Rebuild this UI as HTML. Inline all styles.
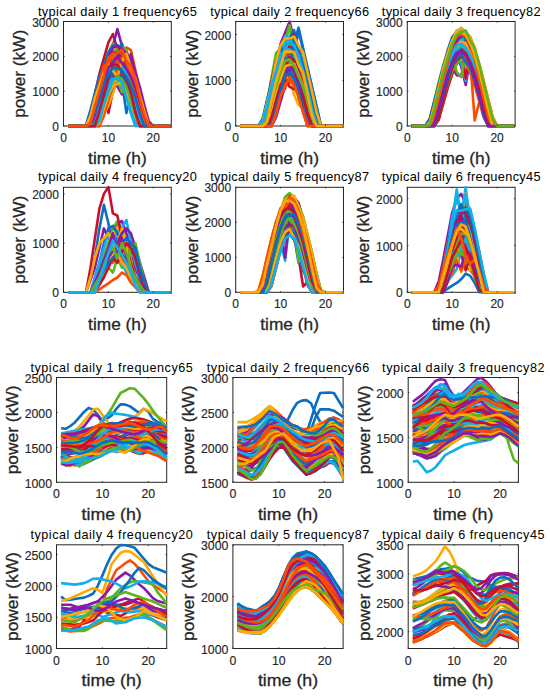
<!DOCTYPE html><html><head><meta charset="utf-8"><style>html,body{margin:0;padding:0;background:#fff;}svg{display:block;font-family:"Liberation Sans",sans-serif;}text{stroke:#262626;stroke-width:0.3px;}text.t{stroke:none;}text.k{stroke-width:0.15px;}</style></head><body>
<svg width="550" height="696" viewBox="0 0 550 696">
<rect width="550" height="696" fill="#fff"/>
<rect x="63.5" y="21.5" width="107.8" height="104.5" fill="none" stroke="#262626" stroke-width="1"/>
<clipPath id="c0"><rect x="61.5" y="19.5" width="111.8" height="108.5"/></clipPath>
<g clip-path="url(#c0)" fill="none" stroke-width="2.6" stroke-linejoin="round" stroke-linecap="butt">
<polyline stroke="#0a6ec4" points="68.0,126.0 72.5,126.0 77.0,126.0 81.5,126.0 86.0,126.0 90.5,126.0 94.9,118.6 99.4,101.3 103.9,85.0 108.4,71.6 112.9,64.6 117.4,57.8 121.9,56.8 126.4,68.4 130.9,77.3 135.4,93.9 139.9,108.8 144.4,123.9 148.8,126.0 153.3,126.0 157.8,126.0 162.3,126.0 166.8,126.0 171.3,126.0"/>
<polyline stroke="#ff4a00" points="68.0,126.0 72.5,126.0 77.0,126.0 81.5,126.0 86.0,126.0 90.5,126.0 94.9,114.4 99.4,98.9 103.9,82.9 108.4,69.7 112.9,61.3 117.4,61.6 121.9,60.3 126.4,64.8 130.9,82.8 135.4,94.0 139.9,111.5 144.4,126.0 148.8,126.0 153.3,126.0 157.8,126.0 162.3,126.0 166.8,126.0 171.3,126.0"/>
<polyline stroke="#ffaa00" points="68.0,126.0 72.5,126.0 77.0,126.0 81.5,126.0 86.0,126.0 90.5,126.0 94.9,126.0 99.4,110.5 103.9,92.3 108.4,81.4 112.9,70.3 117.4,62.5 121.9,71.0 126.4,75.7 130.9,88.4 135.4,104.0 139.9,121.8 144.4,126.0 148.8,126.0 153.3,126.0 157.8,126.0 162.3,126.0 166.8,126.0 171.3,126.0"/>
<polyline stroke="#8c1aa8" points="68.0,126.0 72.5,126.0 77.0,126.0 81.5,126.0 86.0,126.0 90.5,126.0 94.9,113.4 99.4,98.9 103.9,84.0 108.4,76.5 112.9,65.8 117.4,68.4 121.9,71.5 126.4,74.5 130.9,86.4 135.4,98.7 139.9,112.8 144.4,126.0 148.8,126.0 153.3,126.0 157.8,126.0 162.3,126.0 166.8,126.0 171.3,126.0"/>
<polyline stroke="#5db320" points="68.0,126.0 72.5,126.0 77.0,126.0 81.5,126.0 86.0,126.0 90.5,119.6 94.9,104.2 99.4,87.6 103.9,77.0 108.4,63.7 112.9,51.5 117.4,55.4 121.9,47.2 126.4,60.3 130.9,63.2 135.4,79.9 139.9,92.8 144.4,110.1 148.8,125.0 153.3,126.0 157.8,126.0 162.3,126.0 166.8,126.0 171.3,126.0"/>
<polyline stroke="#12b0ea" points="68.0,126.0 72.5,126.0 77.0,126.0 81.5,126.0 86.0,126.0 90.5,126.0 94.9,121.9 99.4,107.3 103.9,91.8 108.4,79.2 112.9,68.5 117.4,64.7 121.9,65.0 126.4,73.1 130.9,81.9 135.4,92.1 139.9,110.3 144.4,124.5 148.8,126.0 153.3,126.0 157.8,126.0 162.3,126.0 166.8,126.0 171.3,126.0"/>
<polyline stroke="#c8102e" points="68.0,126.0 72.5,126.0 77.0,126.0 81.5,126.0 86.0,126.0 90.5,115.5 94.9,94.7 99.4,73.8 103.9,58.1 108.4,42.4 112.9,34.0 117.4,49.4 121.9,63.3 126.4,80.7 130.9,98.1 135.4,112.1 139.9,126.0 144.4,126.0 148.8,126.0 153.3,126.0 157.8,126.0 162.3,126.0 166.8,126.0 171.3,126.0"/>
<polyline stroke="#0a6ec4" points="68.0,126.0 72.5,126.0 77.0,126.0 81.5,126.0 86.0,126.0 90.5,126.0 94.9,120.3 99.4,104.5 103.9,89.0 108.4,70.0 112.9,64.4 117.4,57.3 121.9,56.7 126.4,70.5 130.9,83.2 135.4,95.2 139.9,113.1 144.4,126.0 148.8,126.0 153.3,126.0 157.8,126.0 162.3,126.0 166.8,126.0 171.3,126.0"/>
<polyline stroke="#ff4a00" points="68.0,126.0 72.5,126.0 77.0,126.0 81.5,126.0 86.0,126.0 90.5,126.0 94.9,118.3 99.4,99.7 103.9,87.5 108.4,69.5 112.9,61.8 117.4,57.0 121.9,61.8 126.4,65.3 130.9,73.9 135.4,90.4 139.9,106.9 144.4,123.1 148.8,126.0 153.3,126.0 157.8,126.0 162.3,126.0 166.8,126.0 171.3,126.0"/>
<polyline stroke="#ffaa00" points="68.0,126.0 72.5,126.0 77.0,126.0 81.5,126.0 86.0,126.0 90.5,126.0 94.9,126.0 99.4,125.1 103.9,109.5 108.4,95.4 112.9,81.8 117.4,79.1 121.9,78.3 126.4,91.6 130.9,104.4 135.4,120.5 139.9,126.0 144.4,126.0 148.8,126.0 153.3,126.0 157.8,126.0 162.3,126.0 166.8,126.0 171.3,126.0"/>
<polyline stroke="#8c1aa8" points="68.0,126.0 72.5,126.0 77.0,126.0 81.5,126.0 86.0,126.0 90.5,126.0 94.9,113.2 99.4,100.5 103.9,87.7 108.4,66.8 112.9,45.9 117.4,29.0 121.9,45.9 126.4,66.8 130.9,87.7 135.4,100.5 139.9,113.2 144.4,126.0 148.8,126.0 153.3,126.0 157.8,126.0 162.3,126.0 166.8,126.0 171.3,126.0"/>
<polyline stroke="#5db320" points="68.0,126.0 72.5,126.0 77.0,126.0 81.5,126.0 86.0,126.0 90.5,126.0 94.9,118.1 99.4,104.0 103.9,87.7 108.4,79.0 112.9,68.7 117.4,63.8 121.9,70.7 126.4,78.6 130.9,88.6 135.4,103.0 139.9,118.2 144.4,126.0 148.8,126.0 153.3,126.0 157.8,126.0 162.3,126.0 166.8,126.0 171.3,126.0"/>
<polyline stroke="#12b0ea" points="68.0,126.0 72.5,126.0 77.0,126.0 81.5,126.0 86.0,126.0 90.5,121.2 94.9,107.3 99.4,91.0 103.9,74.9 108.4,65.4 112.9,64.2 117.4,62.8 121.9,65.4 126.4,71.7 130.9,84.6 135.4,98.4 139.9,113.8 144.4,126.0 148.8,126.0 153.3,126.0 157.8,126.0 162.3,126.0 166.8,126.0 171.3,126.0"/>
<polyline stroke="#c8102e" points="68.0,126.0 72.5,126.0 77.0,126.0 81.5,126.0 86.0,126.0 90.5,126.0 94.9,126.0 99.4,126.0 103.9,111.2 108.4,95.6 112.9,84.0 117.4,77.9 121.9,76.0 126.4,83.9 130.9,98.6 135.4,113.9 139.9,126.0 144.4,126.0 148.8,126.0 153.3,126.0 157.8,126.0 162.3,126.0 166.8,126.0 171.3,126.0"/>
<polyline stroke="#0a6ec4" points="68.0,126.0 72.5,126.0 77.0,126.0 81.5,126.0 86.0,126.0 90.5,126.0 94.9,111.2 99.4,96.4 103.9,81.6 108.4,66.8 112.9,59.8 117.4,52.8 121.9,43.4 126.4,56.3 130.9,73.8 135.4,91.2 139.9,108.6 144.4,126.0 148.8,126.0 153.3,126.0 157.8,126.0 162.3,126.0 166.8,126.0 171.3,126.0"/>
<polyline stroke="#ff4a00" points="68.0,126.0 72.5,126.0 77.0,126.0 81.5,126.0 86.0,126.0 90.5,126.0 94.9,114.7 99.4,103.4 103.9,92.0 108.4,80.7 112.9,70.3 117.4,63.3 121.9,56.3 126.4,47.5 130.9,50.1 135.4,70.3 139.9,91.2 144.4,112.1 148.8,122.8 153.3,126.0 157.8,126.0 162.3,126.0 166.8,126.0 171.3,126.0"/>
<polyline stroke="#ffaa00" points="68.0,126.0 72.5,126.0 77.0,126.0 81.5,126.0 86.0,126.0 90.5,126.0 94.9,123.6 99.4,107.1 103.9,92.7 108.4,74.9 112.9,69.4 117.4,68.0 121.9,66.8 126.4,73.5 130.9,91.9 135.4,107.3 139.9,123.1 144.4,126.0 148.8,126.0 153.3,126.0 157.8,126.0 162.3,126.0 166.8,126.0 171.3,126.0"/>
<polyline stroke="#8c1aa8" points="68.0,126.0 72.5,126.0 77.0,126.0 81.5,126.0 86.0,126.0 90.5,126.0 94.9,114.7 99.4,103.4 103.9,92.0 108.4,80.7 112.9,73.8 117.4,66.8 121.9,63.3 126.4,59.8 130.9,54.0 135.4,73.8 139.9,94.7 144.4,110.3 148.8,126.0 153.3,126.0 157.8,126.0 162.3,126.0 166.8,126.0 171.3,126.0"/>
<polyline stroke="#5db320" points="68.0,126.0 72.5,126.0 77.0,126.0 81.5,126.0 86.0,126.0 90.5,115.9 94.9,99.8 99.4,81.8 103.9,67.1 108.4,52.3 112.9,43.7 117.4,48.5 121.9,54.3 126.4,61.1 130.9,75.2 135.4,91.0 139.9,107.4 144.4,123.7 148.8,126.0 153.3,126.0 157.8,126.0 162.3,126.0 166.8,126.0 171.3,126.0"/>
<polyline stroke="#12b0ea" points="68.0,126.0 72.5,126.0 77.0,126.0 81.5,126.0 86.0,126.0 90.5,126.0 94.9,118.3 99.4,101.7 103.9,85.9 108.4,73.0 112.9,63.5 117.4,60.8 121.9,60.0 126.4,67.1 130.9,76.9 135.4,93.6 139.9,108.3 144.4,124.1 148.8,126.0 153.3,126.0 157.8,126.0 162.3,126.0 166.8,126.0 171.3,126.0"/>
<polyline stroke="#c8102e" points="68.0,126.0 72.5,126.0 77.0,126.0 81.5,126.0 86.0,126.0 90.5,126.0 94.9,110.3 99.4,94.7 103.9,80.7 108.4,113.0 112.9,91.2 117.4,73.8 121.9,80.7 126.4,89.4 130.9,98.1 135.4,112.1 139.9,126.0 144.4,126.0 148.8,126.0 153.3,126.0 157.8,126.0 162.3,126.0 166.8,126.0 171.3,126.0"/>
<polyline stroke="#0a6ec4" points="68.0,126.0 72.5,126.0 77.0,126.0 81.5,126.0 86.0,126.0 90.5,126.0 94.9,114.4 99.4,102.8 103.9,91.2 108.4,80.7 112.9,70.3 117.4,66.8 121.9,80.7 126.4,113.0 130.9,94.7 135.4,110.3 139.9,126.0 144.4,126.0 148.8,126.0 153.3,126.0 157.8,126.0 162.3,126.0 166.8,126.0 171.3,126.0"/>
<polyline stroke="#ff4a00" points="68.0,126.0 72.5,126.0 77.0,126.0 81.5,126.0 86.0,126.0 90.5,126.0 94.9,126.0 99.4,117.3 103.9,100.4 108.4,84.7 112.9,79.5 117.4,77.6 121.9,82.7 126.4,92.9 130.9,110.0 135.4,125.1 139.9,126.0 144.4,126.0 148.8,126.0 153.3,126.0 157.8,126.0 162.3,126.0 166.8,126.0 171.3,126.0"/>
<polyline stroke="#ffaa00" points="68.0,126.0 72.5,126.0 77.0,126.0 81.5,126.0 86.0,126.0 90.5,117.0 94.9,100.3 99.4,82.0 103.9,71.9 108.4,75.3 112.9,87.5 117.4,69.8 121.9,52.1 126.4,57.9 130.9,67.0 135.4,85.6 139.9,102.3 144.4,118.6 148.8,126.0 153.3,126.0 157.8,126.0 162.3,126.0 166.8,126.0 171.3,126.0"/>
<polyline stroke="#8c1aa8" points="68.0,126.0 72.5,126.0 77.0,126.0 81.5,126.0 86.0,126.0 90.5,126.0 94.9,121.6 99.4,107.6 103.9,94.8 108.4,80.2 112.9,74.9 117.4,74.0 121.9,76.0 126.4,83.4 130.9,93.8 135.4,109.7 139.9,122.7 144.4,126.0 148.8,126.0 153.3,126.0 157.8,126.0 162.3,126.0 166.8,126.0 171.3,126.0"/>
<polyline stroke="#5db320" points="68.0,126.0 72.5,126.0 77.0,126.0 81.5,126.0 86.0,126.0 90.5,126.0 94.9,126.0 99.4,113.0 103.9,95.4 108.4,79.7 112.9,71.0 117.4,69.5 121.9,66.1 126.4,76.4 130.9,88.5 135.4,104.9 139.9,121.2 144.4,126.0 148.8,126.0 153.3,126.0 157.8,126.0 162.3,126.0 166.8,126.0 171.3,126.0"/>
<polyline stroke="#12b0ea" points="68.0,126.0 72.5,126.0 77.0,126.0 81.5,126.0 86.0,126.0 90.5,126.0 94.9,123.5 99.4,108.8 103.9,94.2 108.4,84.3 112.9,74.1 117.4,68.8 121.9,73.8 126.4,85.8 130.9,101.2 135.4,117.7 139.9,126.0 144.4,126.0 148.8,126.0 153.3,126.0 157.8,126.0 162.3,126.0 166.8,126.0 171.3,126.0"/>
<polyline stroke="#c8102e" points="68.0,126.0 72.5,126.0 77.0,126.0 81.5,126.0 86.0,126.0 90.5,120.9 94.9,105.1 99.4,86.7 103.9,76.1 108.4,63.5 112.9,58.6 117.4,51.3 121.9,64.3 126.4,69.0 130.9,80.8 135.4,94.2 139.9,111.0 144.4,125.8 148.8,126.0 153.3,126.0 157.8,126.0 162.3,126.0 166.8,126.0 171.3,126.0"/>
<polyline stroke="#0a6ec4" points="68.0,126.0 72.5,126.0 77.0,126.0 81.5,126.0 86.0,126.0 90.5,126.0 94.9,126.0 99.4,121.2 103.9,107.0 108.4,95.7 112.9,89.4 117.4,81.9 121.9,86.1 126.4,93.8 130.9,106.5 135.4,120.1 139.9,126.0 144.4,126.0 148.8,126.0 153.3,126.0 157.8,126.0 162.3,126.0 166.8,126.0 171.3,126.0"/>
<polyline stroke="#ff4a00" points="68.0,126.0 72.5,126.0 77.0,126.0 81.5,126.0 86.0,126.0 90.5,126.0 94.9,126.0 99.4,110.4 103.9,93.1 108.4,75.9 112.9,61.9 117.4,52.4 121.9,64.0 126.4,71.4 130.9,86.2 135.4,102.2 139.9,121.4 144.4,126.0 148.8,126.0 153.3,126.0 157.8,126.0 162.3,126.0 166.8,126.0 171.3,126.0"/>
<polyline stroke="#ffaa00" points="68.0,126.0 72.5,126.0 77.0,126.0 81.5,126.0 86.0,126.0 90.5,126.0 94.9,126.0 99.4,126.0 103.9,114.2 108.4,105.5 112.9,93.6 117.4,79.5 121.9,83.6 126.4,90.8 130.9,106.9 135.4,122.1 139.9,126.0 144.4,126.0 148.8,126.0 153.3,126.0 157.8,126.0 162.3,126.0 166.8,126.0 171.3,126.0"/>
<polyline stroke="#8c1aa8" points="68.0,126.0 72.5,126.0 77.0,126.0 81.5,126.0 86.0,126.0 90.5,126.0 94.9,126.0 99.4,118.7 103.9,100.6 108.4,84.1 112.9,75.6 117.4,70.4 121.9,75.7 126.4,86.0 130.9,102.3 135.4,120.0 139.9,126.0 144.4,126.0 148.8,126.0 153.3,126.0 157.8,126.0 162.3,126.0 166.8,126.0 171.3,126.0"/>
<polyline stroke="#5db320" points="68.0,126.0 72.5,126.0 77.0,126.0 81.5,126.0 86.0,126.0 90.5,126.0 94.9,126.0 99.4,113.2 103.9,94.2 108.4,78.7 112.9,65.2 117.4,59.8 121.9,65.4 126.4,75.8 130.9,94.3 135.4,114.2 139.9,126.0 144.4,126.0 148.8,126.0 153.3,126.0 157.8,126.0 162.3,126.0 166.8,126.0 171.3,126.0"/>
<polyline stroke="#12b0ea" points="68.0,126.0 72.5,126.0 77.0,126.0 81.5,126.0 86.0,126.0 90.5,126.0 94.9,114.7 99.4,97.9 103.9,79.6 108.4,64.6 112.9,58.6 117.4,51.8 121.9,55.0 126.4,64.0 130.9,76.4 135.4,91.6 139.9,109.5 144.4,125.7 148.8,126.0 153.3,126.0 157.8,126.0 162.3,126.0 166.8,126.0 171.3,126.0"/>
<polyline stroke="#c8102e" points="68.0,126.0 72.5,126.0 77.0,126.0 81.5,126.0 86.0,126.0 90.5,126.0 94.9,126.0 99.4,111.2 103.9,93.2 108.4,77.8 112.9,69.6 117.4,64.0 121.9,75.4 126.4,79.7 130.9,97.4 135.4,113.1 139.9,126.0 144.4,126.0 148.8,126.0 153.3,126.0 157.8,126.0 162.3,126.0 166.8,126.0 171.3,126.0"/>
<polyline stroke="#0a6ec4" points="68.0,126.0 72.5,126.0 77.0,126.0 81.5,126.0 86.0,126.0 90.5,126.0 94.9,114.4 99.4,97.7 103.9,78.2 108.4,68.0 112.9,57.9 117.4,59.5 121.9,60.7 126.4,70.9 130.9,87.1 135.4,101.9 139.9,121.0 144.4,126.0 148.8,126.0 153.3,126.0 157.8,126.0 162.3,126.0 166.8,126.0 171.3,126.0"/>
<polyline stroke="#ff4a00" points="68.0,126.0 72.5,126.0 77.0,126.0 81.5,126.0 86.0,126.0 90.5,126.0 94.9,126.0 99.4,126.0 103.9,115.7 108.4,100.2 112.9,84.0 117.4,81.5 121.9,78.3 126.4,88.8 130.9,99.0 135.4,115.1 139.9,126.0 144.4,126.0 148.8,126.0 153.3,126.0 157.8,126.0 162.3,126.0 166.8,126.0 171.3,126.0"/>
<polyline stroke="#ffaa00" points="68.0,126.0 72.5,126.0 77.0,126.0 81.5,126.0 86.0,126.0 90.5,126.0 94.9,126.0 99.4,117.4 103.9,98.0 108.4,83.7 112.9,71.0 117.4,64.0 121.9,62.3 126.4,75.7 130.9,90.2 135.4,107.2 139.9,125.5 144.4,126.0 148.8,126.0 153.3,126.0 157.8,126.0 162.3,126.0 166.8,126.0 171.3,126.0"/>
<polyline stroke="#8c1aa8" points="68.0,126.0 72.5,126.0 77.0,126.0 81.5,126.0 86.0,126.0 90.5,126.0 94.9,126.0 99.4,112.6 103.9,94.7 108.4,78.8 112.9,74.5 117.4,86.7 121.9,94.3 126.4,86.6 130.9,87.4 135.4,106.5 139.9,122.1 144.4,126.0 148.8,126.0 153.3,126.0 157.8,126.0 162.3,126.0 166.8,126.0 171.3,126.0"/>
<polyline stroke="#5db320" points="68.0,126.0 72.5,126.0 77.0,126.0 81.5,126.0 86.0,126.0 90.5,126.0 94.9,111.2 99.4,93.9 103.9,77.0 108.4,64.7 112.9,51.5 117.4,49.2 121.9,47.5 126.4,50.0 130.9,63.3 135.4,78.5 139.9,96.7 144.4,115.2 148.8,126.0 153.3,126.0 157.8,126.0 162.3,126.0 166.8,126.0 171.3,126.0"/>
<polyline stroke="#12b0ea" points="68.0,126.0 72.5,126.0 77.0,126.0 81.5,126.0 86.0,126.0 90.5,126.0 94.9,126.0 99.4,124.3 103.9,109.4 108.4,97.4 112.9,87.2 117.4,79.3 121.9,85.3 126.4,95.6 130.9,108.9 135.4,124.0 139.9,126.0 144.4,126.0 148.8,126.0 153.3,126.0 157.8,126.0 162.3,126.0 166.8,126.0 171.3,126.0"/>
<polyline stroke="#c8102e" points="68.0,126.0 72.5,126.0 77.0,126.0 81.5,126.0 86.0,126.0 90.5,112.8 94.9,96.7 99.4,80.9 103.9,69.0 108.4,56.7 112.9,45.8 117.4,45.8 121.9,52.6 126.4,58.9 130.9,70.3 135.4,85.1 139.9,103.6 144.4,119.9 148.8,126.0 153.3,126.0 157.8,126.0 162.3,126.0 166.8,126.0 171.3,126.0"/>
<polyline stroke="#0a6ec4" points="68.0,126.0 72.5,126.0 77.0,126.0 81.5,126.0 86.0,124.9 90.5,109.9 94.9,92.8 99.4,76.4 103.9,66.1 108.4,52.5 112.9,46.0 117.4,45.1 121.9,48.3 126.4,60.9 130.9,72.9 135.4,85.9 139.9,104.7 144.4,119.3 148.8,126.0 153.3,126.0 157.8,126.0 162.3,126.0 166.8,126.0 171.3,126.0"/>
<polyline stroke="#ff4a00" points="68.0,126.0 72.5,126.0 77.0,126.0 81.5,126.0 86.0,126.0 90.5,126.0 94.9,126.0 99.4,126.0 103.9,114.3 108.4,96.9 112.9,86.3 117.4,84.2 121.9,82.9 126.4,91.9 130.9,108.3 135.4,123.6 139.9,126.0 144.4,126.0 148.8,126.0 153.3,126.0 157.8,126.0 162.3,126.0 166.8,126.0 171.3,126.0"/>
<polyline stroke="#ffaa00" points="68.0,126.0 72.5,126.0 77.0,126.0 81.5,126.0 86.0,126.0 90.5,126.0 94.9,126.0 99.4,123.2 103.9,106.7 108.4,94.9 112.9,82.6 117.4,79.5 121.9,85.5 126.4,95.8 130.9,111.7 135.4,126.0 139.9,126.0 144.4,126.0 148.8,126.0 153.3,126.0 157.8,126.0 162.3,126.0 166.8,126.0 171.3,126.0"/>
<polyline stroke="#8c1aa8" points="68.0,126.0 72.5,126.0 77.0,126.0 81.5,126.0 86.0,126.0 90.5,120.5 94.9,104.9 99.4,88.4 103.9,71.5 108.4,58.0 112.9,47.7 117.4,45.8 121.9,48.9 126.4,53.4 130.9,59.7 135.4,72.6 139.9,87.1 144.4,105.4 148.8,121.4 153.3,126.0 157.8,126.0 162.3,126.0 166.8,126.0 171.3,126.0"/>
<polyline stroke="#5db320" points="68.0,126.0 72.5,126.0 77.0,126.0 81.5,126.0 86.0,126.0 90.5,126.0 94.9,126.0 99.4,110.4 103.9,90.2 108.4,80.3 112.9,68.2 117.4,79.1 121.9,92.2 126.4,88.3 130.9,90.7 135.4,105.0 139.9,123.2 144.4,126.0 148.8,126.0 153.3,126.0 157.8,126.0 162.3,126.0 166.8,126.0 171.3,126.0"/>
<polyline stroke="#12b0ea" points="68.0,126.0 72.5,126.0 77.0,126.0 81.5,126.0 86.0,126.0 90.5,126.0 94.9,126.0 99.4,117.9 103.9,96.8 108.4,83.5 112.9,70.9 117.4,67.1 121.9,72.0 126.4,86.8 130.9,105.6 135.4,124.5 139.9,126.0 144.4,126.0 148.8,126.0 153.3,126.0 157.8,126.0 162.3,126.0 166.8,126.0 171.3,126.0"/>
<polyline stroke="#c8102e" points="68.0,126.0 72.5,126.0 77.0,126.0 81.5,126.0 86.0,126.0 90.5,126.0 94.9,112.3 99.4,96.6 103.9,82.0 108.4,66.2 112.9,58.1 117.4,60.0 121.9,61.6 126.4,65.8 130.9,78.5 135.4,96.1 139.9,111.9 144.4,126.0 148.8,126.0 153.3,126.0 157.8,126.0 162.3,126.0 166.8,126.0 171.3,126.0"/>
<polyline stroke="#0a6ec4" points="68.0,126.0 72.5,126.0 77.0,126.0 81.5,126.0 86.0,126.0 90.5,124.5 94.9,111.1 99.4,98.4 103.9,88.9 108.4,68.4 112.9,65.3 117.4,59.2 121.9,66.8 126.4,66.2 130.9,75.1 135.4,87.5 139.9,103.2 144.4,117.5 148.8,126.0 153.3,126.0 157.8,126.0 162.3,126.0 166.8,126.0 171.3,126.0"/>
<polyline stroke="#ff4a00" points="68.0,126.0 72.5,126.0 77.0,126.0 81.5,126.0 86.0,126.0 90.5,126.0 94.9,123.3 99.4,105.6 103.9,85.4 108.4,74.4 112.9,62.1 117.4,61.0 121.9,64.2 126.4,73.0 130.9,82.0 135.4,99.6 139.9,119.7 144.4,126.0 148.8,126.0 153.3,126.0 157.8,126.0 162.3,126.0 166.8,126.0 171.3,126.0"/>
<polyline stroke="#ffaa00" points="68.0,126.0 72.5,126.0 77.0,126.0 81.5,126.0 86.0,126.0 90.5,126.0 94.9,126.0 99.4,122.4 103.9,108.5 108.4,94.5 112.9,86.0 117.4,83.8 121.9,82.4 126.4,94.0 130.9,101.8 135.4,116.8 139.9,126.0 144.4,126.0 148.8,126.0 153.3,126.0 157.8,126.0 162.3,126.0 166.8,126.0 171.3,126.0"/>
<polyline stroke="#8c1aa8" points="68.0,126.0 72.5,126.0 77.0,126.0 81.5,126.0 86.0,126.0 90.5,126.0 94.9,118.7 99.4,103.5 103.9,86.0 108.4,74.4 112.9,69.2 117.4,65.9 121.9,70.8 126.4,80.6 130.9,93.1 135.4,110.2 139.9,125.8 144.4,126.0 148.8,126.0 153.3,126.0 157.8,126.0 162.3,126.0 166.8,126.0 171.3,126.0"/>
<polyline stroke="#5db320" points="68.0,126.0 72.5,126.0 77.0,126.0 81.5,126.0 86.0,126.0 90.5,119.4 94.9,102.5 99.4,88.0 103.9,71.7 108.4,62.8 112.9,54.0 117.4,56.5 121.9,56.2 126.4,58.3 130.9,77.9 135.4,87.2 139.9,102.7 144.4,119.1 148.8,126.0 153.3,126.0 157.8,126.0 162.3,126.0 166.8,126.0 171.3,126.0"/>
<polyline stroke="#12b0ea" points="68.0,126.0 72.5,126.0 77.0,126.0 81.5,126.0 86.0,126.0 90.5,126.0 94.9,123.8 99.4,107.8 103.9,94.2 108.4,76.5 112.9,61.7 117.4,69.3 121.9,64.5 126.4,74.2 130.9,88.0 135.4,102.4 139.9,120.3 144.4,126.0 148.8,126.0 153.3,126.0 157.8,126.0 162.3,126.0 166.8,126.0 171.3,126.0"/>
<polyline stroke="#c8102e" points="68.0,126.0 72.5,126.0 77.0,126.0 81.5,126.0 86.0,126.0 90.5,117.4 94.9,104.1 99.4,89.9 103.9,71.9 108.4,63.9 112.9,52.7 117.4,52.9 121.9,57.6 126.4,60.5 130.9,66.5 135.4,79.8 139.9,95.8 144.4,110.8 148.8,124.6 153.3,126.0 157.8,126.0 162.3,126.0 166.8,126.0 171.3,126.0"/>
<polyline stroke="#0a6ec4" points="68.0,126.0 72.5,126.0 77.0,126.0 81.5,126.0 86.0,126.0 90.5,126.0 94.9,126.0 99.4,112.8 103.9,97.1 108.4,79.8 112.9,73.1 117.4,72.3 121.9,73.4 126.4,83.6 130.9,99.2 135.4,114.2 139.9,126.0 144.4,126.0 148.8,126.0 153.3,126.0 157.8,126.0 162.3,126.0 166.8,126.0 171.3,126.0"/>
<polyline stroke="#ff4a00" points="68.0,126.0 72.5,126.0 77.0,126.0 81.5,126.0 86.0,126.0 90.5,116.8 94.9,100.0 99.4,82.5 103.9,65.6 108.4,63.1 112.9,55.7 117.4,74.2 121.9,57.5 126.4,62.0 130.9,74.0 135.4,87.1 139.9,105.5 144.4,121.2 148.8,126.0 153.3,126.0 157.8,126.0 162.3,126.0 166.8,126.0 171.3,126.0"/>
<polyline stroke="#ffaa00" points="68.0,126.0 72.5,126.0 77.0,126.0 81.5,126.0 86.0,126.0 90.5,115.8 94.9,97.8 99.4,85.6 103.9,72.7 108.4,64.4 112.9,70.8 117.4,76.6 121.9,61.2 126.4,53.8 130.9,67.9 135.4,78.6 139.9,95.7 144.4,111.3 148.8,125.5 153.3,126.0 157.8,126.0 162.3,126.0 166.8,126.0 171.3,126.0"/>
<polyline stroke="#8c1aa8" points="68.0,126.0 72.5,126.0 77.0,126.0 81.5,126.0 86.0,126.0 90.5,123.3 94.9,108.3 99.4,95.5 103.9,77.7 108.4,67.4 112.9,62.9 117.4,56.1 121.9,63.2 126.4,69.0 130.9,76.9 135.4,87.4 139.9,101.5 144.4,116.3 148.8,126.0 153.3,126.0 157.8,126.0 162.3,126.0 166.8,126.0 171.3,126.0"/>
<polyline stroke="#5db320" points="68.0,126.0 72.5,126.0 77.0,126.0 81.5,126.0 86.0,126.0 90.5,126.0 94.9,126.0 99.4,117.8 103.9,104.0 108.4,91.5 112.9,80.7 117.4,75.6 121.9,79.4 126.4,86.6 130.9,100.5 135.4,114.7 139.9,126.0 144.4,126.0 148.8,126.0 153.3,126.0 157.8,126.0 162.3,126.0 166.8,126.0 171.3,126.0"/>
<polyline stroke="#12b0ea" points="68.0,126.0 72.5,126.0 77.0,126.0 81.5,126.0 86.0,126.0 90.5,126.0 94.9,126.0 99.4,121.4 103.9,103.9 108.4,92.3 112.9,78.8 117.4,78.5 121.9,82.6 126.4,97.7 130.9,113.4 135.4,126.0 139.9,126.0 144.4,126.0 148.8,126.0 153.3,126.0 157.8,126.0 162.3,126.0 166.8,126.0 171.3,126.0"/>
<polyline stroke="#c8102e" points="68.0,126.0 72.5,126.0 77.0,126.0 81.5,126.0 86.0,126.0 90.5,126.0 94.9,126.0 99.4,110.9 103.9,94.4 108.4,77.3 112.9,64.9 117.4,64.5 121.9,72.1 126.4,78.8 130.9,92.7 135.4,112.2 139.9,126.0 144.4,126.0 148.8,126.0 153.3,126.0 157.8,126.0 162.3,126.0 166.8,126.0 171.3,126.0"/>
<polyline stroke="#0a6ec4" points="68.0,126.0 72.5,126.0 77.0,126.0 81.5,126.0 86.0,126.0 90.5,124.4 94.9,111.6 99.4,99.1 103.9,81.7 108.4,74.7 112.9,67.5 117.4,68.2 121.9,70.5 126.4,76.9 130.9,85.9 135.4,98.3 139.9,114.4 144.4,126.0 148.8,126.0 153.3,126.0 157.8,126.0 162.3,126.0 166.8,126.0 171.3,126.0"/>
<polyline stroke="#ff4a00" points="68.0,126.0 72.5,126.0 77.0,126.0 81.5,126.0 86.0,126.0 90.5,123.6 94.9,106.6 99.4,90.9 103.9,75.8 108.4,57.8 112.9,53.8 117.4,53.3 121.9,49.8 126.4,61.2 130.9,65.7 135.4,80.1 139.9,99.0 144.4,115.2 148.8,126.0 153.3,126.0 157.8,126.0 162.3,126.0 166.8,126.0 171.3,126.0"/>
</g>
<path d="M63.5 126.0v-1.1M63.5 21.5v1.1M108.4 126.0v-1.1M108.4 21.5v1.1M153.3 126.0v-1.1M153.3 21.5v1.1M63.5 126.0h1.1M171.3 126.0h-1.1M63.5 91.2h1.1M171.3 91.2h-1.1M63.5 56.3h1.1M171.3 56.3h-1.1M63.5 21.5h1.1M171.3 21.5h-1.1" stroke="#262626" stroke-width="1" fill="none"/>
<text class="k" x="63.5" y="142.0" font-size="12.0" text-anchor="middle" fill="#262626">0</text>
<text class="k" x="108.4" y="142.0" font-size="12.0" text-anchor="middle" fill="#262626">10</text>
<text class="k" x="153.3" y="142.0" font-size="12.0" text-anchor="middle" fill="#262626">20</text>
<text class="k" x="58.9" y="131.1" font-size="12.0" text-anchor="end" fill="#262626">0</text>
<text class="k" x="58.9" y="96.3" font-size="12.0" text-anchor="end" fill="#262626">1000</text>
<text class="k" x="58.9" y="61.4" font-size="12.0" text-anchor="end" fill="#262626">2000</text>
<text class="k" x="58.9" y="26.6" font-size="12.0" text-anchor="end" fill="#262626">3000</text>
<text class="t" x="38.0" y="15.6" font-size="12.8" textLength="158.8" lengthAdjust="spacing" fill="#000">typical daily 1 frequency65</text>
<text x="88.1" y="163.5" font-size="16.4" textLength="58.6" lengthAdjust="spacingAndGlyphs" fill="#262626">time (h)</text>
<text transform="translate(19.1 73.8) rotate(-90)" x="0" y="6.2" font-size="17.2" text-anchor="middle" fill="#262626">power (kW)</text>
<rect x="235.7" y="21.5" width="107.8" height="104.5" fill="none" stroke="#262626" stroke-width="1"/>
<clipPath id="c1"><rect x="233.7" y="19.5" width="111.8" height="108.5"/></clipPath>
<g clip-path="url(#c1)" fill="none" stroke-width="2.6" stroke-linejoin="round" stroke-linecap="butt">
<polyline stroke="#0a6ec4" points="240.2,126.0 244.7,126.0 249.2,126.0 253.7,126.0 258.2,126.0 262.6,126.0 267.1,126.0 271.6,112.3 276.1,98.6 280.6,84.8 285.1,71.1 289.6,57.4 294.1,42.5 298.6,27.7 303.1,48.3 307.6,67.7 312.1,87.1 316.6,106.6 321.0,126.0 325.5,126.0 330.0,126.0 334.5,126.0 339.0,126.0 343.5,126.0"/>
<polyline stroke="#ff4a00" points="240.2,126.0 244.7,126.0 249.2,126.0 253.7,126.0 258.2,126.0 262.6,126.0 267.1,126.0 271.6,126.0 276.1,107.1 280.6,84.8 285.1,62.8 289.6,60.9 294.1,64.5 298.6,84.1 303.1,104.0 307.6,125.3 312.1,126.0 316.6,126.0 321.0,126.0 325.5,126.0 330.0,126.0 334.5,126.0 339.0,126.0 343.5,126.0"/>
<polyline stroke="#ffaa00" points="240.2,126.0 244.7,126.0 249.2,126.0 253.7,126.0 258.2,126.0 262.6,126.0 267.1,126.0 271.6,126.0 276.1,113.3 280.6,95.5 285.1,80.2 289.6,76.7 294.1,81.6 298.6,94.4 303.1,111.5 307.6,126.0 312.1,126.0 316.6,126.0 321.0,126.0 325.5,126.0 330.0,126.0 334.5,126.0 339.0,126.0 343.5,126.0"/>
<polyline stroke="#8c1aa8" points="240.2,126.0 244.7,126.0 249.2,126.0 253.7,126.0 258.2,126.0 262.6,126.0 267.1,105.4 271.6,84.8 276.1,64.3 280.6,43.7 285.1,32.7 289.6,21.7 294.1,39.1 298.6,56.5 303.1,73.9 307.6,91.2 312.1,108.6 316.6,126.0 321.0,126.0 325.5,126.0 330.0,126.0 334.5,126.0 339.0,126.0 343.5,126.0"/>
<polyline stroke="#5db320" points="240.2,126.0 244.7,126.0 249.2,126.0 253.7,126.0 258.2,126.0 262.6,126.0 267.1,101.6 271.6,77.2 276.1,52.8 280.6,48.3 285.1,43.7 289.6,25.4 294.1,57.4 298.6,71.1 303.1,84.8 307.6,98.6 312.1,112.3 316.6,126.0 321.0,126.0 325.5,126.0 330.0,126.0 334.5,126.0 339.0,126.0 343.5,126.0"/>
<polyline stroke="#12b0ea" points="240.2,126.0 244.7,126.0 249.2,126.0 253.7,126.0 258.2,126.0 262.6,126.0 267.1,126.0 271.6,126.0 276.1,111.4 280.6,89.9 285.1,72.2 289.6,65.3 294.1,65.6 298.6,80.5 303.1,103.1 307.6,122.9 312.1,126.0 316.6,126.0 321.0,126.0 325.5,126.0 330.0,126.0 334.5,126.0 339.0,126.0 343.5,126.0"/>
<polyline stroke="#c8102e" points="240.2,126.0 244.7,126.0 249.2,126.0 253.7,126.0 258.2,126.0 262.6,126.0 267.1,126.0 271.6,123.8 276.1,107.7 280.6,88.8 285.1,74.0 289.6,70.4 294.1,71.6 298.6,84.8 303.1,97.9 307.6,117.2 312.1,126.0 316.6,126.0 321.0,126.0 325.5,126.0 330.0,126.0 334.5,126.0 339.0,126.0 343.5,126.0"/>
<polyline stroke="#0a6ec4" points="240.2,126.0 244.7,126.0 249.2,126.0 253.7,126.0 258.2,126.0 262.6,126.0 267.1,126.0 271.6,115.9 276.1,105.9 280.6,95.8 285.1,85.8 289.6,75.7 294.1,53.3 298.6,30.9 303.1,49.9 307.6,68.9 312.1,88.0 316.6,107.0 321.0,126.0 325.5,126.0 330.0,126.0 334.5,126.0 339.0,126.0 343.5,126.0"/>
<polyline stroke="#ff4a00" points="240.2,126.0 244.7,126.0 249.2,126.0 253.7,126.0 258.2,126.0 262.6,121.5 267.1,102.3 271.6,82.5 276.1,64.9 280.6,51.6 285.1,37.9 289.6,40.9 294.1,37.2 298.6,46.9 303.1,63.3 307.6,82.1 312.1,102.1 316.6,119.5 321.0,126.0 325.5,126.0 330.0,126.0 334.5,126.0 339.0,126.0 343.5,126.0"/>
<polyline stroke="#ffaa00" points="240.2,126.0 244.7,126.0 249.2,126.0 253.7,126.0 258.2,126.0 262.6,126.0 267.1,123.0 271.6,107.1 276.1,87.0 280.6,71.6 285.1,56.3 289.6,59.2 294.1,62.7 298.6,72.6 303.1,87.8 307.6,108.8 312.1,125.3 316.6,126.0 321.0,126.0 325.5,126.0 330.0,126.0 334.5,126.0 339.0,126.0 343.5,126.0"/>
<polyline stroke="#8c1aa8" points="240.2,126.0 244.7,126.0 249.2,126.0 253.7,126.0 258.2,126.0 262.6,126.0 267.1,110.5 271.6,93.6 276.1,71.4 280.6,57.2 285.1,48.2 289.6,38.0 294.1,41.0 298.6,59.2 303.1,63.4 307.6,83.0 312.1,98.3 316.6,117.2 321.0,126.0 325.5,126.0 330.0,126.0 334.5,126.0 339.0,126.0 343.5,126.0"/>
<polyline stroke="#5db320" points="240.2,126.0 244.7,126.0 249.2,126.0 253.7,126.0 258.2,126.0 262.6,126.0 267.1,107.7 271.6,89.4 276.1,71.1 280.6,55.9 285.1,40.6 289.6,25.4 294.1,43.7 298.6,98.6 303.1,105.4 307.6,112.3 312.1,119.1 316.6,126.0 321.0,126.0 325.5,126.0 330.0,126.0 334.5,126.0 339.0,126.0 343.5,126.0"/>
<polyline stroke="#12b0ea" points="240.2,126.0 244.7,126.0 249.2,126.0 253.7,126.0 258.2,126.0 262.6,123.4 267.1,107.7 271.6,90.6 276.1,77.0 280.6,61.4 285.1,54.3 289.6,47.1 294.1,43.4 298.6,54.3 303.1,68.3 307.6,85.5 312.1,101.3 316.6,117.4 321.0,126.0 325.5,126.0 330.0,126.0 334.5,126.0 339.0,126.0 343.5,126.0"/>
<polyline stroke="#c8102e" points="240.2,126.0 244.7,126.0 249.2,126.0 253.7,126.0 258.2,126.0 262.6,126.0 267.1,125.6 271.6,109.2 276.1,91.7 280.6,79.1 285.1,67.7 289.6,64.6 294.1,70.0 298.6,75.7 303.1,97.5 307.6,112.7 312.1,126.0 316.6,126.0 321.0,126.0 325.5,126.0 330.0,126.0 334.5,126.0 339.0,126.0 343.5,126.0"/>
<polyline stroke="#0a6ec4" points="240.2,126.0 244.7,126.0 249.2,126.0 253.7,126.0 258.2,126.0 262.6,124.1 267.1,105.7 271.6,88.1 276.1,65.9 280.6,49.4 285.1,41.4 289.6,37.2 294.1,30.2 298.6,49.7 303.1,63.0 307.6,80.3 312.1,98.1 316.6,118.5 321.0,126.0 325.5,126.0 330.0,126.0 334.5,126.0 339.0,126.0 343.5,126.0"/>
<polyline stroke="#ff4a00" points="240.2,126.0 244.7,126.0 249.2,126.0 253.7,126.0 258.2,126.0 262.6,126.0 267.1,126.0 271.6,110.3 276.1,91.7 280.6,73.7 285.1,56.1 289.6,50.6 294.1,59.1 298.6,70.7 303.1,92.1 307.6,111.8 312.1,126.0 316.6,126.0 321.0,126.0 325.5,126.0 330.0,126.0 334.5,126.0 339.0,126.0 343.5,126.0"/>
<polyline stroke="#ffaa00" points="240.2,126.0 244.7,126.0 249.2,126.0 253.7,126.0 258.2,126.0 262.6,126.0 267.1,115.3 271.6,96.3 276.1,78.8 280.6,70.2 285.1,82.0 289.6,60.5 294.1,54.1 298.6,66.4 303.1,84.4 307.6,99.5 312.1,118.8 316.6,126.0 321.0,126.0 325.5,126.0 330.0,126.0 334.5,126.0 339.0,126.0 343.5,126.0"/>
<polyline stroke="#8c1aa8" points="240.2,126.0 244.7,126.0 249.2,126.0 253.7,126.0 258.2,126.0 262.6,126.0 267.1,126.0 271.6,125.2 276.1,111.6 280.6,97.7 285.1,83.8 289.6,80.9 294.1,81.5 298.6,92.5 303.1,105.7 307.6,120.7 312.1,126.0 316.6,126.0 321.0,126.0 325.5,126.0 330.0,126.0 334.5,126.0 339.0,126.0 343.5,126.0"/>
<polyline stroke="#5db320" points="240.2,126.0 244.7,126.0 249.2,126.0 253.7,126.0 258.2,126.0 262.6,126.0 267.1,126.0 271.6,112.3 276.1,92.7 280.6,76.4 285.1,64.4 289.6,55.4 294.1,60.4 298.6,63.9 303.1,80.1 307.6,99.0 312.1,120.9 316.6,126.0 321.0,126.0 325.5,126.0 330.0,126.0 334.5,126.0 339.0,126.0 343.5,126.0"/>
<polyline stroke="#12b0ea" points="240.2,126.0 244.7,126.0 249.2,126.0 253.7,126.0 258.2,126.0 262.6,126.0 267.1,126.0 271.6,108.3 276.1,88.4 280.6,70.4 285.1,59.6 289.6,54.1 294.1,61.5 298.6,71.2 303.1,90.9 307.6,111.8 312.1,126.0 316.6,126.0 321.0,126.0 325.5,126.0 330.0,126.0 334.5,126.0 339.0,126.0 343.5,126.0"/>
<polyline stroke="#c8102e" points="240.2,126.0 244.7,126.0 249.2,126.0 253.7,126.0 258.2,126.0 262.6,126.0 267.1,114.0 271.6,95.0 276.1,74.6 280.6,61.4 285.1,49.1 289.6,43.3 294.1,48.3 298.6,59.7 303.1,76.2 307.6,92.7 312.1,112.6 316.6,126.0 321.0,126.0 325.5,126.0 330.0,126.0 334.5,126.0 339.0,126.0 343.5,126.0"/>
<polyline stroke="#0a6ec4" points="240.2,126.0 244.7,126.0 249.2,126.0 253.7,126.0 258.2,126.0 262.6,126.0 267.1,124.0 271.6,107.5 276.1,88.2 280.6,69.7 285.1,61.4 289.6,58.2 294.1,58.7 298.6,68.9 303.1,83.1 307.6,102.5 312.1,120.9 316.6,126.0 321.0,126.0 325.5,126.0 330.0,126.0 334.5,126.0 339.0,126.0 343.5,126.0"/>
<polyline stroke="#ff4a00" points="240.2,126.0 244.7,126.0 249.2,126.0 253.7,126.0 258.2,126.0 262.6,126.0 267.1,126.0 271.6,122.0 276.1,103.2 280.6,83.7 285.1,73.1 289.6,66.8 294.1,69.7 298.6,79.8 303.1,95.2 307.6,114.9 312.1,126.0 316.6,126.0 321.0,126.0 325.5,126.0 330.0,126.0 334.5,126.0 339.0,126.0 343.5,126.0"/>
<polyline stroke="#ffaa00" points="240.2,126.0 244.7,126.0 249.2,126.0 253.7,126.0 258.2,126.0 262.6,126.0 267.1,126.0 271.6,126.0 276.1,114.6 280.6,95.1 285.1,80.4 289.6,72.1 294.1,76.3 298.6,86.3 303.1,105.9 307.6,124.1 312.1,126.0 316.6,126.0 321.0,126.0 325.5,126.0 330.0,126.0 334.5,126.0 339.0,126.0 343.5,126.0"/>
<polyline stroke="#8c1aa8" points="240.2,126.0 244.7,126.0 249.2,126.0 253.7,126.0 258.2,126.0 262.6,126.0 267.1,126.0 271.6,112.6 276.1,88.0 280.6,80.8 285.1,79.5 289.6,61.1 294.1,51.4 298.6,57.8 303.1,77.9 307.6,101.7 312.1,122.3 316.6,126.0 321.0,126.0 325.5,126.0 330.0,126.0 334.5,126.0 339.0,126.0 343.5,126.0"/>
<polyline stroke="#5db320" points="240.2,126.0 244.7,126.0 249.2,126.0 253.7,126.0 258.2,126.0 262.6,126.0 267.1,124.7 271.6,109.0 276.1,89.6 280.6,75.9 285.1,62.5 289.6,61.6 294.1,67.7 298.6,75.3 303.1,92.5 307.6,112.1 312.1,126.0 316.6,126.0 321.0,126.0 325.5,126.0 330.0,126.0 334.5,126.0 339.0,126.0 343.5,126.0"/>
<polyline stroke="#12b0ea" points="240.2,126.0 244.7,126.0 249.2,126.0 253.7,126.0 258.2,126.0 262.6,126.0 267.1,125.3 271.6,106.4 276.1,84.7 280.6,72.1 285.1,47.9 289.6,42.0 294.1,44.3 298.6,54.5 303.1,70.7 307.6,95.4 312.1,116.5 316.6,126.0 321.0,126.0 325.5,126.0 330.0,126.0 334.5,126.0 339.0,126.0 343.5,126.0"/>
<polyline stroke="#c8102e" points="240.2,126.0 244.7,126.0 249.2,126.0 253.7,126.0 258.2,126.0 262.6,126.0 267.1,126.0 271.6,126.0 276.1,113.5 280.6,94.7 285.1,83.4 289.6,79.3 294.1,79.7 298.6,93.0 303.1,111.9 307.6,126.0 312.1,126.0 316.6,126.0 321.0,126.0 325.5,126.0 330.0,126.0 334.5,126.0 339.0,126.0 343.5,126.0"/>
<polyline stroke="#0a6ec4" points="240.2,126.0 244.7,126.0 249.2,126.0 253.7,126.0 258.2,126.0 262.6,126.0 267.1,126.0 271.6,122.9 276.1,102.0 280.6,83.8 285.1,72.9 289.6,63.5 294.1,71.2 298.6,84.4 303.1,97.5 307.6,119.7 312.1,126.0 316.6,126.0 321.0,126.0 325.5,126.0 330.0,126.0 334.5,126.0 339.0,126.0 343.5,126.0"/>
<polyline stroke="#ff4a00" points="240.2,126.0 244.7,126.0 249.2,126.0 253.7,126.0 258.2,126.0 262.6,126.0 267.1,126.0 271.6,120.0 276.1,102.1 280.6,81.9 285.1,65.5 289.6,67.6 294.1,71.9 298.6,83.6 303.1,102.8 307.6,122.4 312.1,126.0 316.6,126.0 321.0,126.0 325.5,126.0 330.0,126.0 334.5,126.0 339.0,126.0 343.5,126.0"/>
<polyline stroke="#ffaa00" points="240.2,126.0 244.7,126.0 249.2,126.0 253.7,126.0 258.2,126.0 262.6,126.0 267.1,126.0 271.6,112.1 276.1,93.1 280.6,78.3 285.1,65.6 289.6,61.7 294.1,68.6 298.6,76.8 303.1,95.2 307.6,109.6 312.1,126.0 316.6,126.0 321.0,126.0 325.5,126.0 330.0,126.0 334.5,126.0 339.0,126.0 343.5,126.0"/>
<polyline stroke="#8c1aa8" points="240.2,126.0 244.7,126.0 249.2,126.0 253.7,126.0 258.2,126.0 262.6,126.0 267.1,126.0 271.6,119.7 276.1,101.8 280.6,88.1 285.1,77.0 289.6,68.2 294.1,68.9 298.6,81.7 303.1,92.3 307.6,111.4 312.1,126.0 316.6,126.0 321.0,126.0 325.5,126.0 330.0,126.0 334.5,126.0 339.0,126.0 343.5,126.0"/>
<polyline stroke="#5db320" points="240.2,126.0 244.7,126.0 249.2,126.0 253.7,126.0 258.2,126.0 262.6,120.4 267.1,101.3 271.6,81.6 276.1,65.1 280.6,54.3 285.1,45.0 289.6,40.6 294.1,44.2 298.6,53.2 303.1,68.8 307.6,88.9 312.1,109.1 316.6,126.0 321.0,126.0 325.5,126.0 330.0,126.0 334.5,126.0 339.0,126.0 343.5,126.0"/>
<polyline stroke="#12b0ea" points="240.2,126.0 244.7,126.0 249.2,126.0 253.7,126.0 258.2,126.0 262.6,122.8 267.1,103.9 271.6,83.1 276.1,63.7 280.6,54.9 285.1,35.9 289.6,38.3 294.1,41.9 298.6,50.1 303.1,61.5 307.6,80.3 312.1,100.0 316.6,118.1 321.0,126.0 325.5,126.0 330.0,126.0 334.5,126.0 339.0,126.0 343.5,126.0"/>
<polyline stroke="#c8102e" points="240.2,126.0 244.7,126.0 249.2,126.0 253.7,126.0 258.2,126.0 262.6,122.0 267.1,103.6 271.6,80.7 276.1,60.8 280.6,54.6 285.1,88.8 289.6,46.1 294.1,34.2 298.6,49.4 303.1,64.2 307.6,79.7 312.1,100.3 316.6,121.3 321.0,126.0 325.5,126.0 330.0,126.0 334.5,126.0 339.0,126.0 343.5,126.0"/>
<polyline stroke="#0a6ec4" points="240.2,126.0 244.7,126.0 249.2,126.0 253.7,126.0 258.2,126.0 262.6,126.0 267.1,126.0 271.6,125.9 276.1,104.2 280.6,81.8 285.1,65.3 289.6,57.3 294.1,65.5 298.6,82.0 303.1,109.1 307.6,126.0 312.1,126.0 316.6,126.0 321.0,126.0 325.5,126.0 330.0,126.0 334.5,126.0 339.0,126.0 343.5,126.0"/>
<polyline stroke="#ff4a00" points="240.2,126.0 244.7,126.0 249.2,126.0 253.7,126.0 258.2,126.0 262.6,126.0 267.1,116.9 271.6,99.3 276.1,81.8 280.6,63.3 285.1,53.7 289.6,52.5 294.1,53.0 298.6,65.7 303.1,78.0 307.6,96.8 312.1,111.5 316.6,126.0 321.0,126.0 325.5,126.0 330.0,126.0 334.5,126.0 339.0,126.0 343.5,126.0"/>
<polyline stroke="#ffaa00" points="240.2,126.0 244.7,126.0 249.2,126.0 253.7,126.0 258.2,126.0 262.6,126.0 267.1,126.0 271.6,126.0 276.1,112.9 280.6,90.6 285.1,79.0 289.6,73.9 294.1,95.0 298.6,104.9 303.1,108.5 307.6,126.0 312.1,126.0 316.6,126.0 321.0,126.0 325.5,126.0 330.0,126.0 334.5,126.0 339.0,126.0 343.5,126.0"/>
<polyline stroke="#8c1aa8" points="240.2,126.0 244.7,126.0 249.2,126.0 253.7,126.0 258.2,126.0 262.6,126.0 267.1,126.0 271.6,126.0 276.1,117.1 280.6,101.4 285.1,85.8 289.6,82.2 294.1,81.5 298.6,93.5 303.1,108.4 307.6,124.6 312.1,126.0 316.6,126.0 321.0,126.0 325.5,126.0 330.0,126.0 334.5,126.0 339.0,126.0 343.5,126.0"/>
<polyline stroke="#5db320" points="240.2,126.0 244.7,126.0 249.2,126.0 253.7,126.0 258.2,126.0 262.6,126.0 267.1,120.8 271.6,100.5 276.1,79.7 280.6,65.5 285.1,44.5 289.6,45.2 294.1,44.7 298.6,54.4 303.1,66.3 307.6,88.2 312.1,109.7 316.6,126.0 321.0,126.0 325.5,126.0 330.0,126.0 334.5,126.0 339.0,126.0 343.5,126.0"/>
<polyline stroke="#12b0ea" points="240.2,126.0 244.7,126.0 249.2,126.0 253.7,126.0 258.2,126.0 262.6,126.0 267.1,126.0 271.6,110.6 276.1,92.0 280.6,69.5 285.1,61.0 289.6,61.1 294.1,59.8 298.6,72.4 303.1,91.0 307.6,109.3 312.1,125.1 316.6,126.0 321.0,126.0 325.5,126.0 330.0,126.0 334.5,126.0 339.0,126.0 343.5,126.0"/>
<polyline stroke="#c8102e" points="240.2,126.0 244.7,126.0 249.2,126.0 253.7,126.0 258.2,126.0 262.6,120.0 267.1,101.6 271.6,82.3 276.1,65.7 280.6,57.2 285.1,43.0 289.6,46.9 294.1,52.1 298.6,60.1 303.1,73.1 307.6,89.4 312.1,108.6 316.6,125.1 321.0,126.0 325.5,126.0 330.0,126.0 334.5,126.0 339.0,126.0 343.5,126.0"/>
<polyline stroke="#0a6ec4" points="240.2,126.0 244.7,126.0 249.2,126.0 253.7,126.0 258.2,126.0 262.6,126.0 267.1,126.0 271.6,109.5 276.1,88.4 280.6,76.7 285.1,62.6 289.6,58.8 294.1,60.1 298.6,71.7 303.1,87.1 307.6,107.3 312.1,124.4 316.6,126.0 321.0,126.0 325.5,126.0 330.0,126.0 334.5,126.0 339.0,126.0 343.5,126.0"/>
<polyline stroke="#ff4a00" points="240.2,126.0 244.7,126.0 249.2,126.0 253.7,126.0 258.2,126.0 262.6,126.0 267.1,124.2 271.6,107.4 276.1,89.0 280.6,76.7 285.1,68.0 289.6,55.8 294.1,66.2 298.6,71.6 303.1,90.5 307.6,109.1 312.1,125.1 316.6,126.0 321.0,126.0 325.5,126.0 330.0,126.0 334.5,126.0 339.0,126.0 343.5,126.0"/>
<polyline stroke="#ffaa00" points="240.2,126.0 244.7,126.0 249.2,126.0 253.7,126.0 258.2,126.0 262.6,126.0 267.1,126.0 271.6,126.0 276.1,108.7 280.6,89.9 285.1,76.0 289.6,72.8 294.1,82.5 298.6,91.4 303.1,110.4 307.6,126.0 312.1,126.0 316.6,126.0 321.0,126.0 325.5,126.0 330.0,126.0 334.5,126.0 339.0,126.0 343.5,126.0"/>
<polyline stroke="#8c1aa8" points="240.2,126.0 244.7,126.0 249.2,126.0 253.7,126.0 258.2,126.0 262.6,126.0 267.1,126.0 271.6,117.7 276.1,97.1 280.6,78.5 285.1,63.2 289.6,56.8 294.1,60.4 298.6,72.3 303.1,85.3 307.6,109.3 312.1,126.0 316.6,126.0 321.0,126.0 325.5,126.0 330.0,126.0 334.5,126.0 339.0,126.0 343.5,126.0"/>
<polyline stroke="#5db320" points="240.2,126.0 244.7,126.0 249.2,126.0 253.7,126.0 258.2,126.0 262.6,124.7 267.1,107.1 271.6,86.8 276.1,68.9 280.6,50.8 285.1,40.6 289.6,39.1 294.1,43.1 298.6,53.3 303.1,65.9 307.6,84.1 312.1,105.4 316.6,123.4 321.0,126.0 325.5,126.0 330.0,126.0 334.5,126.0 339.0,126.0 343.5,126.0"/>
<polyline stroke="#12b0ea" points="240.2,126.0 244.7,126.0 249.2,126.0 253.7,126.0 258.2,126.0 262.6,126.0 267.1,111.8 271.6,87.6 276.1,70.7 280.6,53.8 285.1,42.8 289.6,40.3 294.1,39.5 298.6,51.0 303.1,63.2 307.6,86.2 312.1,108.0 316.6,126.0 321.0,126.0 325.5,126.0 330.0,126.0 334.5,126.0 339.0,126.0 343.5,126.0"/>
<polyline stroke="#c8102e" points="240.2,126.0 244.7,126.0 249.2,126.0 253.7,126.0 258.2,126.0 262.6,126.0 267.1,126.0 271.6,126.0 276.1,112.5 280.6,90.8 285.1,77.5 289.6,70.8 294.1,71.5 298.6,84.4 303.1,107.6 307.6,125.0 312.1,126.0 316.6,126.0 321.0,126.0 325.5,126.0 330.0,126.0 334.5,126.0 339.0,126.0 343.5,126.0"/>
<polyline stroke="#0a6ec4" points="240.2,126.0 244.7,126.0 249.2,126.0 253.7,126.0 258.2,126.0 262.6,118.8 267.1,99.7 271.6,84.0 276.1,62.3 280.6,46.3 285.1,57.8 289.6,78.1 294.1,36.4 298.6,51.0 303.1,66.4 307.6,83.2 312.1,101.1 316.6,119.5 321.0,126.0 325.5,126.0 330.0,126.0 334.5,126.0 339.0,126.0 343.5,126.0"/>
<polyline stroke="#ff4a00" points="240.2,126.0 244.7,126.0 249.2,126.0 253.7,126.0 258.2,126.0 262.6,126.0 267.1,117.9 271.6,100.5 276.1,84.8 280.6,72.8 285.1,85.3 289.6,82.0 294.1,70.4 298.6,73.3 303.1,89.0 307.6,106.6 312.1,123.1 316.6,126.0 321.0,126.0 325.5,126.0 330.0,126.0 334.5,126.0 339.0,126.0 343.5,126.0"/>
<polyline stroke="#ffaa00" points="240.2,126.0 244.7,126.0 249.2,126.0 253.7,126.0 258.2,126.0 262.6,121.1 267.1,103.1 271.6,84.6 276.1,61.6 280.6,45.5 285.1,38.4 289.6,38.5 294.1,36.6 298.6,45.9 303.1,52.3 307.6,72.5 312.1,91.7 316.6,112.1 321.0,126.0 325.5,126.0 330.0,126.0 334.5,126.0 339.0,126.0 343.5,126.0"/>
<polyline stroke="#8c1aa8" points="240.2,126.0 244.7,126.0 249.2,126.0 253.7,126.0 258.2,126.0 262.6,126.0 267.1,126.0 271.6,113.4 276.1,96.1 280.6,81.0 285.1,71.0 289.6,64.3 294.1,71.5 298.6,81.3 303.1,96.5 307.6,113.9 312.1,126.0 316.6,126.0 321.0,126.0 325.5,126.0 330.0,126.0 334.5,126.0 339.0,126.0 343.5,126.0"/>
<polyline stroke="#5db320" points="240.2,126.0 244.7,126.0 249.2,126.0 253.7,126.0 258.2,126.0 262.6,126.0 267.1,119.5 271.6,103.0 276.1,81.9 280.6,73.8 285.1,62.9 289.6,57.9 294.1,66.9 298.6,74.8 303.1,89.0 307.6,105.1 312.1,123.4 316.6,126.0 321.0,126.0 325.5,126.0 330.0,126.0 334.5,126.0 339.0,126.0 343.5,126.0"/>
<polyline stroke="#12b0ea" points="240.2,126.0 244.7,126.0 249.2,126.0 253.7,126.0 258.2,126.0 262.6,126.0 267.1,114.4 271.6,92.9 276.1,76.9 280.6,58.9 285.1,49.7 289.6,40.4 294.1,45.6 298.6,56.0 303.1,71.5 307.6,89.4 312.1,110.2 316.6,126.0 321.0,126.0 325.5,126.0 330.0,126.0 334.5,126.0 339.0,126.0 343.5,126.0"/>
<polyline stroke="#c8102e" points="240.2,126.0 244.7,126.0 249.2,126.0 253.7,126.0 258.2,126.0 262.6,126.0 267.1,125.9 271.6,110.3 276.1,93.2 280.6,70.8 285.1,65.7 289.6,57.1 294.1,61.2 298.6,73.3 303.1,84.9 307.6,102.2 312.1,121.0 316.6,126.0 321.0,126.0 325.5,126.0 330.0,126.0 334.5,126.0 339.0,126.0 343.5,126.0"/>
<polyline stroke="#0a6ec4" points="240.2,126.0 244.7,126.0 249.2,126.0 253.7,126.0 258.2,126.0 262.6,126.0 267.1,126.0 271.6,118.9 276.1,102.7 280.6,86.7 285.1,74.3 289.6,68.8 294.1,79.4 298.6,92.5 303.1,106.4 307.6,123.7 312.1,126.0 316.6,126.0 321.0,126.0 325.5,126.0 330.0,126.0 334.5,126.0 339.0,126.0 343.5,126.0"/>
<polyline stroke="#ff4a00" points="240.2,126.0 244.7,126.0 249.2,126.0 253.7,126.0 258.2,126.0 262.6,126.0 267.1,126.0 271.6,119.8 276.1,105.3 280.6,91.1 285.1,84.1 289.6,80.8 294.1,85.0 298.6,93.7 303.1,109.3 307.6,123.7 312.1,126.0 316.6,126.0 321.0,126.0 325.5,126.0 330.0,126.0 334.5,126.0 339.0,126.0 343.5,126.0"/>
<polyline stroke="#ffaa00" points="240.2,126.0 244.7,126.0 249.2,126.0 253.7,126.0 258.2,126.0 262.6,126.0 267.1,126.0 271.6,113.4 276.1,94.0 280.6,78.8 285.1,66.2 289.6,64.7 294.1,63.7 298.6,74.9 303.1,85.8 307.6,105.2 312.1,123.0 316.6,126.0 321.0,126.0 325.5,126.0 330.0,126.0 334.5,126.0 339.0,126.0 343.5,126.0"/>
<polyline stroke="#8c1aa8" points="240.2,126.0 244.7,126.0 249.2,126.0 253.7,126.0 258.2,126.0 262.6,126.0 267.1,126.0 271.6,123.0 276.1,104.8 280.6,88.5 285.1,74.7 289.6,69.8 294.1,67.8 298.6,82.3 303.1,95.8 307.6,113.0 312.1,126.0 316.6,126.0 321.0,126.0 325.5,126.0 330.0,126.0 334.5,126.0 339.0,126.0 343.5,126.0"/>
<polyline stroke="#5db320" points="240.2,126.0 244.7,126.0 249.2,126.0 253.7,126.0 258.2,126.0 262.6,126.0 267.1,117.5 271.6,100.9 276.1,86.2 280.6,71.1 285.1,61.2 289.6,59.3 294.1,65.8 298.6,76.8 303.1,86.3 307.6,102.1 312.1,118.7 316.6,126.0 321.0,126.0 325.5,126.0 330.0,126.0 334.5,126.0 339.0,126.0 343.5,126.0"/>
<polyline stroke="#12b0ea" points="240.2,126.0 244.7,126.0 249.2,126.0 253.7,126.0 258.2,126.0 262.6,121.8 267.1,105.6 271.6,85.4 276.1,71.0 280.6,57.2 285.1,49.4 289.6,49.3 294.1,53.5 298.6,61.6 303.1,74.0 307.6,91.3 312.1,109.1 316.6,124.8 321.0,126.0 325.5,126.0 330.0,126.0 334.5,126.0 339.0,126.0 343.5,126.0"/>
<polyline stroke="#c8102e" points="240.2,126.0 244.7,126.0 249.2,126.0 253.7,126.0 258.2,126.0 262.6,126.0 267.1,126.0 271.6,117.1 276.1,100.4 280.6,84.6 285.1,79.7 289.6,86.7 294.1,89.3 298.6,89.4 303.1,96.0 307.6,113.3 312.1,126.0 316.6,126.0 321.0,126.0 325.5,126.0 330.0,126.0 334.5,126.0 339.0,126.0 343.5,126.0"/>
<polyline stroke="#0a6ec4" points="240.2,126.0 244.7,126.0 249.2,126.0 253.7,126.0 258.2,126.0 262.6,126.0 267.1,126.0 271.6,124.5 276.1,108.3 280.6,91.4 285.1,75.2 289.6,73.4 294.1,78.3 298.6,90.2 303.1,109.3 307.6,125.3 312.1,126.0 316.6,126.0 321.0,126.0 325.5,126.0 330.0,126.0 334.5,126.0 339.0,126.0 343.5,126.0"/>
<polyline stroke="#ff4a00" points="240.2,126.0 244.7,126.0 249.2,126.0 253.7,126.0 258.2,126.0 262.6,126.0 267.1,126.0 271.6,126.0 276.1,114.0 280.6,95.6 285.1,86.7 289.6,77.0 294.1,84.9 298.6,97.8 303.1,112.5 307.6,126.0 312.1,126.0 316.6,126.0 321.0,126.0 325.5,126.0 330.0,126.0 334.5,126.0 339.0,126.0 343.5,126.0"/>
<polyline stroke="#ffaa00" points="240.2,126.0 244.7,126.0 249.2,126.0 253.7,126.0 258.2,126.0 262.6,126.0 267.1,122.0 271.6,100.5 276.1,81.3 280.6,66.4 285.1,51.4 289.6,51.6 294.1,52.0 298.6,64.9 303.1,72.7 307.6,94.4 312.1,115.8 316.6,126.0 321.0,126.0 325.5,126.0 330.0,126.0 334.5,126.0 339.0,126.0 343.5,126.0"/>
</g>
<path d="M235.7 126.0v-1.1M235.7 21.5v1.1M280.6 126.0v-1.1M280.6 21.5v1.1M325.5 126.0v-1.1M325.5 21.5v1.1M235.7 126.0h1.1M343.5 126.0h-1.1M235.7 80.3h1.1M343.5 80.3h-1.1M235.7 34.5h1.1M343.5 34.5h-1.1" stroke="#262626" stroke-width="1" fill="none"/>
<text class="k" x="235.7" y="142.0" font-size="12.0" text-anchor="middle" fill="#262626">0</text>
<text class="k" x="280.6" y="142.0" font-size="12.0" text-anchor="middle" fill="#262626">10</text>
<text class="k" x="325.5" y="142.0" font-size="12.0" text-anchor="middle" fill="#262626">20</text>
<text class="k" x="231.1" y="131.1" font-size="12.0" text-anchor="end" fill="#262626">0</text>
<text class="k" x="231.1" y="85.4" font-size="12.0" text-anchor="end" fill="#262626">1000</text>
<text class="k" x="231.1" y="39.6" font-size="12.0" text-anchor="end" fill="#262626">2000</text>
<text class="t" x="210.2" y="15.6" font-size="12.8" textLength="158.8" lengthAdjust="spacing" fill="#000">typical daily 2 frequency66</text>
<text x="260.3" y="163.5" font-size="16.4" textLength="58.6" lengthAdjust="spacingAndGlyphs" fill="#262626">time (h)</text>
<text transform="translate(191.3 73.8) rotate(-90)" x="0" y="6.2" font-size="17.2" text-anchor="middle" fill="#262626">power (kW)</text>
<rect x="407.3" y="21.5" width="107.8" height="104.5" fill="none" stroke="#262626" stroke-width="1"/>
<clipPath id="c2"><rect x="405.3" y="19.5" width="111.8" height="108.5"/></clipPath>
<g clip-path="url(#c2)" fill="none" stroke-width="2.6" stroke-linejoin="round" stroke-linecap="butt">
<polyline stroke="#0a6ec4" points="411.8,126.0 416.3,126.0 420.8,126.0 425.3,126.0 429.8,126.0 434.2,124.7 438.7,109.7 443.2,93.4 447.7,77.8 452.2,64.2 456.7,55.3 461.2,53.0 465.7,55.4 470.2,66.1 474.7,79.4 479.2,95.1 483.7,112.4 488.2,126.0 492.6,126.0 497.1,126.0 501.6,126.0 506.1,126.0 510.6,126.0 515.1,126.0"/>
<polyline stroke="#ff4a00" points="411.8,126.0 416.3,126.0 420.8,126.0 425.3,126.0 429.8,126.0 434.2,122.3 438.7,106.5 443.2,89.6 447.7,75.0 452.2,60.8 456.7,53.5 461.2,49.9 465.7,50.2 470.2,57.4 474.7,65.7 479.2,83.2 483.7,98.4 488.2,115.1 492.6,126.0 497.1,126.0 501.6,126.0 506.1,126.0 510.6,126.0 515.1,126.0"/>
<polyline stroke="#ffaa00" points="411.8,126.0 416.3,126.0 420.8,126.0 425.3,126.0 429.8,125.5 434.2,111.7 438.7,95.4 443.2,80.6 447.7,66.0 452.2,54.9 456.7,47.5 461.2,45.4 465.7,45.2 470.2,51.7 474.7,61.9 479.2,76.2 483.7,90.7 488.2,107.7 492.6,122.7 497.1,126.0 501.6,126.0 506.1,126.0 510.6,126.0 515.1,126.0"/>
<polyline stroke="#8c1aa8" points="411.8,126.0 416.3,126.0 420.8,126.0 425.3,126.0 429.8,126.0 434.2,125.3 438.7,110.1 443.2,92.5 447.7,75.3 452.2,62.0 456.7,54.9 461.2,51.4 465.7,55.5 470.2,60.9 474.7,75.3 479.2,91.3 483.7,109.6 488.2,124.9 492.6,126.0 497.1,126.0 501.6,126.0 506.1,126.0 510.6,126.0 515.1,126.0"/>
<polyline stroke="#5db320" points="411.8,126.0 416.3,126.0 420.8,126.0 425.3,126.0 429.8,126.0 434.2,126.0 438.7,114.3 443.2,97.6 447.7,81.0 452.2,68.0 456.7,57.6 461.2,53.5 465.7,56.0 470.2,66.1 474.7,78.4 479.2,94.6 483.7,112.2 488.2,126.0 492.6,126.0 497.1,126.0 501.6,126.0 506.1,126.0 510.6,126.0 515.1,126.0"/>
<polyline stroke="#12b0ea" points="411.8,126.0 416.3,126.0 420.8,126.0 425.3,126.0 429.8,126.0 434.2,114.7 438.7,94.7 443.2,76.2 447.7,59.7 452.2,45.3 456.7,37.6 461.2,34.4 465.7,34.2 470.2,45.0 474.7,58.5 479.2,75.7 483.7,95.7 488.2,115.6 492.6,126.0 497.1,126.0 501.6,126.0 506.1,126.0 510.6,126.0 515.1,126.0"/>
<polyline stroke="#c8102e" points="411.8,126.0 416.3,126.0 420.8,126.0 425.3,126.0 429.8,121.1 434.2,104.5 438.7,86.0 443.2,69.0 447.7,54.2 452.2,39.8 456.7,34.8 461.2,33.4 465.7,33.9 470.2,39.7 474.7,53.7 479.2,67.9 483.7,86.7 488.2,104.8 492.6,121.3 497.1,126.0 501.6,126.0 506.1,126.0 510.6,126.0 515.1,126.0"/>
<polyline stroke="#0a6ec4" points="411.8,126.0 416.3,126.0 420.8,126.0 425.3,126.0 429.8,126.0 434.2,120.0 438.7,102.8 443.2,84.1 447.7,68.2 452.2,52.7 456.7,45.7 461.2,42.1 465.7,46.9 470.2,55.6 474.7,67.7 479.2,86.5 483.7,105.1 488.2,121.7 492.6,126.0 497.1,126.0 501.6,126.0 506.1,126.0 510.6,126.0 515.1,126.0"/>
<polyline stroke="#ff4a00" points="411.8,126.0 416.3,126.0 420.8,126.0 425.3,126.0 429.8,124.5 434.2,109.4 438.7,91.6 443.2,75.2 447.7,56.5 452.2,47.0 456.7,39.7 461.2,38.9 465.7,39.9 470.2,52.0 474.7,62.1 479.2,76.4 483.7,95.9 488.2,113.4 492.6,126.0 497.1,126.0 501.6,126.0 506.1,126.0 510.6,126.0 515.1,126.0"/>
<polyline stroke="#ffaa00" points="411.8,126.0 416.3,126.0 420.8,126.0 425.3,126.0 429.8,126.0 434.2,126.0 438.7,116.1 443.2,98.6 447.7,80.3 452.2,67.6 456.7,57.5 461.2,53.0 465.7,54.5 470.2,64.3 474.7,77.9 479.2,94.9 483.7,112.1 488.2,126.0 492.6,126.0 497.1,126.0 501.6,126.0 506.1,126.0 510.6,126.0 515.1,126.0"/>
<polyline stroke="#8c1aa8" points="411.8,126.0 416.3,126.0 420.8,126.0 425.3,126.0 429.8,126.0 434.2,126.0 438.7,118.8 443.2,101.2 447.7,83.8 452.2,67.6 456.7,75.2 461.2,75.9 465.7,54.5 470.2,60.3 474.7,75.4 479.2,91.5 483.7,110.1 488.2,125.7 492.6,126.0 497.1,126.0 501.6,126.0 506.1,126.0 510.6,126.0 515.1,126.0"/>
<polyline stroke="#5db320" points="411.8,126.0 416.3,126.0 420.8,126.0 425.3,126.0 429.8,126.0 434.2,126.0 438.7,117.9 443.2,100.6 447.7,84.6 452.2,70.5 456.7,59.5 461.2,54.6 465.7,56.8 470.2,64.4 474.7,77.4 479.2,94.6 483.7,112.4 488.2,126.0 492.6,126.0 497.1,126.0 501.6,126.0 506.1,126.0 510.6,126.0 515.1,126.0"/>
<polyline stroke="#12b0ea" points="411.8,126.0 416.3,126.0 420.8,126.0 425.3,126.0 429.8,126.0 434.2,113.2 438.7,93.9 443.2,77.4 447.7,61.2 452.2,48.5 456.7,43.0 461.2,39.5 465.7,41.2 470.2,51.5 474.7,65.6 479.2,82.6 483.7,101.4 488.2,118.8 492.6,126.0 497.1,126.0 501.6,126.0 506.1,126.0 510.6,126.0 515.1,126.0"/>
<polyline stroke="#c8102e" points="411.8,126.0 416.3,126.0 420.8,126.0 425.3,126.0 429.8,126.0 434.2,114.3 438.7,94.1 443.2,73.7 447.7,59.3 452.2,43.4 456.7,36.6 461.2,35.5 465.7,38.5 470.2,48.0 474.7,61.8 479.2,82.3 483.7,100.9 488.2,120.0 492.6,126.0 497.1,126.0 501.6,126.0 506.1,126.0 510.6,126.0 515.1,126.0"/>
<polyline stroke="#0a6ec4" points="411.8,126.0 416.3,126.0 420.8,126.0 425.3,126.0 429.8,126.0 434.2,123.0 438.7,106.2 443.2,86.5 447.7,69.2 452.2,56.2 456.7,49.1 461.2,45.5 465.7,49.1 470.2,60.7 474.7,73.8 479.2,91.3 483.7,110.1 488.2,125.8 492.6,126.0 497.1,126.0 501.6,126.0 506.1,126.0 510.6,126.0 515.1,126.0"/>
<polyline stroke="#ff4a00" points="411.8,126.0 416.3,126.0 420.8,126.0 425.3,126.0 429.8,126.0 434.2,112.1 438.7,98.1 443.2,84.2 447.7,68.5 452.2,52.8 456.7,46.8 461.2,40.7 465.7,45.9 470.2,59.8 474.7,120.5 479.2,102.0 483.7,108.6 488.2,119.0 492.6,126.0 497.1,126.0 501.6,126.0 506.1,126.0 510.6,126.0 515.1,126.0"/>
<polyline stroke="#ffaa00" points="411.8,126.0 416.3,126.0 420.8,126.0 425.3,126.0 429.8,126.0 434.2,120.7 438.7,104.0 443.2,85.7 447.7,68.9 452.2,55.8 456.7,47.2 461.2,43.1 465.7,47.2 470.2,56.2 474.7,68.9 479.2,82.8 483.7,103.0 488.2,119.5 492.6,126.0 497.1,126.0 501.6,126.0 506.1,126.0 510.6,126.0 515.1,126.0"/>
<polyline stroke="#8c1aa8" points="411.8,126.0 416.3,126.0 420.8,126.0 425.3,126.0 429.8,126.0 434.2,113.2 438.7,100.5 443.2,87.7 447.7,73.8 452.2,59.8 456.7,53.5 461.2,66.8 465.7,84.9 470.2,59.8 474.7,73.8 479.2,87.7 483.7,101.6 488.2,113.8 492.6,126.0 497.1,126.0 501.6,126.0 506.1,126.0 510.6,126.0 515.1,126.0"/>
<polyline stroke="#5db320" points="411.8,126.0 416.3,126.0 420.8,126.0 425.3,126.0 429.8,126.0 434.2,125.8 438.7,111.2 443.2,92.9 447.7,76.4 452.2,63.4 456.7,54.4 461.2,50.4 465.7,54.3 470.2,62.0 474.7,75.4 479.2,93.0 483.7,109.5 488.2,124.9 492.6,126.0 497.1,126.0 501.6,126.0 506.1,126.0 510.6,126.0 515.1,126.0"/>
<polyline stroke="#12b0ea" points="411.8,126.0 416.3,126.0 420.8,126.0 425.3,126.0 429.8,126.0 434.2,112.1 438.7,98.1 443.2,84.2 447.7,70.3 452.2,56.3 456.7,49.4 461.2,63.3 465.7,80.7 470.2,56.3 474.7,66.8 479.2,82.5 483.7,98.1 488.2,112.1 492.6,126.0 497.1,126.0 501.6,126.0 506.1,126.0 510.6,126.0 515.1,126.0"/>
<polyline stroke="#c8102e" points="411.8,126.0 416.3,126.0 420.8,126.0 425.3,126.0 429.8,126.0 434.2,112.1 438.7,98.1 443.2,84.2 447.7,70.3 452.2,56.3 456.7,47.6 461.2,56.3 465.7,47.6 470.2,57.2 474.7,66.8 479.2,80.7 483.7,94.7 488.2,110.3 492.6,126.0 497.1,126.0 501.6,126.0 506.1,126.0 510.6,126.0 515.1,126.0"/>
<polyline stroke="#0a6ec4" points="411.8,126.0 416.3,126.0 420.8,126.0 425.3,126.0 429.8,122.7 434.2,106.3 438.7,88.4 443.2,71.3 447.7,55.2 452.2,44.3 456.7,36.6 461.2,34.0 465.7,38.0 470.2,46.1 474.7,57.5 479.2,73.6 483.7,90.6 488.2,108.4 492.6,124.3 497.1,126.0 501.6,126.0 506.1,126.0 510.6,126.0 515.1,126.0"/>
<polyline stroke="#ff4a00" points="411.8,126.0 416.3,126.0 420.8,126.0 425.3,126.0 429.8,126.0 434.2,126.0 438.7,111.5 443.2,93.1 447.7,75.2 452.2,61.0 456.7,50.1 461.2,45.6 465.7,46.5 470.2,52.7 474.7,66.5 479.2,84.3 483.7,102.0 488.2,119.6 492.6,126.0 497.1,126.0 501.6,126.0 506.1,126.0 510.6,126.0 515.1,126.0"/>
<polyline stroke="#ffaa00" points="411.8,126.0 416.3,126.0 420.8,126.0 425.3,126.0 429.8,126.0 434.2,125.2 438.7,110.3 443.2,92.7 447.7,76.7 452.2,62.1 456.7,52.4 461.2,49.1 465.7,50.4 470.2,57.6 474.7,68.7 479.2,84.8 483.7,101.0 488.2,117.8 492.6,126.0 497.1,126.0 501.6,126.0 506.1,126.0 510.6,126.0 515.1,126.0"/>
<polyline stroke="#8c1aa8" points="411.8,126.0 416.3,126.0 420.8,126.0 425.3,126.0 429.8,126.0 434.2,126.0 438.7,115.4 443.2,99.1 447.7,83.1 452.2,68.1 456.7,59.8 461.2,57.0 465.7,59.1 470.2,67.3 474.7,81.9 479.2,96.9 483.7,113.9 488.2,126.0 492.6,126.0 497.1,126.0 501.6,126.0 506.1,126.0 510.6,126.0 515.1,126.0"/>
<polyline stroke="#5db320" points="411.8,126.0 416.3,126.0 420.8,126.0 425.3,126.0 429.8,126.0 434.2,122.0 438.7,105.5 443.2,86.9 447.7,69.7 452.2,55.6 456.7,47.8 461.2,43.1 465.7,46.7 470.2,54.4 474.7,64.8 479.2,81.5 483.7,100.2 488.2,117.3 492.6,126.0 497.1,126.0 501.6,126.0 506.1,126.0 510.6,126.0 515.1,126.0"/>
<polyline stroke="#12b0ea" points="411.8,126.0 416.3,126.0 420.8,126.0 425.3,126.0 429.8,126.0 434.2,115.5 438.7,110.3 443.2,101.6 447.7,77.2 452.2,56.3 456.7,49.4 461.2,42.4 465.7,47.6 470.2,52.8 474.7,66.8 479.2,80.7 483.7,94.7 488.2,108.6 492.6,126.0 497.1,126.0 501.6,126.0 506.1,126.0 510.6,126.0 515.1,126.0"/>
<polyline stroke="#c8102e" points="411.8,126.0 416.3,126.0 420.8,126.0 425.3,126.0 429.8,118.9 434.2,102.1 438.7,84.1 443.2,69.1 447.7,53.4 452.2,44.0 456.7,35.1 461.2,44.9 465.7,78.4 470.2,54.3 474.7,58.5 479.2,74.4 483.7,90.2 488.2,108.6 492.6,123.8 497.1,126.0 501.6,126.0 506.1,126.0 510.6,126.0 515.1,126.0"/>
<polyline stroke="#0a6ec4" points="411.8,126.0 416.3,126.0 420.8,126.0 425.3,126.0 429.8,126.0 434.2,119.6 438.7,102.5 443.2,85.5 447.7,69.4 452.2,58.3 456.7,52.4 461.2,49.8 465.7,50.9 470.2,59.1 474.7,73.4 479.2,88.8 483.7,105.8 488.2,121.9 492.6,126.0 497.1,126.0 501.6,126.0 506.1,126.0 510.6,126.0 515.1,126.0"/>
<polyline stroke="#ff4a00" points="411.8,126.0 416.3,126.0 420.8,126.0 425.3,126.0 429.8,124.9 434.2,108.8 438.7,89.9 443.2,73.2 447.7,54.2 452.2,47.7 456.7,58.6 461.2,35.0 465.7,34.8 470.2,42.5 474.7,56.6 479.2,71.9 483.7,92.0 488.2,110.8 492.6,126.0 497.1,126.0 501.6,126.0 506.1,126.0 510.6,126.0 515.1,126.0"/>
<polyline stroke="#ffaa00" points="411.8,126.0 416.3,126.0 420.8,126.0 425.3,126.0 429.8,126.0 434.2,126.0 438.7,114.1 443.2,97.1 447.7,81.4 452.2,68.1 456.7,58.6 461.2,54.7 465.7,59.9 470.2,69.8 474.7,80.9 479.2,97.8 483.7,114.8 488.2,126.0 492.6,126.0 497.1,126.0 501.6,126.0 506.1,126.0 510.6,126.0 515.1,126.0"/>
<polyline stroke="#8c1aa8" points="411.8,126.0 416.3,126.0 420.8,126.0 425.3,126.0 429.8,123.3 434.2,107.3 438.7,89.9 443.2,70.8 447.7,57.0 452.2,44.6 456.7,38.3 461.2,36.1 465.7,36.3 470.2,42.4 474.7,53.4 479.2,66.7 483.7,85.7 488.2,102.5 492.6,119.1 497.1,126.0 501.6,126.0 506.1,126.0 510.6,126.0 515.1,126.0"/>
<polyline stroke="#5db320" points="411.8,126.0 416.3,126.0 420.8,126.0 425.3,126.0 429.8,126.0 434.2,120.6 438.7,105.0 443.2,89.1 447.7,74.2 452.2,63.0 456.7,54.4 461.2,51.6 465.7,55.4 470.2,61.4 474.7,76.2 479.2,90.1 483.7,105.7 488.2,121.5 492.6,126.0 497.1,126.0 501.6,126.0 506.1,126.0 510.6,126.0 515.1,126.0"/>
<polyline stroke="#12b0ea" points="411.8,126.0 416.3,126.0 420.8,126.0 425.3,126.0 429.8,126.0 434.2,125.2 438.7,110.3 443.2,93.3 447.7,76.6 452.2,62.2 456.7,54.6 461.2,53.8 465.7,55.7 470.2,66.8 474.7,78.7 479.2,96.1 483.7,113.1 488.2,126.0 492.6,126.0 497.1,126.0 501.6,126.0 506.1,126.0 510.6,126.0 515.1,126.0"/>
<polyline stroke="#c8102e" points="411.8,126.0 416.3,126.0 420.8,126.0 425.3,126.0 429.8,126.0 434.2,126.0 438.7,120.0 443.2,104.0 447.7,88.2 452.2,74.4 456.7,62.9 461.2,58.2 465.7,59.8 470.2,67.1 474.7,79.8 479.2,94.7 483.7,111.9 488.2,125.8 492.6,126.0 497.1,126.0 501.6,126.0 506.1,126.0 510.6,126.0 515.1,126.0"/>
<polyline stroke="#0a6ec4" points="411.8,126.0 416.3,126.0 420.8,126.0 425.3,126.0 429.8,126.0 434.2,125.6 438.7,110.2 443.2,91.5 447.7,74.2 452.2,61.3 456.7,50.0 461.2,47.2 465.7,47.8 470.2,55.3 474.7,67.1 479.2,82.3 483.7,100.2 488.2,117.4 492.6,126.0 497.1,126.0 501.6,126.0 506.1,126.0 510.6,126.0 515.1,126.0"/>
<polyline stroke="#ff4a00" points="411.8,126.0 416.3,126.0 420.8,126.0 425.3,126.0 429.8,126.0 434.2,122.1 438.7,105.0 443.2,85.3 447.7,67.8 452.2,55.2 456.7,45.6 461.2,40.9 465.7,41.4 470.2,51.0 474.7,62.6 479.2,80.5 483.7,98.1 488.2,115.9 492.6,126.0 497.1,126.0 501.6,126.0 506.1,126.0 510.6,126.0 515.1,126.0"/>
<polyline stroke="#ffaa00" points="411.8,126.0 416.3,126.0 420.8,126.0 425.3,126.0 429.8,126.0 434.2,115.3 438.7,97.7 443.2,77.3 447.7,60.6 452.2,47.4 456.7,37.4 461.2,33.9 465.7,35.0 470.2,44.7 474.7,57.0 479.2,73.3 483.7,90.8 488.2,110.5 492.6,126.0 497.1,126.0 501.6,126.0 506.1,126.0 510.6,126.0 515.1,126.0"/>
<polyline stroke="#8c1aa8" points="411.8,126.0 416.3,126.0 420.8,126.0 425.3,126.0 429.8,126.0 434.2,121.3 438.7,104.4 443.2,85.0 447.7,68.9 452.2,54.9 456.7,47.3 461.2,44.2 465.7,49.0 470.2,59.2 474.7,71.7 479.2,89.0 483.7,107.1 488.2,124.1 492.6,126.0 497.1,126.0 501.6,126.0 506.1,126.0 510.6,126.0 515.1,126.0"/>
<polyline stroke="#5db320" points="411.8,126.0 416.3,126.0 420.8,126.0 425.3,126.0 429.8,119.2 434.2,101.7 438.7,81.8 443.2,65.5 447.7,52.7 452.2,38.8 456.7,30.9 461.2,28.7 465.7,32.3 470.2,41.7 474.7,51.5 479.2,69.7 483.7,86.9 488.2,106.1 492.6,122.8 497.1,126.0 501.6,126.0 506.1,126.0 510.6,126.0 515.1,126.0"/>
<polyline stroke="#12b0ea" points="411.8,126.0 416.3,126.0 420.8,126.0 425.3,126.0 429.8,126.0 434.2,117.4 438.7,100.3 443.2,82.9 447.7,65.6 452.2,54.9 456.7,44.6 461.2,40.6 465.7,42.8 470.2,48.2 474.7,60.4 479.2,75.3 483.7,91.1 488.2,109.6 492.6,125.1 497.1,126.0 501.6,126.0 506.1,126.0 510.6,126.0 515.1,126.0"/>
<polyline stroke="#c8102e" points="411.8,126.0 416.3,126.0 420.8,126.0 425.3,126.0 429.8,126.0 434.2,124.2 438.7,108.4 443.2,89.6 447.7,72.3 452.2,59.7 456.7,52.4 461.2,46.4 465.7,51.0 470.2,59.5 474.7,72.2 479.2,89.1 483.7,106.4 488.2,123.0 492.6,126.0 497.1,126.0 501.6,126.0 506.1,126.0 510.6,126.0 515.1,126.0"/>
<polyline stroke="#0a6ec4" points="411.8,126.0 416.3,126.0 420.8,126.0 425.3,126.0 429.8,126.0 434.2,123.5 438.7,107.8 443.2,89.9 447.7,72.9 452.2,59.1 456.7,53.9 461.2,47.1 465.7,48.1 470.2,54.1 474.7,65.1 479.2,79.8 483.7,97.4 488.2,115.0 492.6,126.0 497.1,126.0 501.6,126.0 506.1,126.0 510.6,126.0 515.1,126.0"/>
<polyline stroke="#ff4a00" points="411.8,126.0 416.3,126.0 420.8,126.0 425.3,126.0 429.8,123.7 434.2,107.7 438.7,89.5 443.2,71.7 447.7,56.5 452.2,44.1 456.7,35.1 461.2,32.8 465.7,34.5 470.2,37.2 474.7,49.8 479.2,64.0 483.7,81.0 488.2,99.1 492.6,116.5 497.1,126.0 501.6,126.0 506.1,126.0 510.6,126.0 515.1,126.0"/>
<polyline stroke="#ffaa00" points="411.8,126.0 416.3,126.0 420.8,126.0 425.3,126.0 429.8,124.7 434.2,108.4 438.7,89.7 443.2,70.2 447.7,53.2 452.2,42.2 456.7,30.3 461.2,30.1 465.7,34.2 470.2,41.7 474.7,48.8 479.2,66.4 483.7,85.1 488.2,104.0 492.6,121.3 497.1,126.0 501.6,126.0 506.1,126.0 510.6,126.0 515.1,126.0"/>
<polyline stroke="#8c1aa8" points="411.8,126.0 416.3,126.0 420.8,126.0 425.3,126.0 429.8,125.0 434.2,109.7 438.7,90.9 443.2,72.8 447.7,57.6 452.2,44.1 456.7,35.5 461.2,33.0 465.7,32.7 470.2,40.6 474.7,50.5 479.2,66.7 483.7,83.0 488.2,101.1 492.6,118.6 497.1,126.0 501.6,126.0 506.1,126.0 510.6,126.0 515.1,126.0"/>
<polyline stroke="#5db320" points="411.8,126.0 416.3,126.0 420.8,126.0 425.3,126.0 429.8,126.0 434.2,118.0 438.7,101.9 443.2,85.1 447.7,69.8 452.2,57.4 456.7,49.9 461.2,48.0 465.7,50.1 470.2,57.3 474.7,70.9 479.2,85.1 483.7,101.6 488.2,117.6 492.6,126.0 497.1,126.0 501.6,126.0 506.1,126.0 510.6,126.0 515.1,126.0"/>
<polyline stroke="#12b0ea" points="411.8,126.0 416.3,126.0 420.8,126.0 425.3,126.0 429.8,125.9 434.2,110.3 438.7,90.9 443.2,71.5 447.7,56.5 452.2,39.9 456.7,32.1 461.2,27.9 465.7,32.2 470.2,36.9 474.7,49.4 479.2,66.1 483.7,82.5 488.2,103.0 492.6,120.9 497.1,126.0 501.6,126.0 506.1,126.0 510.6,126.0 515.1,126.0"/>
<polyline stroke="#c8102e" points="411.8,126.0 416.3,126.0 420.8,126.0 425.3,126.0 429.8,126.0 434.2,126.0 438.7,118.5 443.2,101.5 447.7,84.3 452.2,71.5 456.7,58.9 461.2,54.6 465.7,55.7 470.2,64.4 474.7,76.4 479.2,92.0 483.7,109.0 488.2,124.5 492.6,126.0 497.1,126.0 501.6,126.0 506.1,126.0 510.6,126.0 515.1,126.0"/>
<polyline stroke="#0a6ec4" points="411.8,126.0 416.3,126.0 420.8,126.0 425.3,126.0 429.8,125.6 434.2,110.8 438.7,92.8 443.2,74.3 447.7,60.0 452.2,47.8 456.7,40.8 461.2,39.8 465.7,39.2 470.2,54.9 474.7,86.2 479.2,79.2 483.7,96.1 488.2,113.2 492.6,126.0 497.1,126.0 501.6,126.0 506.1,126.0 510.6,126.0 515.1,126.0"/>
<polyline stroke="#ff4a00" points="411.8,126.0 416.3,126.0 420.8,126.0 425.3,126.0 429.8,126.0 434.2,125.6 438.7,111.3 443.2,94.4 447.7,79.3 452.2,66.8 456.7,61.5 461.2,56.2 465.7,62.7 470.2,72.9 474.7,85.3 479.2,101.3 483.7,117.3 488.2,126.0 492.6,126.0 497.1,126.0 501.6,126.0 506.1,126.0 510.6,126.0 515.1,126.0"/>
<polyline stroke="#ffaa00" points="411.8,126.0 416.3,126.0 420.8,126.0 425.3,126.0 429.8,126.0 434.2,125.9 438.7,110.8 443.2,92.0 447.7,73.9 452.2,60.8 456.7,49.8 461.2,44.4 465.7,46.0 470.2,53.6 474.7,64.4 479.2,80.8 483.7,99.4 488.2,117.7 492.6,126.0 497.1,126.0 501.6,126.0 506.1,126.0 510.6,126.0 515.1,126.0"/>
<polyline stroke="#8c1aa8" points="411.8,126.0 416.3,126.0 420.8,126.0 425.3,126.0 429.8,126.0 434.2,118.2 438.7,101.3 443.2,83.1 447.7,66.5 452.2,53.3 456.7,44.3 461.2,42.6 465.7,42.2 470.2,49.8 474.7,61.5 479.2,75.9 483.7,92.0 488.2,109.6 492.6,125.0 497.1,126.0 501.6,126.0 506.1,126.0 510.6,126.0 515.1,126.0"/>
<polyline stroke="#5db320" points="411.8,126.0 416.3,126.0 420.8,126.0 425.3,126.0 429.8,126.0 434.2,119.6 438.7,103.0 443.2,86.1 447.7,71.4 452.2,58.8 456.7,51.0 461.2,47.1 465.7,49.7 470.2,59.3 474.7,73.0 479.2,88.5 483.7,105.3 488.2,121.2 492.6,126.0 497.1,126.0 501.6,126.0 506.1,126.0 510.6,126.0 515.1,126.0"/>
<polyline stroke="#12b0ea" points="411.8,126.0 416.3,126.0 420.8,126.0 425.3,126.0 429.8,126.0 434.2,114.2 438.7,96.7 443.2,77.9 447.7,62.0 452.2,48.3 456.7,39.0 461.2,40.5 465.7,37.4 470.2,46.6 474.7,55.5 479.2,71.5 483.7,88.1 488.2,106.0 492.6,122.8 497.1,126.0 501.6,126.0 506.1,126.0 510.6,126.0 515.1,126.0"/>
<polyline stroke="#c8102e" points="411.8,126.0 416.3,126.0 420.8,126.0 425.3,126.0 429.8,126.0 434.2,120.0 438.7,100.2 443.2,80.0 447.7,61.9 452.2,46.3 456.7,35.9 461.2,30.5 465.7,33.9 470.2,44.2 474.7,58.4 479.2,76.9 483.7,96.9 488.2,117.8 492.6,126.0 497.1,126.0 501.6,126.0 506.1,126.0 510.6,126.0 515.1,126.0"/>
<polyline stroke="#0a6ec4" points="411.8,126.0 416.3,126.0 420.8,126.0 425.3,126.0 429.8,122.0 434.2,104.6 438.7,85.0 443.2,66.8 447.7,50.1 452.2,37.2 456.7,31.8 461.2,29.1 465.7,33.0 470.2,42.1 474.7,54.8 479.2,72.5 483.7,90.0 488.2,109.1 492.6,125.5 497.1,126.0 501.6,126.0 506.1,126.0 510.6,126.0 515.1,126.0"/>
<polyline stroke="#ff4a00" points="411.8,126.0 416.3,126.0 420.8,126.0 425.3,126.0 429.8,126.0 434.2,120.2 438.7,103.1 443.2,84.3 447.7,67.3 452.2,55.1 456.7,47.0 461.2,43.3 465.7,47.5 470.2,58.5 474.7,71.5 479.2,88.3 483.7,107.7 488.2,124.1 492.6,126.0 497.1,126.0 501.6,126.0 506.1,126.0 510.6,126.0 515.1,126.0"/>
<polyline stroke="#ffaa00" points="411.8,126.0 416.3,126.0 420.8,126.0 425.3,126.0 429.8,126.0 434.2,123.1 438.7,106.1 443.2,87.9 447.7,70.6 452.2,55.6 456.7,44.9 461.2,41.8 465.7,42.9 470.2,51.0 474.7,63.6 479.2,80.0 483.7,97.6 488.2,115.9 492.6,126.0 497.1,126.0 501.6,126.0 506.1,126.0 510.6,126.0 515.1,126.0"/>
<polyline stroke="#8c1aa8" points="411.8,126.0 416.3,126.0 420.8,126.0 425.3,126.0 429.8,126.0 434.2,126.0 438.7,116.1 443.2,99.7 447.7,82.6 452.2,68.4 456.7,58.4 461.2,53.3 465.7,53.3 470.2,62.8 474.7,74.8 479.2,90.8 483.7,106.8 488.2,122.7 492.6,126.0 497.1,126.0 501.6,126.0 506.1,126.0 510.6,126.0 515.1,126.0"/>
<polyline stroke="#5db320" points="411.8,126.0 416.3,126.0 420.8,126.0 425.3,126.0 429.8,126.0 434.2,126.0 438.7,116.1 443.2,100.4 447.7,84.1 452.2,71.1 456.7,64.5 461.2,58.5 465.7,61.3 470.2,69.3 474.7,81.3 479.2,95.4 483.7,112.0 488.2,125.9 492.6,126.0 497.1,126.0 501.6,126.0 506.1,126.0 510.6,126.0 515.1,126.0"/>
<polyline stroke="#12b0ea" points="411.8,126.0 416.3,126.0 420.8,126.0 425.3,126.0 429.8,124.6 434.2,108.4 438.7,88.6 443.2,71.2 447.7,55.6 452.2,40.6 456.7,34.7 461.2,31.4 465.7,35.9 470.2,46.6 474.7,56.4 479.2,74.7 483.7,91.8 488.2,111.5 492.6,126.0 497.1,126.0 501.6,126.0 506.1,126.0 510.6,126.0 515.1,126.0"/>
<polyline stroke="#c8102e" points="411.8,126.0 416.3,126.0 420.8,126.0 425.3,126.0 429.8,126.0 434.2,121.2 438.7,104.9 443.2,87.8 447.7,71.6 452.2,61.5 456.7,51.2 461.2,49.0 465.7,53.5 470.2,63.5 474.7,75.4 479.2,91.9 483.7,108.8 488.2,124.3 492.6,126.0 497.1,126.0 501.6,126.0 506.1,126.0 510.6,126.0 515.1,126.0"/>
<polyline stroke="#0a6ec4" points="411.8,126.0 416.3,126.0 420.8,126.0 425.3,126.0 429.8,118.9 434.2,101.6 438.7,84.8 443.2,69.0 447.7,52.9 452.2,42.0 456.7,34.9 461.2,32.2 465.7,38.9 470.2,44.1 474.7,55.9 479.2,72.0 483.7,88.9 488.2,107.4 492.6,122.4 497.1,126.0 501.6,126.0 506.1,126.0 510.6,126.0 515.1,126.0"/>
<polyline stroke="#ff4a00" points="411.8,126.0 416.3,126.0 420.8,126.0 425.3,126.0 429.8,126.0 434.2,122.3 438.7,105.5 443.2,87.1 447.7,70.9 452.2,57.2 456.7,44.7 461.2,45.2 465.7,48.5 470.2,55.1 474.7,68.5 479.2,84.7 483.7,102.5 488.2,119.6 492.6,126.0 497.1,126.0 501.6,126.0 506.1,126.0 510.6,126.0 515.1,126.0"/>
<polyline stroke="#ffaa00" points="411.8,126.0 416.3,126.0 420.8,126.0 425.3,126.0 429.8,126.0 434.2,119.2 438.7,101.6 443.2,83.2 447.7,67.1 452.2,54.0 456.7,47.2 461.2,43.9 465.7,47.3 470.2,57.7 474.7,70.9 479.2,89.7 483.7,107.2 488.2,123.5 492.6,126.0 497.1,126.0 501.6,126.0 506.1,126.0 510.6,126.0 515.1,126.0"/>
<polyline stroke="#8c1aa8" points="411.8,126.0 416.3,126.0 420.8,126.0 425.3,126.0 429.8,126.0 434.2,116.0 438.7,97.1 443.2,78.3 447.7,62.9 452.2,46.2 456.7,41.0 461.2,35.4 465.7,35.9 470.2,47.3 474.7,55.3 479.2,72.1 483.7,90.1 488.2,109.0 492.6,124.7 497.1,126.0 501.6,126.0 506.1,126.0 510.6,126.0 515.1,126.0"/>
<polyline stroke="#5db320" points="411.8,126.0 416.3,126.0 420.8,126.0 425.3,126.0 429.8,126.0 434.2,116.1 438.7,98.5 443.2,81.5 447.7,67.4 452.2,55.2 456.7,72.2 461.2,77.1 465.7,54.8 470.2,57.1 474.7,70.3 479.2,86.0 483.7,103.8 488.2,120.6 492.6,126.0 497.1,126.0 501.6,126.0 506.1,126.0 510.6,126.0 515.1,126.0"/>
<polyline stroke="#12b0ea" points="411.8,126.0 416.3,126.0 420.8,126.0 425.3,126.0 429.8,126.0 434.2,123.8 438.7,108.0 443.2,91.0 447.7,74.7 452.2,60.1 456.7,50.3 461.2,46.6 465.7,47.6 470.2,55.1 474.7,66.4 479.2,81.6 483.7,99.2 488.2,116.3 492.6,126.0 497.1,126.0 501.6,126.0 506.1,126.0 510.6,126.0 515.1,126.0"/>
<polyline stroke="#c8102e" points="411.8,126.0 416.3,126.0 420.8,126.0 425.3,126.0 429.8,126.0 434.2,123.1 438.7,108.3 443.2,92.6 447.7,77.8 452.2,65.5 456.7,60.4 461.2,56.1 465.7,59.5 470.2,67.3 474.7,80.7 479.2,95.7 483.7,112.1 488.2,125.7 492.6,126.0 497.1,126.0 501.6,126.0 506.1,126.0 510.6,126.0 515.1,126.0"/>
<polyline stroke="#0a6ec4" points="411.8,126.0 416.3,126.0 420.8,126.0 425.3,126.0 429.8,126.0 434.2,125.2 438.7,109.1 443.2,90.2 447.7,73.6 452.2,59.7 456.7,52.3 461.2,51.3 465.7,54.8 470.2,65.0 474.7,79.7 479.2,97.2 483.7,116.2 488.2,126.0 492.6,126.0 497.1,126.0 501.6,126.0 506.1,126.0 510.6,126.0 515.1,126.0"/>
<polyline stroke="#ff4a00" points="411.8,126.0 416.3,126.0 420.8,126.0 425.3,126.0 429.8,126.0 434.2,126.0 438.7,113.8 443.2,96.5 447.7,80.3 452.2,67.8 456.7,56.9 461.2,54.2 465.7,57.7 470.2,65.3 474.7,76.6 479.2,93.4 483.7,110.4 488.2,125.2 492.6,126.0 497.1,126.0 501.6,126.0 506.1,126.0 510.6,126.0 515.1,126.0"/>
<polyline stroke="#ffaa00" points="411.8,126.0 416.3,126.0 420.8,126.0 425.3,126.0 429.8,122.4 434.2,106.1 438.7,86.7 443.2,69.1 447.7,53.1 452.2,40.8 456.7,30.8 461.2,28.4 465.7,31.9 470.2,36.8 474.7,47.6 479.2,63.9 483.7,80.9 488.2,99.2 492.6,116.9 497.1,126.0 501.6,126.0 506.1,126.0 510.6,126.0 515.1,126.0"/>
<polyline stroke="#8c1aa8" points="411.8,126.0 416.3,126.0 420.8,126.0 425.3,126.0 429.8,126.0 434.2,125.3 438.7,110.0 443.2,92.6 447.7,76.0 452.2,62.4 456.7,53.3 461.2,51.6 465.7,53.9 470.2,63.8 474.7,77.1 479.2,92.9 483.7,109.1 488.2,124.9 492.6,126.0 497.1,126.0 501.6,126.0 506.1,126.0 510.6,126.0 515.1,126.0"/>
<polyline stroke="#5db320" points="411.8,126.0 416.3,126.0 420.8,126.0 425.3,126.0 429.8,126.0 434.2,126.0 438.7,114.4 443.2,97.1 447.7,80.6 452.2,66.8 456.7,58.0 461.2,53.8 465.7,54.4 470.2,60.3 474.7,70.8 479.2,87.4 483.7,104.6 488.2,121.4 492.6,126.0 497.1,126.0 501.6,126.0 506.1,126.0 510.6,126.0 515.1,126.0"/>
<polyline stroke="#12b0ea" points="411.8,126.0 416.3,126.0 420.8,126.0 425.3,126.0 429.8,126.0 434.2,116.3 438.7,98.9 443.2,81.4 447.7,66.7 452.2,53.3 456.7,45.6 461.2,43.6 465.7,49.1 470.2,56.6 474.7,71.2 479.2,85.6 483.7,104.3 488.2,120.7 492.6,126.0 497.1,126.0 501.6,126.0 506.1,126.0 510.6,126.0 515.1,126.0"/>
<polyline stroke="#c8102e" points="411.8,126.0 416.3,126.0 420.8,126.0 425.3,126.0 429.8,126.0 434.2,126.0 438.7,116.5 443.2,100.0 447.7,82.0 452.2,67.6 456.7,57.2 461.2,54.5 465.7,53.0 470.2,62.0 474.7,73.9 479.2,90.2 483.7,108.2 488.2,123.8 492.6,126.0 497.1,126.0 501.6,126.0 506.1,126.0 510.6,126.0 515.1,126.0"/>
<polyline stroke="#0a6ec4" points="411.8,126.0 416.3,126.0 420.8,126.0 425.3,126.0 429.8,126.0 434.2,125.0 438.7,110.4 443.2,93.6 447.7,78.1 452.2,64.3 456.7,57.3 461.2,54.4 465.7,62.2 470.2,67.7 474.7,80.5 479.2,96.4 483.7,114.0 488.2,126.0 492.6,126.0 497.1,126.0 501.6,126.0 506.1,126.0 510.6,126.0 515.1,126.0"/>
<polyline stroke="#ff4a00" points="411.8,126.0 416.3,126.0 420.8,126.0 425.3,126.0 429.8,126.0 434.2,119.0 438.7,99.8 443.2,79.5 447.7,63.0 452.2,45.3 456.7,35.8 461.2,34.1 465.7,36.5 470.2,45.1 474.7,58.2 479.2,77.6 483.7,98.1 488.2,117.6 492.6,126.0 497.1,126.0 501.6,126.0 506.1,126.0 510.6,126.0 515.1,126.0"/>
<polyline stroke="#ffaa00" points="411.8,126.0 416.3,126.0 420.8,126.0 425.3,126.0 429.8,125.1 434.2,108.9 438.7,90.3 443.2,71.0 447.7,55.6 452.2,44.2 456.7,33.6 461.2,32.1 465.7,34.9 470.2,43.0 474.7,54.7 479.2,71.3 483.7,90.3 488.2,109.5 492.6,125.1 497.1,126.0 501.6,126.0 506.1,126.0 510.6,126.0 515.1,126.0"/>
<polyline stroke="#8c1aa8" points="411.8,126.0 416.3,126.0 420.8,126.0 425.3,126.0 429.8,126.0 434.2,124.8 438.7,109.1 443.2,91.5 447.7,73.9 452.2,62.5 456.7,55.2 461.2,51.1 465.7,55.3 470.2,64.6 474.7,79.1 479.2,95.9 483.7,114.0 488.2,126.0 492.6,126.0 497.1,126.0 501.6,126.0 506.1,126.0 510.6,126.0 515.1,126.0"/>
<polyline stroke="#5db320" points="411.8,126.0 416.3,126.0 420.8,126.0 425.3,126.0 429.8,125.2 434.2,109.8 438.7,90.9 443.2,73.2 447.7,58.0 452.2,44.2 456.7,34.9 461.2,32.4 465.7,30.5 470.2,40.3 474.7,48.0 479.2,64.1 483.7,83.2 488.2,101.1 492.6,118.6 497.1,126.0 501.6,126.0 506.1,126.0 510.6,126.0 515.1,126.0"/>
</g>
<path d="M407.3 126.0v-1.1M407.3 21.5v1.1M452.2 126.0v-1.1M452.2 21.5v1.1M497.1 126.0v-1.1M497.1 21.5v1.1M407.3 126.0h1.1M515.1 126.0h-1.1M407.3 91.2h1.1M515.1 91.2h-1.1M407.3 56.3h1.1M515.1 56.3h-1.1M407.3 21.5h1.1M515.1 21.5h-1.1" stroke="#262626" stroke-width="1" fill="none"/>
<text class="k" x="407.3" y="142.0" font-size="12.0" text-anchor="middle" fill="#262626">0</text>
<text class="k" x="452.2" y="142.0" font-size="12.0" text-anchor="middle" fill="#262626">10</text>
<text class="k" x="497.1" y="142.0" font-size="12.0" text-anchor="middle" fill="#262626">20</text>
<text class="k" x="402.7" y="131.1" font-size="12.0" text-anchor="end" fill="#262626">0</text>
<text class="k" x="402.7" y="96.3" font-size="12.0" text-anchor="end" fill="#262626">1000</text>
<text class="k" x="402.7" y="61.4" font-size="12.0" text-anchor="end" fill="#262626">2000</text>
<text class="k" x="402.7" y="26.6" font-size="12.0" text-anchor="end" fill="#262626">3000</text>
<text class="t" x="381.8" y="15.6" font-size="12.8" textLength="158.8" lengthAdjust="spacing" fill="#000">typical daily 3 frequency82</text>
<text x="431.9" y="163.5" font-size="16.4" textLength="58.6" lengthAdjust="spacingAndGlyphs" fill="#262626">time (h)</text>
<text transform="translate(362.9 73.8) rotate(-90)" x="0" y="6.2" font-size="17.2" text-anchor="middle" fill="#262626">power (kW)</text>
<rect x="63.5" y="187.3" width="107.8" height="105.0" fill="none" stroke="#262626" stroke-width="1"/>
<clipPath id="c3"><rect x="61.5" y="185.3" width="111.8" height="109.0"/></clipPath>
<g clip-path="url(#c3)" fill="none" stroke-width="2.6" stroke-linejoin="round" stroke-linecap="butt">
<polyline stroke="#0a6ec4" points="68.0,292.3 72.5,292.3 77.0,292.3 81.5,292.3 86.0,292.3 90.5,275.1 94.9,257.9 99.4,228.4 103.9,204.9 108.4,223.2 112.9,248.0 117.4,238.2 121.9,253.0 126.4,262.8 130.9,272.6 135.4,282.5 139.9,292.3 144.4,292.3 148.8,292.3 153.3,292.3 157.8,292.3 162.3,292.3 166.8,292.3 171.3,292.3"/>
<polyline stroke="#ff4a00" points="68.0,292.3 72.5,292.3 77.0,292.3 81.5,292.3 86.0,292.3 90.5,292.3 94.9,284.9 99.4,277.5 103.9,257.9 108.4,243.1 112.9,257.9 117.4,248.0 121.9,238.2 126.4,253.0 130.9,267.7 135.4,277.5 139.9,287.4 144.4,292.3 148.8,292.3 153.3,292.3 157.8,292.3 162.3,292.3 166.8,292.3 171.3,292.3"/>
<polyline stroke="#ffaa00" points="68.0,292.3 72.5,292.3 77.0,292.3 81.5,292.3 86.0,292.3 90.5,292.3 94.9,282.5 99.4,272.6 103.9,262.8 108.4,253.0 112.9,238.2 117.4,225.9 121.9,243.1 126.4,248.0 130.9,257.9 135.4,277.5 139.9,284.9 144.4,292.3 148.8,292.3 153.3,292.3 157.8,292.3 162.3,292.3 166.8,292.3 171.3,292.3"/>
<polyline stroke="#8c1aa8" points="68.0,292.3 72.5,292.3 77.0,292.3 81.5,292.3 86.0,292.3 90.5,280.0 94.9,267.7 99.4,248.0 103.9,228.4 108.4,238.2 112.9,228.4 117.4,223.4 121.9,221.0 126.4,233.3 130.9,248.0 135.4,267.7 139.9,280.0 144.4,292.3 148.8,292.3 153.3,292.3 157.8,292.3 162.3,292.3 166.8,292.3 171.3,292.3"/>
<polyline stroke="#5db320" points="68.0,292.3 72.5,292.3 77.0,292.3 81.5,292.3 86.0,292.3 90.5,292.3 94.9,280.0 99.4,267.7 103.9,255.4 108.4,243.1 112.9,228.4 117.4,221.3 121.9,228.4 126.4,243.1 130.9,257.9 135.4,248.0 139.9,267.7 144.4,280.0 148.8,292.3 153.3,292.3 157.8,292.3 162.3,292.3 166.8,292.3 171.3,292.3"/>
<polyline stroke="#12b0ea" points="68.0,292.3 72.5,292.3 77.0,292.3 81.5,292.3 86.0,292.3 90.5,292.3 94.9,282.5 99.4,272.6 103.9,260.3 108.4,248.0 112.9,240.7 117.4,233.3 121.9,228.4 126.4,220.0 130.9,243.1 135.4,262.8 139.9,277.5 144.4,284.9 148.8,292.3 153.3,292.3 157.8,292.3 162.3,292.3 166.8,292.3 171.3,292.3"/>
<polyline stroke="#c8102e" points="68.0,292.3 72.5,292.3 77.0,292.3 81.5,292.3 86.0,292.3 90.5,267.7 94.9,238.2 99.4,208.7 103.9,193.9 108.4,187.1 112.9,213.3 117.4,215.6 121.9,238.2 126.4,248.0 130.9,262.8 135.4,277.5 139.9,284.9 144.4,292.3 148.8,292.3 153.3,292.3 157.8,292.3 162.3,292.3 166.8,292.3 171.3,292.3"/>
<polyline stroke="#0a6ec4" points="68.0,292.3 72.5,292.3 77.0,292.3 81.5,292.3 86.0,292.3 90.5,292.3 94.9,277.5 99.4,262.8 103.9,243.1 108.4,228.4 112.9,225.9 117.4,233.3 121.9,243.1 126.4,238.2 130.9,243.1 135.4,257.9 139.9,277.5 144.4,284.9 148.8,292.3 153.3,292.3 157.8,292.3 162.3,292.3 166.8,292.3 171.3,292.3"/>
<polyline stroke="#ff4a00" points="68.0,292.3 72.5,292.3 77.0,292.3 81.5,292.3 86.0,292.3 90.5,292.3 94.9,284.9 99.4,277.5 103.9,267.7 108.4,257.9 112.9,262.8 117.4,253.0 121.9,257.9 126.4,267.7 130.9,277.5 135.4,284.9 139.9,292.3 144.4,292.3 148.8,292.3 153.3,292.3 157.8,292.3 162.3,292.3 166.8,292.3 171.3,292.3"/>
<polyline stroke="#ffaa00" points="68.0,292.3 72.5,292.3 77.0,292.3 81.5,292.3 86.0,292.3 90.5,292.3 94.9,287.4 99.4,282.5 103.9,275.1 108.4,267.7 112.9,253.0 117.4,243.1 121.9,228.4 126.4,248.0 130.9,267.7 135.4,282.5 139.9,292.3 144.4,292.3 148.8,292.3 153.3,292.3 157.8,292.3 162.3,292.3 166.8,292.3 171.3,292.3"/>
<polyline stroke="#8c1aa8" points="68.0,292.3 72.5,292.3 77.0,292.3 81.5,292.3 86.0,292.3 90.5,292.3 94.9,282.5 99.4,272.6 103.9,265.3 108.4,257.9 112.9,250.5 117.4,243.1 121.9,233.3 126.4,228.4 130.9,233.4 135.4,248.0 139.9,262.8 144.4,277.5 148.8,292.3 153.3,292.3 157.8,292.3 162.3,292.3 166.8,292.3 171.3,292.3"/>
<polyline stroke="#5db320" points="68.0,292.3 72.5,292.3 77.0,292.3 81.5,292.3 86.0,292.3 90.5,292.3 94.9,287.4 99.4,282.5 103.9,275.1 108.4,267.7 112.9,272.6 117.4,257.9 121.9,267.7 126.4,262.8 130.9,248.0 135.4,243.1 139.9,262.8 144.4,282.5 148.8,292.3 153.3,292.3 157.8,292.3 162.3,292.3 166.8,292.3 171.3,292.3"/>
<polyline stroke="#12b0ea" points="68.0,292.3 72.5,292.3 77.0,292.3 81.5,292.3 86.0,292.3 90.5,292.3 94.9,277.5 99.4,262.8 103.9,248.0 108.4,233.3 112.9,243.1 117.4,257.9 121.9,262.8 126.4,272.6 130.9,277.5 135.4,282.5 139.9,292.3 144.4,292.3 148.8,292.3 153.3,292.3 157.8,292.3 162.3,292.3 166.8,292.3 171.3,292.3"/>
<polyline stroke="#c8102e" points="68.0,292.3 72.5,292.3 77.0,292.3 81.5,292.3 86.0,292.3 90.5,292.3 94.9,292.3 99.4,284.9 103.9,277.5 108.4,267.7 112.9,257.9 117.4,262.8 121.9,253.0 126.4,243.1 130.9,248.0 135.4,257.9 139.9,272.6 144.4,287.4 148.8,292.3 153.3,292.3 157.8,292.3 162.3,292.3 166.8,292.3 171.3,292.3"/>
<polyline stroke="#0a6ec4" points="68.0,292.3 72.5,292.3 77.0,292.3 81.5,292.3 86.0,292.3 90.5,292.3 94.9,284.9 99.4,277.5 103.9,270.2 108.4,262.8 112.9,257.9 117.4,253.0 121.9,243.1 126.4,238.2 130.9,243.1 135.4,248.0 139.9,267.7 144.4,282.5 148.8,292.3 153.3,292.3 157.8,292.3 162.3,292.3 166.8,292.3 171.3,292.3"/>
<polyline stroke="#ff4a00" points="68.0,292.3 72.5,292.3 77.0,292.3 81.5,292.3 86.0,292.3 90.5,292.3 94.9,292.3 99.4,289.3 103.9,286.4 108.4,283.4 112.9,280.0 117.4,277.5 121.9,272.6 126.4,275.1 130.9,282.5 135.4,287.4 139.9,292.3 144.4,292.3 148.8,292.3 153.3,292.3 157.8,292.3 162.3,292.3 166.8,292.3 171.3,292.3"/>
<polyline stroke="#ffaa00" points="68.0,292.3 72.5,292.3 77.0,292.3 81.5,292.3 86.0,292.3 90.5,277.5 94.9,257.9 99.4,243.1 103.9,238.2 108.4,233.3 112.9,243.1 117.4,253.0 121.9,262.8 126.4,267.7 130.9,277.5 135.4,284.9 139.9,292.3 144.4,292.3 148.8,292.3 153.3,292.3 157.8,292.3 162.3,292.3 166.8,292.3 171.3,292.3"/>
<polyline stroke="#8c1aa8" points="68.0,292.3 72.5,292.3 77.0,292.3 81.5,292.3 86.0,292.3 90.5,292.3 94.9,282.5 99.4,272.6 103.9,260.3 108.4,248.0 112.9,233.3 117.4,253.0 121.9,238.2 126.4,257.9 130.9,267.7 135.4,277.5 139.9,284.9 144.4,292.3 148.8,292.3 153.3,292.3 157.8,292.3 162.3,292.3 166.8,292.3 171.3,292.3"/>
<polyline stroke="#5db320" points="68.0,292.3 72.5,292.3 77.0,292.3 81.5,292.3 86.0,292.3 90.5,292.3 94.9,284.9 99.4,277.5 103.9,265.3 108.4,253.0 112.9,248.0 117.4,257.9 121.9,243.1 126.4,253.0 130.9,267.7 135.4,277.5 139.9,284.9 144.4,292.3 148.8,292.3 153.3,292.3 157.8,292.3 162.3,292.3 166.8,292.3 171.3,292.3"/>
<polyline stroke="#12b0ea" points="68.0,292.3 72.5,292.3 77.0,292.3 81.5,292.3 86.0,292.3 90.5,292.3 94.9,292.3 99.4,280.0 103.9,267.7 108.4,253.0 112.9,240.8 117.4,248.0 121.9,255.4 126.4,262.8 130.9,272.6 135.4,286.0 139.9,292.3 144.4,292.3 148.8,292.3 153.3,292.3 157.8,292.3 162.3,292.3 166.8,292.3 171.3,292.3"/>
</g>
<path d="M63.5 292.3v-1.1M63.5 187.3v1.1M108.4 292.3v-1.1M108.4 187.3v1.1M153.3 292.3v-1.1M153.3 187.3v1.1M63.5 292.3h1.1M171.3 292.3h-1.1M63.5 243.1h1.1M171.3 243.1h-1.1M63.5 193.9h1.1M171.3 193.9h-1.1" stroke="#262626" stroke-width="1" fill="none"/>
<text class="k" x="63.5" y="308.3" font-size="12.0" text-anchor="middle" fill="#262626">0</text>
<text class="k" x="108.4" y="308.3" font-size="12.0" text-anchor="middle" fill="#262626">10</text>
<text class="k" x="153.3" y="308.3" font-size="12.0" text-anchor="middle" fill="#262626">20</text>
<text class="k" x="58.9" y="297.4" font-size="12.0" text-anchor="end" fill="#262626">0</text>
<text class="k" x="58.9" y="248.2" font-size="12.0" text-anchor="end" fill="#262626">1000</text>
<text class="k" x="58.9" y="199.0" font-size="12.0" text-anchor="end" fill="#262626">2000</text>
<text class="t" x="38.0" y="181.4" font-size="12.8" textLength="158.8" lengthAdjust="spacing" fill="#000">typical daily 4 frequency20</text>
<text x="88.1" y="329.8" font-size="16.4" textLength="58.6" lengthAdjust="spacingAndGlyphs" fill="#262626">time (h)</text>
<text transform="translate(19.1 239.8) rotate(-90)" x="0" y="6.2" font-size="17.2" text-anchor="middle" fill="#262626">power (kW)</text>
<rect x="235.7" y="187.3" width="107.8" height="105.0" fill="none" stroke="#262626" stroke-width="1"/>
<clipPath id="c4"><rect x="233.7" y="185.3" width="111.8" height="109.0"/></clipPath>
<g clip-path="url(#c4)" fill="none" stroke-width="2.6" stroke-linejoin="round" stroke-linecap="butt">
<polyline stroke="#0a6ec4" points="240.2,292.3 244.7,292.3 249.2,292.3 253.7,292.3 258.2,292.3 262.6,292.3 267.1,279.3 271.6,259.9 276.1,240.0 280.6,225.3 285.1,214.1 289.6,212.0 294.1,213.7 298.6,224.4 303.1,237.7 307.6,259.0 312.1,277.8 316.6,292.3 321.0,292.3 325.5,292.3 330.0,292.3 334.5,292.3 339.0,292.3 343.5,292.3"/>
<polyline stroke="#ff4a00" points="240.2,292.3 244.7,292.3 249.2,292.3 253.7,292.3 258.2,292.3 262.6,292.3 267.1,289.5 271.6,271.1 276.1,251.9 280.6,235.6 285.1,226.0 289.6,217.6 294.1,219.7 298.6,230.7 303.1,244.6 307.6,263.4 312.1,283.2 316.6,292.3 321.0,292.3 325.5,292.3 330.0,292.3 334.5,292.3 339.0,292.3 343.5,292.3"/>
<polyline stroke="#ffaa00" points="240.2,292.3 244.7,292.3 249.2,292.3 253.7,292.3 258.2,292.3 262.6,292.3 267.1,289.7 271.6,272.4 276.1,251.9 280.6,234.9 285.1,223.0 289.6,223.0 294.1,225.9 298.6,237.6 303.1,256.4 307.6,276.5 312.1,292.3 316.6,292.3 321.0,292.3 325.5,292.3 330.0,292.3 334.5,292.3 339.0,292.3 343.5,292.3"/>
<polyline stroke="#8c1aa8" points="240.2,292.3 244.7,292.3 249.2,292.3 253.7,292.3 258.2,292.3 262.6,287.5 267.1,267.2 271.6,248.0 276.1,228.6 280.6,212.9 285.1,199.9 289.6,199.7 294.1,203.5 298.6,213.0 303.1,230.4 307.6,250.6 312.1,272.4 316.6,291.0 321.0,292.3 325.5,292.3 330.0,292.3 334.5,292.3 339.0,292.3 343.5,292.3"/>
<polyline stroke="#5db320" points="240.2,292.3 244.7,292.3 249.2,292.3 253.7,292.3 258.2,292.3 262.6,292.3 267.1,285.7 271.6,268.6 276.1,251.3 280.6,235.9 285.1,226.7 289.6,222.5 294.1,227.5 298.6,237.8 303.1,252.8 307.6,270.9 312.1,287.9 316.6,292.3 321.0,292.3 325.5,292.3 330.0,292.3 334.5,292.3 339.0,292.3 343.5,292.3"/>
<polyline stroke="#12b0ea" points="240.2,292.3 244.7,292.3 249.2,292.3 253.7,292.3 258.2,292.3 262.6,292.3 267.1,280.1 271.6,267.8 276.1,250.3 280.6,243.3 285.1,260.8 289.6,222.3 294.1,225.8 298.6,239.8 303.1,253.8 307.6,267.8 312.1,280.1 316.6,292.3 321.0,292.3 325.5,292.3 330.0,292.3 334.5,292.3 339.0,292.3 343.5,292.3"/>
<polyline stroke="#c8102e" points="240.2,292.3 244.7,292.3 249.2,292.3 253.7,292.3 258.2,292.3 262.6,292.3 267.1,281.8 271.6,271.3 276.1,259.1 280.6,246.8 285.1,229.3 289.6,222.3 294.1,232.8 298.6,257.3 303.1,286.5 307.6,281.8 312.1,288.8 316.6,292.3 321.0,292.3 325.5,292.3 330.0,292.3 334.5,292.3 339.0,292.3 343.5,292.3"/>
<polyline stroke="#0a6ec4" points="240.2,292.3 244.7,292.3 249.2,292.3 253.7,292.3 258.2,292.3 262.6,292.3 267.1,278.3 271.6,264.3 276.1,250.3 280.6,236.3 285.1,227.6 289.6,218.8 294.1,229.3 298.6,253.8 303.1,271.3 307.6,278.3 312.1,285.3 316.6,292.3 321.0,292.3 325.5,292.3 330.0,292.3 334.5,292.3 339.0,292.3 343.5,292.3"/>
<polyline stroke="#ff4a00" points="240.2,292.3 244.7,292.3 249.2,292.3 253.7,292.3 258.2,292.3 262.6,292.3 267.1,292.3 271.6,275.3 276.1,254.8 280.6,237.0 285.1,218.3 289.6,215.2 294.1,218.4 298.6,227.5 303.1,246.1 307.6,265.4 312.1,286.8 316.6,292.3 321.0,292.3 325.5,292.3 330.0,292.3 334.5,292.3 339.0,292.3 343.5,292.3"/>
<polyline stroke="#ffaa00" points="240.2,292.3 244.7,292.3 249.2,292.3 253.7,292.3 258.2,292.3 262.6,292.3 267.1,292.3 271.6,286.0 276.1,266.3 280.6,248.1 285.1,231.7 289.6,227.2 294.1,224.0 298.6,234.9 303.1,252.7 307.6,273.7 312.1,291.8 316.6,292.3 321.0,292.3 325.5,292.3 330.0,292.3 334.5,292.3 339.0,292.3 343.5,292.3"/>
<polyline stroke="#8c1aa8" points="240.2,292.3 244.7,292.3 249.2,292.3 253.7,292.3 258.2,292.3 262.6,280.1 267.1,267.8 271.6,250.3 276.1,232.8 280.6,229.3 285.1,239.8 289.6,217.1 294.1,225.8 298.6,236.3 303.1,250.3 307.6,264.3 312.1,278.3 316.6,292.3 321.0,292.3 325.5,292.3 330.0,292.3 334.5,292.3 339.0,292.3 343.5,292.3"/>
<polyline stroke="#5db320" points="240.2,292.3 244.7,292.3 249.2,292.3 253.7,292.3 258.2,292.3 262.6,292.3 267.1,289.7 271.6,272.1 276.1,253.0 280.6,237.6 285.1,227.1 289.6,222.2 294.1,221.8 298.6,230.7 303.1,246.8 307.6,264.7 312.1,282.3 316.6,292.3 321.0,292.3 325.5,292.3 330.0,292.3 334.5,292.3 339.0,292.3 343.5,292.3"/>
<polyline stroke="#12b0ea" points="240.2,292.3 244.7,292.3 249.2,292.3 253.7,292.3 258.2,292.3 262.6,292.3 267.1,276.6 271.6,260.8 276.1,243.3 280.6,239.8 285.1,238.1 289.6,232.8 294.1,236.3 298.6,243.3 303.1,255.6 307.6,267.8 312.1,280.1 316.6,292.3 321.0,292.3 325.5,292.3 330.0,292.3 334.5,292.3 339.0,292.3 343.5,292.3"/>
<polyline stroke="#c8102e" points="240.2,292.3 244.7,292.3 249.2,292.3 253.7,292.3 258.2,292.3 262.6,292.3 267.1,291.7 271.6,273.6 276.1,252.1 280.6,235.3 285.1,221.7 289.6,219.0 294.1,221.7 298.6,236.1 303.1,254.4 307.6,275.5 312.1,292.3 316.6,292.3 321.0,292.3 325.5,292.3 330.0,292.3 334.5,292.3 339.0,292.3 343.5,292.3"/>
<polyline stroke="#0a6ec4" points="240.2,292.3 244.7,292.3 249.2,292.3 253.7,292.3 258.2,292.3 262.6,290.7 267.1,274.1 271.6,254.5 276.1,235.6 280.6,222.6 285.1,213.3 289.6,205.5 294.1,207.0 298.6,213.4 303.1,227.3 307.6,244.6 312.1,263.1 316.6,281.8 321.0,292.3 325.5,292.3 330.0,292.3 334.5,292.3 339.0,292.3 343.5,292.3"/>
<polyline stroke="#ff4a00" points="240.2,292.3 244.7,292.3 249.2,292.3 253.7,292.3 258.2,292.3 262.6,292.3 267.1,292.3 271.6,275.5 276.1,255.6 280.6,239.2 285.1,224.8 289.6,220.7 294.1,223.0 298.6,234.6 303.1,251.8 307.6,271.5 312.1,289.7 316.6,292.3 321.0,292.3 325.5,292.3 330.0,292.3 334.5,292.3 339.0,292.3 343.5,292.3"/>
<polyline stroke="#ffaa00" points="240.2,292.3 244.7,292.3 249.2,292.3 253.7,292.3 258.2,292.3 262.6,292.3 267.1,292.3 271.6,279.3 276.1,261.0 280.6,243.8 285.1,229.7 289.6,223.6 294.1,224.6 298.6,232.3 303.1,246.6 307.6,265.5 312.1,283.9 316.6,292.3 321.0,292.3 325.5,292.3 330.0,292.3 334.5,292.3 339.0,292.3 343.5,292.3"/>
<polyline stroke="#8c1aa8" points="240.2,292.3 244.7,292.3 249.2,292.3 253.7,292.3 258.2,292.3 262.6,292.3 267.1,275.5 271.6,253.7 276.1,234.8 280.6,214.3 285.1,203.4 289.6,197.0 294.1,197.6 298.6,203.0 303.1,219.9 307.6,238.9 312.1,258.7 316.6,281.0 321.0,292.3 325.5,292.3 330.0,292.3 334.5,292.3 339.0,292.3 343.5,292.3"/>
<polyline stroke="#5db320" points="240.2,292.3 244.7,292.3 249.2,292.3 253.7,292.3 258.2,292.3 262.6,292.3 267.1,288.9 271.6,271.2 276.1,251.8 280.6,236.8 285.1,223.8 289.6,222.0 294.1,220.3 298.6,229.3 303.1,240.1 307.6,257.3 312.1,276.2 316.6,292.0 321.0,292.3 325.5,292.3 330.0,292.3 334.5,292.3 339.0,292.3 343.5,292.3"/>
<polyline stroke="#12b0ea" points="240.2,292.3 244.7,292.3 249.2,292.3 253.7,292.3 258.2,292.3 262.6,292.3 267.1,278.5 271.6,260.1 276.1,243.6 280.6,226.4 285.1,216.7 289.6,214.4 294.1,216.9 298.6,225.0 303.1,240.3 307.6,257.2 312.1,276.4 316.6,292.2 321.0,292.3 325.5,292.3 330.0,292.3 334.5,292.3 339.0,292.3 343.5,292.3"/>
<polyline stroke="#c8102e" points="240.2,292.3 244.7,292.3 249.2,292.3 253.7,292.3 258.2,292.3 262.6,292.3 267.1,291.6 271.6,276.4 276.1,258.8 280.6,243.5 285.1,232.7 289.6,231.1 294.1,231.3 298.6,241.6 303.1,253.6 307.6,271.2 312.1,288.4 316.6,292.3 321.0,292.3 325.5,292.3 330.0,292.3 334.5,292.3 339.0,292.3 343.5,292.3"/>
<polyline stroke="#0a6ec4" points="240.2,292.3 244.7,292.3 249.2,292.3 253.7,292.3 258.2,292.3 262.6,278.7 267.1,259.3 271.6,239.2 276.1,222.1 280.6,210.0 285.1,202.6 289.6,200.2 294.1,204.0 298.6,212.7 303.1,227.7 307.6,244.8 312.1,265.4 316.6,283.3 321.0,292.3 325.5,292.3 330.0,292.3 334.5,292.3 339.0,292.3 343.5,292.3"/>
<polyline stroke="#ff4a00" points="240.2,292.3 244.7,292.3 249.2,292.3 253.7,292.3 258.2,292.3 262.6,292.3 267.1,280.5 271.6,260.8 276.1,240.5 280.6,227.3 285.1,216.8 289.6,209.7 294.1,211.5 298.6,239.5 303.1,262.0 307.6,254.8 312.1,274.9 316.6,291.7 321.0,292.3 325.5,292.3 330.0,292.3 334.5,292.3 339.0,292.3 343.5,292.3"/>
<polyline stroke="#ffaa00" points="240.2,292.3 244.7,292.3 249.2,292.3 253.7,292.3 258.2,292.3 262.6,292.3 267.1,286.8 271.6,268.9 276.1,249.9 280.6,234.3 285.1,223.6 289.6,220.0 294.1,222.3 298.6,229.1 303.1,243.8 307.6,260.4 312.1,277.7 316.6,292.3 321.0,292.3 325.5,292.3 330.0,292.3 334.5,292.3 339.0,292.3 343.5,292.3"/>
<polyline stroke="#8c1aa8" points="240.2,292.3 244.7,292.3 249.2,292.3 253.7,292.3 258.2,292.3 262.6,282.9 267.1,266.0 271.6,246.6 276.1,231.4 280.6,216.4 285.1,208.2 289.6,198.8 294.1,208.4 298.6,215.5 303.1,230.7 307.6,250.0 312.1,268.4 316.6,286.3 321.0,292.3 325.5,292.3 330.0,292.3 334.5,292.3 339.0,292.3 343.5,292.3"/>
<polyline stroke="#5db320" points="240.2,292.3 244.7,292.3 249.2,292.3 253.7,292.3 258.2,292.3 262.6,292.3 267.1,292.3 271.6,277.1 276.1,257.1 280.6,240.6 285.1,228.3 289.6,220.2 294.1,223.3 298.6,231.9 303.1,246.0 307.6,263.7 312.1,282.2 316.6,292.3 321.0,292.3 325.5,292.3 330.0,292.3 334.5,292.3 339.0,292.3 343.5,292.3"/>
<polyline stroke="#12b0ea" points="240.2,292.3 244.7,292.3 249.2,292.3 253.7,292.3 258.2,292.3 262.6,288.5 267.1,271.7 271.6,253.7 276.1,236.9 280.6,225.6 285.1,217.1 289.6,214.4 294.1,218.4 298.6,228.9 303.1,240.1 307.6,259.1 312.1,276.5 316.6,292.0 321.0,292.3 325.5,292.3 330.0,292.3 334.5,292.3 339.0,292.3 343.5,292.3"/>
<polyline stroke="#c8102e" points="240.2,292.3 244.7,292.3 249.2,292.3 253.7,292.3 258.2,292.3 262.6,292.3 267.1,292.3 271.6,278.3 276.1,260.6 280.6,243.2 285.1,232.3 289.6,230.6 294.1,230.3 298.6,239.9 303.1,255.8 307.6,273.0 312.1,289.9 316.6,292.3 321.0,292.3 325.5,292.3 330.0,292.3 334.5,292.3 339.0,292.3 343.5,292.3"/>
<polyline stroke="#0a6ec4" points="240.2,292.3 244.7,292.3 249.2,292.3 253.7,292.3 258.2,292.3 262.6,292.3 267.1,288.7 271.6,271.5 276.1,252.3 280.6,237.1 285.1,227.2 289.6,222.8 294.1,224.4 298.6,231.6 303.1,244.5 307.6,264.2 312.1,281.7 316.6,292.3 321.0,292.3 325.5,292.3 330.0,292.3 334.5,292.3 339.0,292.3 343.5,292.3"/>
<polyline stroke="#ff4a00" points="240.2,292.3 244.7,292.3 249.2,292.3 253.7,292.3 258.2,292.3 262.6,288.5 267.1,270.5 271.6,251.5 276.1,235.6 280.6,220.8 285.1,212.0 289.6,208.0 294.1,211.2 298.6,223.3 303.1,237.0 307.6,252.2 312.1,271.9 316.6,289.2 321.0,292.3 325.5,292.3 330.0,292.3 334.5,292.3 339.0,292.3 343.5,292.3"/>
<polyline stroke="#ffaa00" points="240.2,292.3 244.7,292.3 249.2,292.3 253.7,292.3 258.2,292.3 262.6,292.3 267.1,285.1 271.6,266.1 276.1,243.5 280.6,228.2 285.1,218.9 289.6,218.2 294.1,222.5 298.6,233.5 303.1,252.0 307.6,270.6 312.1,289.9 316.6,292.3 321.0,292.3 325.5,292.3 330.0,292.3 334.5,292.3 339.0,292.3 343.5,292.3"/>
<polyline stroke="#8c1aa8" points="240.2,292.3 244.7,292.3 249.2,292.3 253.7,292.3 258.2,292.3 262.6,292.3 267.1,286.1 271.6,265.3 276.1,245.0 280.6,226.4 285.1,212.3 289.6,206.9 294.1,210.3 298.6,221.1 303.1,239.5 307.6,260.1 312.1,281.0 316.6,292.3 321.0,292.3 325.5,292.3 330.0,292.3 334.5,292.3 339.0,292.3 343.5,292.3"/>
<polyline stroke="#5db320" points="240.2,292.3 244.7,292.3 249.2,292.3 253.7,292.3 258.2,292.3 262.6,292.3 267.1,292.3 271.6,277.2 276.1,257.6 280.6,239.2 285.1,229.6 289.6,225.7 294.1,230.2 298.6,238.8 303.1,257.3 307.6,277.5 312.1,292.3 316.6,292.3 321.0,292.3 325.5,292.3 330.0,292.3 334.5,292.3 339.0,292.3 343.5,292.3"/>
<polyline stroke="#12b0ea" points="240.2,292.3 244.7,292.3 249.2,292.3 253.7,292.3 258.2,292.3 262.6,292.3 267.1,280.7 271.6,259.8 276.1,242.7 280.6,227.4 285.1,213.4 289.6,208.1 294.1,206.6 298.6,218.5 303.1,231.5 307.6,247.1 312.1,266.1 316.6,285.1 321.0,292.3 325.5,292.3 330.0,292.3 334.5,292.3 339.0,292.3 343.5,292.3"/>
<polyline stroke="#c8102e" points="240.2,292.3 244.7,292.3 249.2,292.3 253.7,292.3 258.2,292.3 262.6,289.5 267.1,270.9 271.6,250.9 276.1,231.9 280.6,216.3 285.1,207.6 289.6,203.0 294.1,208.4 298.6,218.9 303.1,233.2 307.6,254.1 312.1,274.9 316.6,292.2 321.0,292.3 325.5,292.3 330.0,292.3 334.5,292.3 339.0,292.3 343.5,292.3"/>
<polyline stroke="#0a6ec4" points="240.2,292.3 244.7,292.3 249.2,292.3 253.7,292.3 258.2,292.3 262.6,292.3 267.1,286.3 271.6,268.8 276.1,249.1 280.6,233.7 285.1,222.6 289.6,218.5 294.1,219.2 298.6,224.1 303.1,238.5 307.6,255.3 312.1,274.9 316.6,291.3 321.0,292.3 325.5,292.3 330.0,292.3 334.5,292.3 339.0,292.3 343.5,292.3"/>
<polyline stroke="#ff4a00" points="240.2,292.3 244.7,292.3 249.2,292.3 253.7,292.3 258.2,292.3 262.6,292.3 267.1,290.3 271.6,270.6 276.1,246.9 280.6,227.7 285.1,215.4 289.6,212.2 294.1,220.0 298.6,235.1 303.1,254.7 307.6,276.7 312.1,292.3 316.6,292.3 321.0,292.3 325.5,292.3 330.0,292.3 334.5,292.3 339.0,292.3 343.5,292.3"/>
<polyline stroke="#ffaa00" points="240.2,292.3 244.7,292.3 249.2,292.3 253.7,292.3 258.2,292.3 262.6,292.3 267.1,292.3 271.6,280.6 276.1,262.4 280.6,245.2 285.1,234.9 289.6,227.3 294.1,229.4 298.6,235.6 303.1,249.9 307.6,268.5 312.1,285.5 316.6,292.3 321.0,292.3 325.5,292.3 330.0,292.3 334.5,292.3 339.0,292.3 343.5,292.3"/>
<polyline stroke="#8c1aa8" points="240.2,292.3 244.7,292.3 249.2,292.3 253.7,292.3 258.2,292.3 262.6,291.9 267.1,276.7 271.6,258.1 276.1,242.2 280.6,225.6 285.1,215.7 289.6,211.7 294.1,212.8 298.6,221.5 303.1,234.7 307.6,249.3 312.1,267.1 316.6,284.9 321.0,292.3 325.5,292.3 330.0,292.3 334.5,292.3 339.0,292.3 343.5,292.3"/>
<polyline stroke="#5db320" points="240.2,292.3 244.7,292.3 249.2,292.3 253.7,292.3 258.2,292.3 262.6,292.3 267.1,275.2 271.6,254.1 276.1,234.0 280.6,217.8 285.1,212.2 289.6,208.8 294.1,214.6 298.6,223.2 303.1,242.3 307.6,260.2 312.1,281.0 316.6,292.3 321.0,292.3 325.5,292.3 330.0,292.3 334.5,292.3 339.0,292.3 343.5,292.3"/>
<polyline stroke="#12b0ea" points="240.2,292.3 244.7,292.3 249.2,292.3 253.7,292.3 258.2,292.3 262.6,292.3 267.1,277.5 271.6,258.1 276.1,237.9 280.6,223.6 285.1,212.5 289.6,208.1 294.1,215.1 298.6,224.4 303.1,240.3 307.6,259.1 312.1,279.4 316.6,292.3 321.0,292.3 325.5,292.3 330.0,292.3 334.5,292.3 339.0,292.3 343.5,292.3"/>
<polyline stroke="#c8102e" points="240.2,292.3 244.7,292.3 249.2,292.3 253.7,292.3 258.2,292.3 262.6,292.3 267.1,292.3 271.6,281.0 276.1,263.9 280.6,246.4 285.1,238.3 289.6,233.7 294.1,240.0 298.6,251.3 303.1,266.7 307.6,285.2 312.1,292.3 316.6,292.3 321.0,292.3 325.5,292.3 330.0,292.3 334.5,292.3 339.0,292.3 343.5,292.3"/>
<polyline stroke="#0a6ec4" points="240.2,292.3 244.7,292.3 249.2,292.3 253.7,292.3 258.2,292.3 262.6,292.3 267.1,285.2 271.6,266.5 276.1,246.2 280.6,232.7 285.1,219.7 289.6,214.5 294.1,217.7 298.6,226.2 303.1,239.0 307.6,258.8 312.1,277.5 316.6,292.3 321.0,292.3 325.5,292.3 330.0,292.3 334.5,292.3 339.0,292.3 343.5,292.3"/>
<polyline stroke="#ff4a00" points="240.2,292.3 244.7,292.3 249.2,292.3 253.7,292.3 258.2,292.3 262.6,292.3 267.1,291.6 271.6,273.2 276.1,250.9 280.6,234.2 285.1,220.5 289.6,215.0 294.1,221.0 298.6,235.1 303.1,253.1 307.6,274.5 312.1,292.3 316.6,292.3 321.0,292.3 325.5,292.3 330.0,292.3 334.5,292.3 339.0,292.3 343.5,292.3"/>
<polyline stroke="#ffaa00" points="240.2,292.3 244.7,292.3 249.2,292.3 253.7,292.3 258.2,291.0 262.6,275.6 267.1,257.6 271.6,241.2 276.1,224.1 280.6,211.4 285.1,205.8 289.6,203.7 294.1,205.6 298.6,212.5 303.1,224.6 307.6,240.3 312.1,257.8 316.6,276.3 321.0,291.3 325.5,292.3 330.0,292.3 334.5,292.3 339.0,292.3 343.5,292.3"/>
<polyline stroke="#8c1aa8" points="240.2,292.3 244.7,292.3 249.2,292.3 253.7,292.3 258.2,292.3 262.6,292.3 267.1,292.3 271.6,283.8 276.1,263.1 280.6,242.0 285.1,231.3 289.6,223.6 294.1,225.1 298.6,239.2 303.1,257.9 307.6,280.1 312.1,292.3 316.6,292.3 321.0,292.3 325.5,292.3 330.0,292.3 334.5,292.3 339.0,292.3 343.5,292.3"/>
<polyline stroke="#5db320" points="240.2,292.3 244.7,292.3 249.2,292.3 253.7,292.3 258.2,292.3 262.6,292.3 267.1,292.3 271.6,276.2 276.1,254.5 280.6,238.2 285.1,225.3 289.6,221.7 294.1,225.5 298.6,236.4 303.1,254.9 307.6,274.9 312.1,292.0 316.6,292.3 321.0,292.3 325.5,292.3 330.0,292.3 334.5,292.3 339.0,292.3 343.5,292.3"/>
<polyline stroke="#12b0ea" points="240.2,292.3 244.7,292.3 249.2,292.3 253.7,292.3 258.2,292.3 262.6,292.3 267.1,292.3 271.6,283.1 276.1,262.9 280.6,246.1 285.1,232.7 289.6,225.7 294.1,230.8 298.6,242.5 303.1,259.9 307.6,279.1 312.1,292.3 316.6,292.3 321.0,292.3 325.5,292.3 330.0,292.3 334.5,292.3 339.0,292.3 343.5,292.3"/>
<polyline stroke="#c8102e" points="240.2,292.3 244.7,292.3 249.2,292.3 253.7,292.3 258.2,292.3 262.6,285.2 267.1,266.4 271.6,245.1 276.1,227.4 280.6,210.1 285.1,202.1 289.6,195.7 294.1,197.4 298.6,204.7 303.1,218.5 307.6,236.0 312.1,255.1 316.6,275.7 321.0,292.3 325.5,292.3 330.0,292.3 334.5,292.3 339.0,292.3 343.5,292.3"/>
<polyline stroke="#0a6ec4" points="240.2,292.3 244.7,292.3 249.2,292.3 253.7,292.3 258.2,292.3 262.6,279.9 267.1,261.2 271.6,242.8 276.1,225.9 280.6,214.9 285.1,206.6 289.6,204.2 294.1,236.8 298.6,262.9 303.1,235.9 307.6,247.4 312.1,262.9 316.6,282.1 321.0,292.3 325.5,292.3 330.0,292.3 334.5,292.3 339.0,292.3 343.5,292.3"/>
<polyline stroke="#ff4a00" points="240.2,292.3 244.7,292.3 249.2,292.3 253.7,292.3 258.2,292.3 262.6,292.3 267.1,278.2 271.6,258.7 276.1,239.4 280.6,224.7 285.1,214.7 289.6,210.5 294.1,211.1 298.6,220.2 303.1,232.1 307.6,250.9 312.1,269.4 316.6,288.0 321.0,292.3 325.5,292.3 330.0,292.3 334.5,292.3 339.0,292.3 343.5,292.3"/>
<polyline stroke="#ffaa00" points="240.2,292.3 244.7,292.3 249.2,292.3 253.7,292.3 258.2,292.3 262.6,292.3 267.1,286.5 271.6,267.1 276.1,248.3 280.6,227.3 285.1,219.5 289.6,213.9 294.1,217.5 298.6,223.9 303.1,241.3 307.6,259.1 312.1,279.8 316.6,292.3 321.0,292.3 325.5,292.3 330.0,292.3 334.5,292.3 339.0,292.3 343.5,292.3"/>
<polyline stroke="#8c1aa8" points="240.2,292.3 244.7,292.3 249.2,292.3 253.7,292.3 258.2,292.3 262.6,291.4 267.1,276.0 271.6,258.4 276.1,242.7 280.6,230.5 285.1,222.5 289.6,219.2 294.1,220.6 298.6,229.4 303.1,243.0 307.6,258.8 312.1,277.1 316.6,291.9 321.0,292.3 325.5,292.3 330.0,292.3 334.5,292.3 339.0,292.3 343.5,292.3"/>
<polyline stroke="#5db320" points="240.2,292.3 244.7,292.3 249.2,292.3 253.7,292.3 258.2,292.3 262.6,278.2 267.1,257.9 271.6,238.4 276.1,221.7 280.6,211.1 285.1,196.9 289.6,193.1 294.1,197.5 298.6,205.5 303.1,216.4 307.6,234.8 312.1,252.4 316.6,273.1 321.0,290.1 325.5,292.3 330.0,292.3 334.5,292.3 339.0,292.3 343.5,292.3"/>
<polyline stroke="#12b0ea" points="240.2,292.3 244.7,292.3 249.2,292.3 253.7,292.3 258.2,292.3 262.6,292.3 267.1,292.3 271.6,281.8 276.1,260.4 280.6,242.0 285.1,230.1 289.6,224.8 294.1,229.5 298.6,244.2 303.1,262.8 307.6,283.1 312.1,292.3 316.6,292.3 321.0,292.3 325.5,292.3 330.0,292.3 334.5,292.3 339.0,292.3 343.5,292.3"/>
<polyline stroke="#c8102e" points="240.2,292.3 244.7,292.3 249.2,292.3 253.7,292.3 258.2,292.3 262.6,286.8 267.1,268.3 271.6,250.4 276.1,230.2 280.6,216.5 285.1,203.5 289.6,200.5 294.1,202.3 298.6,209.1 303.1,221.4 307.6,238.5 312.1,257.9 316.6,277.3 321.0,292.3 325.5,292.3 330.0,292.3 334.5,292.3 339.0,292.3 343.5,292.3"/>
<polyline stroke="#0a6ec4" points="240.2,292.3 244.7,292.3 249.2,292.3 253.7,292.3 258.2,292.3 262.6,292.3 267.1,292.3 271.6,285.7 276.1,266.9 280.6,249.3 285.1,235.5 289.6,231.9 294.1,235.6 298.6,246.3 303.1,261.9 307.6,280.5 312.1,292.3 316.6,292.3 321.0,292.3 325.5,292.3 330.0,292.3 334.5,292.3 339.0,292.3 343.5,292.3"/>
<polyline stroke="#ff4a00" points="240.2,292.3 244.7,292.3 249.2,292.3 253.7,292.3 258.2,292.3 262.6,292.3 267.1,292.3 271.6,285.1 276.1,268.1 280.6,250.7 285.1,241.1 289.6,234.2 294.1,239.3 298.6,251.3 303.1,267.5 307.6,284.0 312.1,292.3 316.6,292.3 321.0,292.3 325.5,292.3 330.0,292.3 334.5,292.3 339.0,292.3 343.5,292.3"/>
<polyline stroke="#ffaa00" points="240.2,292.3 244.7,292.3 249.2,292.3 253.7,292.3 258.2,292.3 262.6,292.3 267.1,292.3 271.6,278.1 276.1,254.5 280.6,234.8 285.1,217.9 289.6,217.2 294.1,220.1 298.6,235.2 303.1,256.3 307.6,278.3 312.1,292.3 316.6,292.3 321.0,292.3 325.5,292.3 330.0,292.3 334.5,292.3 339.0,292.3 343.5,292.3"/>
<polyline stroke="#8c1aa8" points="240.2,292.3 244.7,292.3 249.2,292.3 253.7,292.3 258.2,292.3 262.6,292.3 267.1,286.3 271.6,266.2 276.1,246.4 280.6,228.9 285.1,214.5 289.6,211.4 294.1,211.8 298.6,219.6 303.1,234.8 307.6,253.1 312.1,273.1 316.6,291.3 321.0,292.3 325.5,292.3 330.0,292.3 334.5,292.3 339.0,292.3 343.5,292.3"/>
<polyline stroke="#5db320" points="240.2,292.3 244.7,292.3 249.2,292.3 253.7,292.3 258.2,292.3 262.6,286.9 267.1,268.4 271.6,248.3 276.1,231.4 280.6,212.0 285.1,205.5 289.6,200.0 294.1,199.2 298.6,210.1 303.1,219.0 307.6,236.3 312.1,257.0 316.6,277.0 321.0,292.3 325.5,292.3 330.0,292.3 334.5,292.3 339.0,292.3 343.5,292.3"/>
<polyline stroke="#12b0ea" points="240.2,292.3 244.7,292.3 249.2,292.3 253.7,292.3 258.2,292.3 262.6,278.9 267.1,261.2 271.6,242.0 276.1,228.9 280.6,213.1 285.1,205.6 289.6,203.8 294.1,206.7 298.6,211.0 303.1,222.1 307.6,240.5 312.1,257.4 316.6,275.4 321.0,291.4 325.5,292.3 330.0,292.3 334.5,292.3 339.0,292.3 343.5,292.3"/>
<polyline stroke="#c8102e" points="240.2,292.3 244.7,292.3 249.2,292.3 253.7,292.3 258.2,292.3 262.6,282.5 267.1,265.1 271.6,246.2 276.1,230.2 280.6,219.1 285.1,209.4 289.6,206.9 294.1,207.8 298.6,218.7 303.1,229.0 307.6,245.7 312.1,264.5 316.6,281.4 321.0,292.3 325.5,292.3 330.0,292.3 334.5,292.3 339.0,292.3 343.5,292.3"/>
<polyline stroke="#0a6ec4" points="240.2,292.3 244.7,292.3 249.2,292.3 253.7,292.3 258.2,292.3 262.6,283.2 267.1,264.9 271.6,245.0 276.1,227.5 280.6,215.8 285.1,207.1 289.6,202.6 294.1,205.5 298.6,217.9 303.1,226.4 307.6,245.0 312.1,264.3 316.6,283.0 321.0,292.3 325.5,292.3 330.0,292.3 334.5,292.3 339.0,292.3 343.5,292.3"/>
<polyline stroke="#ff4a00" points="240.2,292.3 244.7,292.3 249.2,292.3 253.7,292.3 258.2,292.3 262.6,292.3 267.1,292.3 271.6,284.7 276.1,264.1 280.6,246.5 285.1,231.2 289.6,226.3 294.1,229.6 298.6,238.5 303.1,254.7 307.6,276.6 312.1,292.3 316.6,292.3 321.0,292.3 325.5,292.3 330.0,292.3 334.5,292.3 339.0,292.3 343.5,292.3"/>
<polyline stroke="#ffaa00" points="240.2,292.3 244.7,292.3 249.2,292.3 253.7,292.3 258.2,292.3 262.6,291.0 267.1,272.9 271.6,250.6 276.1,229.4 280.6,213.4 285.1,206.1 289.6,198.1 294.1,201.4 298.6,212.9 303.1,230.7 307.6,246.1 312.1,267.9 316.6,288.0 321.0,292.3 325.5,292.3 330.0,292.3 334.5,292.3 339.0,292.3 343.5,292.3"/>
<polyline stroke="#8c1aa8" points="240.2,292.3 244.7,292.3 249.2,292.3 253.7,292.3 258.2,292.3 262.6,288.0 267.1,270.9 271.6,250.8 276.1,232.5 280.6,227.8 285.1,257.8 289.6,218.1 294.1,210.1 298.6,219.5 303.1,238.5 307.6,254.5 312.1,273.3 316.6,290.4 321.0,292.3 325.5,292.3 330.0,292.3 334.5,292.3 339.0,292.3 343.5,292.3"/>
<polyline stroke="#5db320" points="240.2,292.3 244.7,292.3 249.2,292.3 253.7,292.3 258.2,292.3 262.6,292.3 267.1,281.9 271.6,264.8 276.1,248.0 280.6,230.3 285.1,222.4 289.6,217.5 294.1,230.6 298.6,261.9 303.1,257.5 307.6,254.5 312.1,270.7 316.6,287.6 321.0,292.3 325.5,292.3 330.0,292.3 334.5,292.3 339.0,292.3 343.5,292.3"/>
<polyline stroke="#12b0ea" points="240.2,292.3 244.7,292.3 249.2,292.3 253.7,292.3 258.2,292.3 262.6,292.3 267.1,282.2 271.6,263.3 276.1,243.1 280.6,226.5 285.1,215.7 289.6,213.4 294.1,218.8 298.6,232.4 303.1,246.3 307.6,266.4 312.1,286.0 316.6,292.3 321.0,292.3 325.5,292.3 330.0,292.3 334.5,292.3 339.0,292.3 343.5,292.3"/>
<polyline stroke="#c8102e" points="240.2,292.3 244.7,292.3 249.2,292.3 253.7,292.3 258.2,292.3 262.6,292.3 267.1,277.2 271.6,258.5 276.1,237.4 280.6,219.8 285.1,211.5 289.6,203.5 294.1,205.1 298.6,212.1 303.1,227.8 307.6,242.6 312.1,262.7 316.6,282.1 321.0,292.3 325.5,292.3 330.0,292.3 334.5,292.3 339.0,292.3 343.5,292.3"/>
<polyline stroke="#0a6ec4" points="240.2,292.3 244.7,292.3 249.2,292.3 253.7,292.3 258.2,292.3 262.6,292.3 267.1,282.3 271.6,261.7 276.1,243.1 280.6,228.1 285.1,213.6 289.6,209.6 294.1,207.1 298.6,218.7 303.1,233.1 307.6,252.1 312.1,271.9 316.6,290.3 321.0,292.3 325.5,292.3 330.0,292.3 334.5,292.3 339.0,292.3 343.5,292.3"/>
<polyline stroke="#ff4a00" points="240.2,292.3 244.7,292.3 249.2,292.3 253.7,292.3 258.2,292.3 262.6,292.3 267.1,279.4 271.6,258.3 276.1,237.9 280.6,219.4 285.1,208.1 289.6,199.9 294.1,198.2 298.6,209.4 303.1,222.8 307.6,240.7 312.1,262.2 316.6,284.2 321.0,292.3 325.5,292.3 330.0,292.3 334.5,292.3 339.0,292.3 343.5,292.3"/>
<polyline stroke="#ffaa00" points="240.2,292.3 244.7,292.3 249.2,292.3 253.7,292.3 258.2,292.3 262.6,280.4 267.1,260.0 271.6,242.0 276.1,224.7 280.6,212.7 285.1,200.0 289.6,197.5 294.1,195.6 298.6,207.4 303.1,218.4 307.6,235.3 312.1,254.2 316.6,275.5 321.0,291.6 325.5,292.3 330.0,292.3 334.5,292.3 339.0,292.3 343.5,292.3"/>
<polyline stroke="#8c1aa8" points="240.2,292.3 244.7,292.3 249.2,292.3 253.7,292.3 258.2,292.3 262.6,292.3 267.1,292.3 271.6,277.4 276.1,257.5 280.6,238.9 285.1,226.9 289.6,224.0 294.1,226.9 298.6,238.1 303.1,255.7 307.6,275.3 312.1,292.3 316.6,292.3 321.0,292.3 325.5,292.3 330.0,292.3 334.5,292.3 339.0,292.3 343.5,292.3"/>
<polyline stroke="#5db320" points="240.2,292.3 244.7,292.3 249.2,292.3 253.7,292.3 258.2,292.3 262.6,292.0 267.1,275.1 271.6,255.1 276.1,233.9 280.6,220.9 285.1,211.7 289.6,211.8 294.1,215.1 298.6,224.3 303.1,243.0 307.6,262.1 312.1,281.9 316.6,292.3 321.0,292.3 325.5,292.3 330.0,292.3 334.5,292.3 339.0,292.3 343.5,292.3"/>
<polyline stroke="#12b0ea" points="240.2,292.3 244.7,292.3 249.2,292.3 253.7,292.3 258.2,292.3 262.6,292.3 267.1,287.6 271.6,269.6 276.1,251.0 280.6,233.0 285.1,221.3 289.6,216.4 294.1,219.5 298.6,225.0 303.1,240.7 307.6,256.9 312.1,276.1 316.6,292.2 321.0,292.3 325.5,292.3 330.0,292.3 334.5,292.3 339.0,292.3 343.5,292.3"/>
<polyline stroke="#c8102e" points="240.2,292.3 244.7,292.3 249.2,292.3 253.7,292.3 258.2,292.3 262.6,281.8 267.1,263.6 271.6,245.7 276.1,228.7 280.6,216.6 285.1,209.7 289.6,207.5 294.1,212.9 298.6,215.7 303.1,231.6 307.6,246.4 312.1,263.3 316.6,282.1 321.0,292.3 325.5,292.3 330.0,292.3 334.5,292.3 339.0,292.3 343.5,292.3"/>
<polyline stroke="#0a6ec4" points="240.2,292.3 244.7,292.3 249.2,292.3 253.7,292.3 258.2,292.3 262.6,292.3 267.1,292.3 271.6,278.6 276.1,259.0 280.6,241.7 285.1,231.0 289.6,227.6 294.1,233.2 298.6,245.4 303.1,262.5 307.6,281.9 312.1,292.3 316.6,292.3 321.0,292.3 325.5,292.3 330.0,292.3 334.5,292.3 339.0,292.3 343.5,292.3"/>
<polyline stroke="#ff4a00" points="240.2,292.3 244.7,292.3 249.2,292.3 253.7,292.3 258.2,292.3 262.6,276.2 267.1,256.3 271.6,238.2 276.1,222.1 280.6,208.0 285.1,204.9 289.6,197.5 294.1,200.4 298.6,211.4 303.1,226.0 307.6,242.4 312.1,263.0 316.6,281.8 321.0,292.3 325.5,292.3 330.0,292.3 334.5,292.3 339.0,292.3 343.5,292.3"/>
<polyline stroke="#ffaa00" points="240.2,292.3 244.7,292.3 249.2,292.3 253.7,292.3 258.2,292.3 262.6,292.3 267.1,289.9 271.6,273.4 276.1,256.8 280.6,241.6 285.1,232.1 289.6,228.9 294.1,237.8 298.6,246.5 303.1,263.7 307.6,280.1 312.1,292.3 316.6,292.3 321.0,292.3 325.5,292.3 330.0,292.3 334.5,292.3 339.0,292.3 343.5,292.3"/>
<polyline stroke="#8c1aa8" points="240.2,292.3 244.7,292.3 249.2,292.3 253.7,292.3 258.2,292.3 262.6,288.7 267.1,268.9 271.6,247.3 276.1,230.5 280.6,213.6 285.1,202.6 289.6,198.8 294.1,209.6 298.6,220.5 303.1,234.6 307.6,255.3 312.1,276.3 316.6,292.3 321.0,292.3 325.5,292.3 330.0,292.3 334.5,292.3 339.0,292.3 343.5,292.3"/>
<polyline stroke="#5db320" points="240.2,292.3 244.7,292.3 249.2,292.3 253.7,292.3 258.2,292.3 262.6,292.3 267.1,284.5 271.6,265.7 276.1,248.8 280.6,234.4 285.1,222.3 289.6,218.1 294.1,224.2 298.6,233.2 303.1,248.8 307.6,267.2 312.1,285.1 316.6,292.3 321.0,292.3 325.5,292.3 330.0,292.3 334.5,292.3 339.0,292.3 343.5,292.3"/>
<polyline stroke="#12b0ea" points="240.2,292.3 244.7,292.3 249.2,292.3 253.7,292.3 258.2,292.3 262.6,292.3 267.1,292.3 271.6,284.2 276.1,267.0 280.6,250.3 285.1,238.7 289.6,235.1 294.1,238.6 298.6,249.5 303.1,266.0 307.6,283.3 312.1,292.3 316.6,292.3 321.0,292.3 325.5,292.3 330.0,292.3 334.5,292.3 339.0,292.3 343.5,292.3"/>
<polyline stroke="#c8102e" points="240.2,292.3 244.7,292.3 249.2,292.3 253.7,292.3 258.2,292.3 262.6,292.3 267.1,282.6 271.6,262.4 276.1,243.3 280.6,228.4 285.1,218.0 289.6,214.0 294.1,217.3 298.6,228.3 303.1,242.4 307.6,262.4 312.1,281.6 316.6,292.3 321.0,292.3 325.5,292.3 330.0,292.3 334.5,292.3 339.0,292.3 343.5,292.3"/>
<polyline stroke="#0a6ec4" points="240.2,292.3 244.7,292.3 249.2,292.3 253.7,292.3 258.2,292.3 262.6,292.3 267.1,280.4 271.6,262.2 276.1,244.9 280.6,227.1 285.1,217.2 289.6,215.6 294.1,214.8 298.6,224.8 303.1,236.1 307.6,255.1 312.1,275.3 316.6,291.5 321.0,292.3 325.5,292.3 330.0,292.3 334.5,292.3 339.0,292.3 343.5,292.3"/>
<polyline stroke="#ff4a00" points="240.2,292.3 244.7,292.3 249.2,292.3 253.7,292.3 258.2,292.3 262.6,285.9 267.1,266.0 271.6,247.5 276.1,226.2 280.6,209.7 285.1,206.4 289.6,197.3 294.1,203.4 298.6,215.8 303.1,232.4 307.6,249.1 312.1,270.7 316.6,289.6 321.0,292.3 325.5,292.3 330.0,292.3 334.5,292.3 339.0,292.3 343.5,292.3"/>
<polyline stroke="#ffaa00" points="240.2,292.3 244.7,292.3 249.2,292.3 253.7,292.3 258.2,292.3 262.6,284.7 267.1,264.4 271.6,245.6 276.1,226.1 280.6,210.7 285.1,201.3 289.6,200.6 294.1,203.7 298.6,213.7 303.1,226.7 307.6,247.1 312.1,268.6 316.6,287.8 321.0,292.3 325.5,292.3 330.0,292.3 334.5,292.3 339.0,292.3 343.5,292.3"/>
</g>
<path d="M235.7 292.3v-1.1M235.7 187.3v1.1M280.6 292.3v-1.1M280.6 187.3v1.1M325.5 292.3v-1.1M325.5 187.3v1.1M235.7 292.3h1.1M343.5 292.3h-1.1M235.7 257.3h1.1M343.5 257.3h-1.1M235.7 222.3h1.1M343.5 222.3h-1.1M235.7 187.3h1.1M343.5 187.3h-1.1" stroke="#262626" stroke-width="1" fill="none"/>
<text class="k" x="235.7" y="308.3" font-size="12.0" text-anchor="middle" fill="#262626">0</text>
<text class="k" x="280.6" y="308.3" font-size="12.0" text-anchor="middle" fill="#262626">10</text>
<text class="k" x="325.5" y="308.3" font-size="12.0" text-anchor="middle" fill="#262626">20</text>
<text class="k" x="231.1" y="297.4" font-size="12.0" text-anchor="end" fill="#262626">0</text>
<text class="k" x="231.1" y="262.4" font-size="12.0" text-anchor="end" fill="#262626">1000</text>
<text class="k" x="231.1" y="227.4" font-size="12.0" text-anchor="end" fill="#262626">2000</text>
<text class="k" x="231.1" y="192.4" font-size="12.0" text-anchor="end" fill="#262626">3000</text>
<text class="t" x="210.2" y="181.4" font-size="12.8" textLength="158.8" lengthAdjust="spacing" fill="#000">typical daily 5 frequency87</text>
<text x="260.3" y="329.8" font-size="16.4" textLength="58.6" lengthAdjust="spacingAndGlyphs" fill="#262626">time (h)</text>
<text transform="translate(191.3 239.8) rotate(-90)" x="0" y="6.2" font-size="17.2" text-anchor="middle" fill="#262626">power (kW)</text>
<rect x="407.3" y="187.3" width="107.8" height="105.0" fill="none" stroke="#262626" stroke-width="1"/>
<clipPath id="c5"><rect x="405.3" y="185.3" width="111.8" height="109.0"/></clipPath>
<g clip-path="url(#c5)" fill="none" stroke-width="2.6" stroke-linejoin="round" stroke-linecap="butt">
<polyline stroke="#0a6ec4" points="411.8,292.3 416.3,292.3 420.8,292.3 425.3,292.3 429.8,292.3 434.2,292.3 438.7,292.3 443.2,292.3 447.7,288.6 452.2,285.7 456.7,282.9 461.2,279.2 465.7,273.6 470.2,275.9 474.7,282.9 479.2,292.3 483.7,292.3 488.2,292.3 492.6,292.3 497.1,292.3 501.6,292.3 506.1,292.3 510.6,292.3 515.1,292.3"/>
<polyline stroke="#ff4a00" points="411.8,292.3 416.3,292.3 420.8,292.3 425.3,292.3 429.8,292.3 434.2,292.3 438.7,292.3 443.2,278.5 447.7,257.3 452.2,240.3 456.7,233.5 461.2,226.4 465.7,232.6 470.2,243.0 474.7,259.8 479.2,278.7 483.7,292.3 488.2,292.3 492.6,292.3 497.1,292.3 501.6,292.3 506.1,292.3 510.6,292.3 515.1,292.3"/>
<polyline stroke="#ffaa00" points="411.8,292.3 416.3,292.3 420.8,292.3 425.3,292.3 429.8,292.3 434.2,292.3 438.7,292.3 443.2,292.0 447.7,282.9 452.2,274.5 456.7,254.7 461.2,239.6 465.7,241.0 470.2,253.6 474.7,266.0 479.2,280.6 483.7,292.3 488.2,292.3 492.6,292.3 497.1,292.3 501.6,292.3 506.1,292.3 510.6,292.3 515.1,292.3"/>
<polyline stroke="#8c1aa8" points="411.8,292.3 416.3,292.3 420.8,292.3 425.3,292.3 429.8,292.3 434.2,292.3 438.7,281.4 443.2,259.5 447.7,236.1 452.2,212.6 456.7,198.6 461.2,193.9 465.7,203.2 470.2,231.4 474.7,250.1 479.2,268.9 483.7,284.5 488.2,292.3 492.6,292.3 497.1,292.3 501.6,292.3 506.1,292.3 510.6,292.3 515.1,292.3"/>
<polyline stroke="#5db320" points="411.8,292.3 416.3,292.3 420.8,292.3 425.3,292.3 429.8,292.3 434.2,292.3 438.7,292.3 443.2,280.6 447.7,268.9 452.2,250.1 456.7,259.5 461.2,245.4 465.7,254.8 470.2,264.2 474.7,278.2 479.2,287.6 483.7,292.3 488.2,292.3 492.6,292.3 497.1,292.3 501.6,292.3 506.1,292.3 510.6,292.3 515.1,292.3"/>
<polyline stroke="#12b0ea" points="411.8,292.3 416.3,292.3 420.8,292.3 425.3,292.3 429.8,292.3 434.2,292.3 438.7,292.3 443.2,271.2 447.7,250.1 452.2,222.0 456.7,189.2 461.2,217.3 465.7,187.3 470.2,222.0 474.7,250.1 479.2,273.6 483.7,292.3 488.2,292.3 492.6,292.3 497.1,292.3 501.6,292.3 506.1,292.3 510.6,292.3 515.1,292.3"/>
<polyline stroke="#c8102e" points="411.8,292.3 416.3,292.3 420.8,292.3 425.3,292.3 429.8,292.3 434.2,292.3 438.7,292.3 443.2,279.3 447.7,259.1 452.2,239.2 456.7,220.9 461.2,217.3 465.7,223.3 470.2,233.7 474.7,243.1 479.2,264.7 483.7,283.4 488.2,292.3 492.6,292.3 497.1,292.3 501.6,292.3 506.1,292.3 510.6,292.3 515.1,292.3"/>
<polyline stroke="#0a6ec4" points="411.8,292.3 416.3,292.3 420.8,292.3 425.3,292.3 429.8,292.3 434.2,292.3 438.7,292.3 443.2,276.4 447.7,252.8 452.2,235.6 456.7,252.1 461.2,218.2 465.7,211.8 470.2,224.8 474.7,246.2 479.2,263.8 483.7,287.1 488.2,292.3 492.6,292.3 497.1,292.3 501.6,292.3 506.1,292.3 510.6,292.3 515.1,292.3"/>
<polyline stroke="#ff4a00" points="411.8,292.3 416.3,292.3 420.8,292.3 425.3,292.3 429.8,292.3 434.2,292.3 438.7,292.3 443.2,289.6 447.7,274.0 452.2,261.7 456.7,252.4 461.2,253.7 465.7,267.1 470.2,270.3 474.7,275.7 479.2,288.8 483.7,292.3 488.2,292.3 492.6,292.3 497.1,292.3 501.6,292.3 506.1,292.3 510.6,292.3 515.1,292.3"/>
<polyline stroke="#ffaa00" points="411.8,292.3 416.3,292.3 420.8,292.3 425.3,292.3 429.8,292.3 434.2,292.3 438.7,290.0 443.2,270.7 447.7,247.5 452.2,241.0 456.7,260.4 461.2,224.1 465.7,193.3 470.2,217.1 474.7,229.7 479.2,252.9 483.7,279.4 488.2,292.3 492.6,292.3 497.1,292.3 501.6,292.3 506.1,292.3 510.6,292.3 515.1,292.3"/>
<polyline stroke="#8c1aa8" points="411.8,292.3 416.3,292.3 420.8,292.3 425.3,292.3 429.8,292.3 434.2,292.3 438.7,292.3 443.2,292.3 447.7,270.1 452.2,253.6 456.7,230.5 461.2,221.3 465.7,223.7 470.2,239.5 474.7,258.0 479.2,278.9 483.7,292.3 488.2,292.3 492.6,292.3 497.1,292.3 501.6,292.3 506.1,292.3 510.6,292.3 515.1,292.3"/>
<polyline stroke="#5db320" points="411.8,292.3 416.3,292.3 420.8,292.3 425.3,292.3 429.8,292.3 434.2,292.3 438.7,292.3 443.2,290.6 447.7,275.9 452.2,257.9 456.7,245.2 461.2,241.9 465.7,242.7 470.2,246.5 474.7,257.4 479.2,274.5 483.7,290.7 488.2,292.3 492.6,292.3 497.1,292.3 501.6,292.3 506.1,292.3 510.6,292.3 515.1,292.3"/>
<polyline stroke="#12b0ea" points="411.8,292.3 416.3,292.3 420.8,292.3 425.3,292.3 429.8,292.3 434.2,292.3 438.7,292.3 443.2,268.9 447.7,245.4 452.2,217.3 456.7,198.6 461.2,212.6 465.7,193.9 470.2,217.3 474.7,245.4 479.2,273.6 483.7,286.1 488.2,292.3 492.6,292.3 497.1,292.3 501.6,292.3 506.1,292.3 510.6,292.3 515.1,292.3"/>
<polyline stroke="#c8102e" points="411.8,292.3 416.3,292.3 420.8,292.3 425.3,292.3 429.8,292.3 434.2,292.3 438.7,288.5 443.2,269.6 447.7,248.0 452.2,233.5 456.7,227.2 461.2,218.1 465.7,216.9 470.2,232.4 474.7,246.2 479.2,260.8 483.7,281.2 488.2,292.3 492.6,292.3 497.1,292.3 501.6,292.3 506.1,292.3 510.6,292.3 515.1,292.3"/>
<polyline stroke="#0a6ec4" points="411.8,292.3 416.3,292.3 420.8,292.3 425.3,292.3 429.8,292.3 434.2,292.3 438.7,290.1 443.2,268.1 447.7,248.1 452.2,229.2 456.7,213.5 461.2,204.0 465.7,217.3 470.2,224.0 474.7,245.2 479.2,267.1 483.7,287.7 488.2,292.3 492.6,292.3 497.1,292.3 501.6,292.3 506.1,292.3 510.6,292.3 515.1,292.3"/>
<polyline stroke="#ff4a00" points="411.8,292.3 416.3,292.3 420.8,292.3 425.3,292.3 429.8,292.3 434.2,292.3 438.7,289.5 443.2,268.0 447.7,243.0 452.2,230.8 456.7,219.6 461.2,238.3 465.7,234.9 470.2,222.9 474.7,233.9 479.2,250.9 483.7,275.5 488.2,292.3 492.6,292.3 497.1,292.3 501.6,292.3 506.1,292.3 510.6,292.3 515.1,292.3"/>
<polyline stroke="#ffaa00" points="411.8,292.3 416.3,292.3 420.8,292.3 425.3,292.3 429.8,292.3 434.2,292.3 438.7,292.3 443.2,275.0 447.7,255.4 452.2,236.8 456.7,227.5 461.2,224.4 465.7,235.3 470.2,270.0 474.7,267.9 479.2,270.1 483.7,289.3 488.2,292.3 492.6,292.3 497.1,292.3 501.6,292.3 506.1,292.3 510.6,292.3 515.1,292.3"/>
<polyline stroke="#8c1aa8" points="411.8,292.3 416.3,292.3 420.8,292.3 425.3,292.3 429.8,292.3 434.2,292.3 438.7,292.3 443.2,280.0 447.7,266.9 452.2,243.9 456.7,236.6 461.2,231.2 465.7,226.3 470.2,239.4 474.7,254.9 479.2,270.6 483.7,286.1 488.2,292.3 492.6,292.3 497.1,292.3 501.6,292.3 506.1,292.3 510.6,292.3 515.1,292.3"/>
<polyline stroke="#5db320" points="411.8,292.3 416.3,292.3 420.8,292.3 425.3,292.3 429.8,292.3 434.2,292.3 438.7,292.3 443.2,280.6 447.7,262.4 452.2,241.1 456.7,233.3 461.2,237.5 465.7,262.5 470.2,253.7 474.7,255.9 479.2,273.1 483.7,290.1 488.2,292.3 492.6,292.3 497.1,292.3 501.6,292.3 506.1,292.3 510.6,292.3 515.1,292.3"/>
<polyline stroke="#12b0ea" points="411.8,292.3 416.3,292.3 420.8,292.3 425.3,292.3 429.8,292.3 434.2,292.3 438.7,292.3 443.2,292.2 447.7,281.0 452.2,275.1 456.7,269.2 461.2,250.8 465.7,246.9 470.2,254.0 474.7,266.5 479.2,281.1 483.7,292.3 488.2,292.3 492.6,292.3 497.1,292.3 501.6,292.3 506.1,292.3 510.6,292.3 515.1,292.3"/>
<polyline stroke="#c8102e" points="411.8,292.3 416.3,292.3 420.8,292.3 425.3,292.3 429.8,292.3 434.2,292.3 438.7,292.3 443.2,292.3 447.7,279.5 452.2,260.7 456.7,251.3 461.2,253.4 465.7,270.4 470.2,256.3 474.7,269.7 479.2,284.0 483.7,292.3 488.2,292.3 492.6,292.3 497.1,292.3 501.6,292.3 506.1,292.3 510.6,292.3 515.1,292.3"/>
<polyline stroke="#0a6ec4" points="411.8,292.3 416.3,292.3 420.8,292.3 425.3,292.3 429.8,292.3 434.2,292.3 438.7,292.3 443.2,289.8 447.7,276.1 452.2,262.8 456.7,251.9 461.2,242.2 465.7,248.1 470.2,254.2 474.7,264.9 479.2,278.1 483.7,291.4 488.2,292.3 492.6,292.3 497.1,292.3 501.6,292.3 506.1,292.3 510.6,292.3 515.1,292.3"/>
<polyline stroke="#ff4a00" points="411.8,292.3 416.3,292.3 420.8,292.3 425.3,292.3 429.8,292.3 434.2,292.3 438.7,292.3 443.2,290.1 447.7,277.1 452.2,273.7 456.7,256.9 461.2,247.4 465.7,248.8 470.2,252.7 474.7,265.9 479.2,279.6 483.7,291.3 488.2,292.3 492.6,292.3 497.1,292.3 501.6,292.3 506.1,292.3 510.6,292.3 515.1,292.3"/>
<polyline stroke="#ffaa00" points="411.8,292.3 416.3,292.3 420.8,292.3 425.3,292.3 429.8,292.3 434.2,292.3 438.7,292.3 443.2,290.3 447.7,275.3 452.2,262.6 456.7,251.9 461.2,242.4 465.7,245.4 470.2,250.7 474.7,267.5 479.2,280.2 483.7,292.3 488.2,292.3 492.6,292.3 497.1,292.3 501.6,292.3 506.1,292.3 510.6,292.3 515.1,292.3"/>
<polyline stroke="#8c1aa8" points="411.8,292.3 416.3,292.3 420.8,292.3 425.3,292.3 429.8,292.3 434.2,292.3 438.7,292.3 443.2,283.7 447.7,266.2 452.2,250.5 456.7,240.7 461.2,235.1 465.7,234.0 470.2,247.2 474.7,262.5 479.2,277.4 483.7,292.3 488.2,292.3 492.6,292.3 497.1,292.3 501.6,292.3 506.1,292.3 510.6,292.3 515.1,292.3"/>
<polyline stroke="#5db320" points="411.8,292.3 416.3,292.3 420.8,292.3 425.3,292.3 429.8,292.3 434.2,292.3 438.7,292.3 443.2,279.8 447.7,259.3 452.2,240.4 456.7,223.1 461.2,254.7 465.7,225.9 470.2,227.0 474.7,247.6 479.2,266.9 483.7,285.0 488.2,292.3 492.6,292.3 497.1,292.3 501.6,292.3 506.1,292.3 510.6,292.3 515.1,292.3"/>
<polyline stroke="#12b0ea" points="411.8,292.3 416.3,292.3 420.8,292.3 425.3,292.3 429.8,292.3 434.2,292.3 438.7,292.1 443.2,273.1 447.7,252.5 452.2,237.9 456.7,217.1 461.2,213.1 465.7,223.8 470.2,228.0 474.7,250.1 479.2,271.8 483.7,290.9 488.2,292.3 492.6,292.3 497.1,292.3 501.6,292.3 506.1,292.3 510.6,292.3 515.1,292.3"/>
<polyline stroke="#c8102e" points="411.8,292.3 416.3,292.3 420.8,292.3 425.3,292.3 429.8,292.3 434.2,292.3 438.7,292.3 443.2,285.3 447.7,267.6 452.2,250.1 456.7,238.7 461.2,235.0 465.7,237.4 470.2,253.5 474.7,268.0 479.2,285.0 483.7,292.3 488.2,292.3 492.6,292.3 497.1,292.3 501.6,292.3 506.1,292.3 510.6,292.3 515.1,292.3"/>
<polyline stroke="#0a6ec4" points="411.8,292.3 416.3,292.3 420.8,292.3 425.3,292.3 429.8,292.3 434.2,292.3 438.7,292.2 443.2,274.0 447.7,253.3 452.2,236.8 456.7,221.9 461.2,217.0 465.7,221.8 470.2,246.7 474.7,260.2 479.2,272.8 483.7,290.2 488.2,292.3 492.6,292.3 497.1,292.3 501.6,292.3 506.1,292.3 510.6,292.3 515.1,292.3"/>
<polyline stroke="#ff4a00" points="411.8,292.3 416.3,292.3 420.8,292.3 425.3,292.3 429.8,292.3 434.2,292.3 438.7,292.3 443.2,283.5 447.7,262.2 452.2,247.6 456.7,231.4 461.2,225.9 465.7,230.0 470.2,238.7 474.7,257.2 479.2,275.2 483.7,292.2 488.2,292.3 492.6,292.3 497.1,292.3 501.6,292.3 506.1,292.3 510.6,292.3 515.1,292.3"/>
<polyline stroke="#ffaa00" points="411.8,292.3 416.3,292.3 420.8,292.3 425.3,292.3 429.8,292.3 434.2,292.3 438.7,292.3 443.2,282.6 447.7,268.7 452.2,256.7 456.7,256.0 461.2,272.2 465.7,258.6 470.2,254.2 474.7,270.7 479.2,286.5 483.7,292.3 488.2,292.3 492.6,292.3 497.1,292.3 501.6,292.3 506.1,292.3 510.6,292.3 515.1,292.3"/>
<polyline stroke="#8c1aa8" points="411.8,292.3 416.3,292.3 420.8,292.3 425.3,292.3 429.8,292.3 434.2,292.3 438.7,291.9 443.2,274.7 447.7,256.7 452.2,235.6 456.7,220.5 461.2,213.8 465.7,254.8 470.2,235.8 474.7,243.5 479.2,252.4 483.7,275.4 488.2,292.2 492.6,292.3 497.1,292.3 501.6,292.3 506.1,292.3 510.6,292.3 515.1,292.3"/>
<polyline stroke="#5db320" points="411.8,292.3 416.3,292.3 420.8,292.3 425.3,292.3 429.8,292.3 434.2,292.3 438.7,292.3 443.2,290.8 447.7,273.4 452.2,254.5 456.7,241.6 461.2,233.6 465.7,234.4 470.2,242.6 474.7,257.0 479.2,276.0 483.7,292.3 488.2,292.3 492.6,292.3 497.1,292.3 501.6,292.3 506.1,292.3 510.6,292.3 515.1,292.3"/>
<polyline stroke="#12b0ea" points="411.8,292.3 416.3,292.3 420.8,292.3 425.3,292.3 429.8,292.3 434.2,292.3 438.7,292.3 443.2,282.5 447.7,264.0 452.2,252.5 456.7,256.4 461.2,249.6 465.7,238.2 470.2,252.2 474.7,267.9 479.2,284.6 483.7,292.3 488.2,292.3 492.6,292.3 497.1,292.3 501.6,292.3 506.1,292.3 510.6,292.3 515.1,292.3"/>
<polyline stroke="#c8102e" points="411.8,292.3 416.3,292.3 420.8,292.3 425.3,292.3 429.8,292.3 434.2,292.3 438.7,286.6 443.2,268.3 447.7,255.0 452.2,250.0 456.7,237.9 461.2,211.2 465.7,213.0 470.2,223.7 474.7,239.6 479.2,266.3 483.7,286.8 488.2,292.3 492.6,292.3 497.1,292.3 501.6,292.3 506.1,292.3 510.6,292.3 515.1,292.3"/>
<polyline stroke="#0a6ec4" points="411.8,292.3 416.3,292.3 420.8,292.3 425.3,292.3 429.8,292.3 434.2,292.3 438.7,292.3 443.2,272.7 447.7,245.8 452.2,224.8 456.7,215.3 461.2,208.6 465.7,207.5 470.2,217.7 474.7,234.4 479.2,258.2 483.7,280.1 488.2,292.3 492.6,292.3 497.1,292.3 501.6,292.3 506.1,292.3 510.6,292.3 515.1,292.3"/>
<polyline stroke="#ff4a00" points="411.8,292.3 416.3,292.3 420.8,292.3 425.3,292.3 429.8,292.3 434.2,292.3 438.7,292.3 443.2,289.5 447.7,271.6 452.2,255.7 456.7,260.4 461.2,270.4 465.7,261.0 470.2,253.0 474.7,261.8 479.2,281.1 483.7,292.3 488.2,292.3 492.6,292.3 497.1,292.3 501.6,292.3 506.1,292.3 510.6,292.3 515.1,292.3"/>
<polyline stroke="#ffaa00" points="411.8,292.3 416.3,292.3 420.8,292.3 425.3,292.3 429.8,292.3 434.2,292.3 438.7,292.3 443.2,282.2 447.7,263.7 452.2,243.5 456.7,230.8 461.2,228.8 465.7,233.2 470.2,235.3 474.7,254.2 479.2,275.4 483.7,292.1 488.2,292.3 492.6,292.3 497.1,292.3 501.6,292.3 506.1,292.3 510.6,292.3 515.1,292.3"/>
<polyline stroke="#8c1aa8" points="411.8,292.3 416.3,292.3 420.8,292.3 425.3,292.3 429.8,292.3 434.2,292.3 438.7,292.3 443.2,292.3 447.7,280.9 452.2,266.5 456.7,264.6 461.2,266.9 465.7,250.2 470.2,253.9 474.7,267.7 479.2,284.3 483.7,292.3 488.2,292.3 492.6,292.3 497.1,292.3 501.6,292.3 506.1,292.3 510.6,292.3 515.1,292.3"/>
<polyline stroke="#5db320" points="411.8,292.3 416.3,292.3 420.8,292.3 425.3,292.3 429.8,292.3 434.2,292.3 438.7,292.3 443.2,287.2 447.7,274.8 452.2,264.4 456.7,252.1 461.2,252.6 465.7,257.3 470.2,263.7 474.7,275.8 479.2,286.7 483.7,292.3 488.2,292.3 492.6,292.3 497.1,292.3 501.6,292.3 506.1,292.3 510.6,292.3 515.1,292.3"/>
<polyline stroke="#12b0ea" points="411.8,292.3 416.3,292.3 420.8,292.3 425.3,292.3 429.8,292.3 434.2,292.3 438.7,290.7 443.2,269.1 447.7,249.7 452.2,223.5 456.7,210.4 461.2,210.8 465.7,209.2 470.2,208.5 474.7,227.7 479.2,251.2 483.7,272.7 488.2,291.9 492.6,292.3 497.1,292.3 501.6,292.3 506.1,292.3 510.6,292.3 515.1,292.3"/>
<polyline stroke="#c8102e" points="411.8,292.3 416.3,292.3 420.8,292.3 425.3,292.3 429.8,292.3 434.2,292.3 438.7,292.3 443.2,288.6 447.7,272.8 452.2,256.6 456.7,249.0 461.2,239.6 465.7,248.4 470.2,257.6 474.7,273.8 479.2,289.5 483.7,292.3 488.2,292.3 492.6,292.3 497.1,292.3 501.6,292.3 506.1,292.3 510.6,292.3 515.1,292.3"/>
<polyline stroke="#0a6ec4" points="411.8,292.3 416.3,292.3 420.8,292.3 425.3,292.3 429.8,292.3 434.2,292.3 438.7,292.3 443.2,276.4 447.7,256.9 452.2,237.5 456.7,225.9 461.2,222.3 465.7,222.0 470.2,238.1 474.7,257.8 479.2,277.6 483.7,292.3 488.2,292.3 492.6,292.3 497.1,292.3 501.6,292.3 506.1,292.3 510.6,292.3 515.1,292.3"/>
<polyline stroke="#ff4a00" points="411.8,292.3 416.3,292.3 420.8,292.3 425.3,292.3 429.8,292.3 434.2,292.3 438.7,285.8 443.2,269.2 447.7,255.4 452.2,242.1 456.7,228.4 461.2,238.4 465.7,256.2 470.2,263.8 474.7,259.5 479.2,270.3 483.7,285.7 488.2,292.3 492.6,292.3 497.1,292.3 501.6,292.3 506.1,292.3 510.6,292.3 515.1,292.3"/>
<polyline stroke="#ffaa00" points="411.8,292.3 416.3,292.3 420.8,292.3 425.3,292.3 429.8,292.3 434.2,292.3 438.7,292.3 443.2,275.9 447.7,259.5 452.2,245.4 456.7,231.4 461.2,224.3 465.7,226.7 470.2,240.7 474.7,257.1 479.2,273.6 483.7,292.3 488.2,292.3 492.6,292.3 497.1,292.3 501.6,292.3 506.1,292.3 510.6,292.3 515.1,292.3"/>
</g>
<path d="M407.3 292.3v-1.1M407.3 187.3v1.1M452.2 292.3v-1.1M452.2 187.3v1.1M497.1 292.3v-1.1M497.1 187.3v1.1M407.3 292.3h1.1M515.1 292.3h-1.1M407.3 245.4h1.1M515.1 245.4h-1.1M407.3 198.6h1.1M515.1 198.6h-1.1" stroke="#262626" stroke-width="1" fill="none"/>
<text class="k" x="407.3" y="308.3" font-size="12.0" text-anchor="middle" fill="#262626">0</text>
<text class="k" x="452.2" y="308.3" font-size="12.0" text-anchor="middle" fill="#262626">10</text>
<text class="k" x="497.1" y="308.3" font-size="12.0" text-anchor="middle" fill="#262626">20</text>
<text class="k" x="402.7" y="297.4" font-size="12.0" text-anchor="end" fill="#262626">0</text>
<text class="k" x="402.7" y="250.5" font-size="12.0" text-anchor="end" fill="#262626">1000</text>
<text class="k" x="402.7" y="203.6" font-size="12.0" text-anchor="end" fill="#262626">2000</text>
<text class="t" x="381.8" y="181.4" font-size="12.8" textLength="158.8" lengthAdjust="spacing" fill="#000">typical daily 6 frequency45</text>
<text x="431.9" y="329.8" font-size="16.4" textLength="58.6" lengthAdjust="spacingAndGlyphs" fill="#262626">time (h)</text>
<text transform="translate(362.9 239.8) rotate(-90)" x="0" y="6.2" font-size="17.2" text-anchor="middle" fill="#262626">power (kW)</text>
<rect x="56.5" y="377.5" width="110.2" height="104.8" fill="none" stroke="#262626" stroke-width="1"/>
<clipPath id="c6"><rect x="54.5" y="375.5" width="114.2" height="108.8"/></clipPath>
<g clip-path="url(#c6)" fill="none" stroke-width="2.6" stroke-linejoin="round" stroke-linecap="butt">
<polyline stroke="#0a6ec4" points="61.1,428.3 65.7,428.8 70.3,426.0 74.9,422.4 79.5,417.2 84.0,411.9 88.6,407.9 93.2,409.8 97.8,414.7 102.4,420.8 107.0,418.8 111.6,415.4 116.2,408.9 120.8,404.2 125.4,404.6 130.0,406.4 134.6,409.6 139.1,413.0 143.7,408.8 148.3,411.6 152.9,418.9 157.5,421.9 162.1,424.2 166.7,426.4"/>
<polyline stroke="#ff4a00" points="61.1,435.6 65.7,435.7 70.3,436.6 74.9,438.2 79.5,439.2 84.0,439.5 88.6,438.2 93.2,434.2 97.8,428.5 102.4,423.5 107.0,426.8 111.6,428.5 116.2,429.2 120.8,428.4 125.4,426.0 130.0,423.4 134.6,421.6 139.1,421.8 143.7,421.0 148.3,423.5 152.9,425.5 157.5,426.7 162.1,427.0 166.7,427.5"/>
<polyline stroke="#ffaa00" points="61.1,440.4 65.7,437.6 70.3,434.8 74.9,430.6 79.5,426.4 84.0,421.2 88.6,415.9 93.2,409.4 97.8,408.8 102.4,414.9 107.0,421.1 111.6,426.4 116.2,424.7 120.8,422.9 125.4,421.2 130.0,419.4 134.6,416.6 139.1,413.8 143.7,408.9 148.3,410.4 152.9,413.4 157.5,416.1 162.1,418.8 166.7,421.4"/>
<polyline stroke="#8c1aa8" points="61.1,440.4 65.7,438.1 70.3,435.7 74.9,433.4 79.5,429.9 84.0,426.4 88.6,420.4 93.2,414.4 97.8,415.9 102.4,422.9 107.0,424.7 111.6,426.4 116.2,427.6 120.8,428.7 125.4,429.9 130.0,429.9 134.6,429.9 139.1,429.9 143.7,429.9 148.3,429.9 152.9,429.9 157.5,431.1 162.1,432.2 166.7,433.4"/>
<polyline stroke="#5db320" points="61.1,447.4 65.7,446.2 70.3,445.0 74.9,443.9 79.5,441.5 84.0,439.2 88.6,436.9 93.2,433.4 97.8,429.9 102.4,419.4 107.0,415.2 111.6,408.5 116.2,400.3 120.8,392.8 125.4,390.5 130.0,388.2 134.6,388.7 139.1,393.4 143.7,398.1 148.3,403.9 152.9,410.6 157.5,416.5 162.1,422.3 166.7,426.4"/>
<polyline stroke="#12b0ea" points="61.1,433.4 65.7,432.5 70.3,431.6 74.9,430.8 79.5,429.9 84.0,429.0 88.6,428.2 93.2,427.3 97.8,426.4 102.4,420.8 107.0,415.2 111.6,412.7 116.2,413.6 120.8,414.3 125.4,414.9 130.0,415.8 134.6,417.1 139.1,418.3 143.7,419.4 148.3,421.2 152.9,422.9 157.5,424.5 162.1,426.2 166.7,427.8"/>
<polyline stroke="#c8102e" points="61.1,436.9 65.7,436.0 70.3,435.1 74.9,434.3 79.5,433.4 84.0,432.5 88.6,431.6 93.2,430.8 97.8,429.9 102.4,428.7 107.0,427.6 111.6,426.4 116.2,424.2 120.8,422.2 125.4,420.3 130.0,418.5 134.6,418.0 139.1,418.8 143.7,419.6 148.3,421.3 152.9,422.9 157.5,425.2 162.1,427.6 166.7,429.9"/>
<polyline stroke="#0a6ec4" points="61.1,449.6 65.7,450.5 70.3,450.8 74.9,450.5 79.5,448.6 84.0,444.5 88.6,439.8 93.2,435.1 97.8,431.3 102.4,428.9 107.0,429.4 111.6,430.8 116.2,433.8 120.8,437.0 125.4,438.9 130.0,439.1 134.6,438.1 139.1,435.4 143.7,431.7 148.3,430.0 152.9,430.3 157.5,432.1 162.1,434.9 166.7,437.5"/>
<polyline stroke="#ff4a00" points="61.1,461.0 65.7,461.1 70.3,462.6 74.9,465.6 79.5,463.5 84.0,457.9 88.6,453.9 93.2,451.3 97.8,449.2 102.4,447.3 107.0,445.7 111.6,444.4 116.2,445.7 120.8,447.1 125.4,447.3 130.0,447.3 134.6,448.3 139.1,448.8 143.7,447.7 148.3,446.5 152.9,446.5 157.5,447.0 162.1,450.0 166.7,453.9"/>
<polyline stroke="#ffaa00" points="61.1,437.9 65.7,434.0 70.3,435.6 74.9,434.8 79.5,433.0 84.0,433.5 88.6,432.0 93.2,428.5 97.8,425.1 102.4,423.5 107.0,426.0 111.6,429.1 116.2,431.8 120.8,432.1 125.4,429.5 130.0,426.1 134.6,423.5 139.1,422.0 143.7,421.5 148.3,422.7 152.9,424.1 157.5,426.1 162.1,428.0 166.7,430.1"/>
<polyline stroke="#8c1aa8" points="61.1,453.2 65.7,453.2 70.3,452.6 74.9,452.3 79.5,452.2 84.0,450.8 88.6,449.1 93.2,446.8 97.8,444.1 102.4,441.3 107.0,439.3 111.6,437.2 116.2,436.8 120.8,436.4 125.4,435.5 130.0,434.5 134.6,434.0 139.1,432.9 143.7,431.0 148.3,430.3 152.9,430.6 157.5,432.1 162.1,435.0 166.7,438.7"/>
<polyline stroke="#5db320" points="61.1,463.3 65.7,464.5 70.3,464.3 74.9,464.2 79.5,464.9 84.0,464.0 88.6,461.2 93.2,458.6 97.8,456.9 102.4,455.5 107.0,451.7 111.6,448.3 116.2,448.5 120.8,449.6 125.4,450.0 130.0,450.1 134.6,451.0 139.1,451.2 143.7,450.0 148.3,449.2 152.9,450.8 157.5,452.7 162.1,456.2 166.7,459.2"/>
<polyline stroke="#12b0ea" points="61.1,440.9 65.7,442.0 70.3,442.5 74.9,442.3 79.5,440.5 84.0,437.6 88.6,434.5 93.2,431.3 97.8,429.4 102.4,428.9 107.0,430.4 111.6,430.9 116.2,431.2 120.8,431.1 125.4,430.7 130.0,430.6 134.6,430.9 139.1,430.8 143.7,430.7 148.3,432.4 152.9,435.3 157.5,438.1 162.1,440.7 166.7,442.3"/>
<polyline stroke="#c8102e" points="61.1,456.2 65.7,458.2 70.3,459.7 74.9,461.0 79.5,461.6 84.0,458.8 88.6,454.5 93.2,449.4 97.8,444.6 102.4,441.1 107.0,440.0 111.6,439.2 116.2,439.9 120.8,439.9 125.4,438.8 130.0,437.6 134.6,437.1 139.1,436.6 143.7,436.4 148.3,437.6 152.9,439.6 157.5,440.9 162.1,442.2 166.7,443.1"/>
<polyline stroke="#0a6ec4" points="61.1,435.8 65.7,435.1 70.3,435.5 74.9,439.0 79.5,440.5 84.0,439.0 88.6,435.6 93.2,431.1 97.8,427.2 102.4,424.3 107.0,424.3 111.6,424.8 116.2,425.5 120.8,425.4 125.4,424.0 130.0,421.9 134.6,423.0 139.1,423.1 143.7,422.4 148.3,423.1 152.9,424.3 157.5,425.9 162.1,427.3 166.7,428.2"/>
<polyline stroke="#ff4a00" points="61.1,446.4 65.7,448.6 70.3,450.3 74.9,450.4 79.5,448.0 84.0,443.9 88.6,441.3 93.2,440.6 97.8,442.0 102.4,443.6 107.0,444.4 111.6,442.9 116.2,442.1 120.8,439.9 125.4,436.1 130.0,432.2 134.6,429.6 139.1,428.3 143.7,428.4 148.3,430.4 152.9,432.8 157.5,434.6 162.1,436.1 166.7,437.0"/>
<polyline stroke="#ffaa00" points="61.1,453.9 65.7,451.9 70.3,449.1 74.9,447.2 79.5,446.5 84.0,446.5 88.6,447.3 93.2,447.8 97.8,447.9 102.4,447.6 107.0,447.5 111.6,447.0 116.2,448.4 120.8,449.0 125.4,448.1 130.0,447.5 134.6,449.1 139.1,451.2 143.7,452.0 148.3,452.0 152.9,453.0 157.5,453.3 162.1,455.5 166.7,458.5"/>
<polyline stroke="#8c1aa8" points="61.1,435.6 65.7,436.4 70.3,437.5 74.9,438.7 79.5,438.8 84.0,438.2 88.6,437.3 93.2,436.1 97.8,435.9 102.4,437.1 107.0,439.7 111.6,440.4 116.2,440.5 120.8,438.6 125.4,435.6 130.0,433.3 134.6,431.9 139.1,429.6 143.7,425.8 148.3,423.1 152.9,424.6 157.5,427.4 162.1,428.0 166.7,428.8"/>
<polyline stroke="#5db320" points="61.1,448.7 65.7,449.2 70.3,449.2 74.9,448.8 79.5,448.2 84.0,447.2 88.6,446.8 93.2,446.2 97.8,444.9 102.4,442.7 107.0,441.0 111.6,439.7 116.2,440.5 120.8,441.0 125.4,440.5 130.0,439.7 134.6,439.7 139.1,438.9 143.7,436.9 148.3,435.7 152.9,435.6 157.5,436.1 162.1,437.8 166.7,440.4"/>
<polyline stroke="#12b0ea" points="61.1,460.8 65.7,460.9 70.3,460.9 74.9,462.1 79.5,464.3 84.0,464.1 88.6,461.6 93.2,459.5 97.8,455.6 102.4,451.8 107.0,448.4 111.6,445.3 116.2,444.8 120.8,444.7 125.4,445.0 130.0,446.5 134.6,449.6 139.1,451.4 143.7,450.3 148.3,448.3 152.9,448.1 157.5,448.4 162.1,450.8 166.7,454.5"/>
<polyline stroke="#c8102e" points="61.1,448.7 65.7,449.2 70.3,448.6 74.9,447.6 79.5,446.8 84.0,445.6 88.6,444.4 93.2,441.6 97.8,437.7 102.4,433.6 107.0,432.0 111.6,431.6 116.2,432.4 120.8,432.4 125.4,430.3 130.0,427.2 134.6,424.5 139.1,423.0 143.7,423.3 148.3,426.4 152.9,430.6 157.5,435.1 162.1,439.2 166.7,441.5"/>
<polyline stroke="#0a6ec4" points="61.1,457.1 65.7,458.3 70.3,457.9 74.9,456.9 79.5,455.6 84.0,453.0 88.6,451.0 93.2,449.9 97.8,449.7 102.4,450.0 107.0,450.1 111.6,448.9 116.2,449.3 120.8,448.8 125.4,447.1 130.0,445.3 134.6,444.8 139.1,444.0 143.7,442.7 148.3,443.0 152.9,445.6 157.5,448.3 162.1,451.1 166.7,452.2"/>
<polyline stroke="#ff4a00" points="61.1,434.6 65.7,434.5 70.3,435.3 74.9,435.5 79.5,433.7 84.0,431.3 88.6,429.8 93.2,429.3 97.8,428.4 102.4,426.6 107.0,425.2 111.6,423.5 116.2,423.8 120.8,424.6 125.4,424.7 130.0,424.7 134.6,424.6 139.1,423.7 143.7,421.5 148.3,424.1 152.9,428.8 157.5,434.0 162.1,438.9 166.7,442.0"/>
<polyline stroke="#ffaa00" points="61.1,446.4 65.7,445.0 70.3,443.4 74.9,442.4 79.5,441.5 84.0,440.2 88.6,438.8 93.2,437.1 97.8,436.2 102.4,436.0 107.0,436.8 111.6,436.3 116.2,436.3 120.8,435.7 125.4,434.6 130.0,433.9 134.6,434.2 139.1,435.1 143.7,436.3 148.3,438.6 152.9,441.6 157.5,443.6 162.1,445.5 166.7,447.4"/>
<polyline stroke="#8c1aa8" points="61.1,462.8 65.7,463.1 70.3,462.0 74.9,460.4 79.5,458.9 84.0,456.4 88.6,455.1 93.2,454.3 97.8,453.3 102.4,451.8 107.0,449.9 111.6,447.7 116.2,448.5 120.8,449.5 125.4,449.5 130.0,449.2 134.6,449.6 139.1,449.2 143.7,447.4 148.3,445.8 152.9,445.9 157.5,446.3 162.1,448.5 166.7,451.1"/>
<polyline stroke="#5db320" points="61.1,442.0 65.7,441.4 70.3,440.2 74.9,439.1 79.5,437.3 84.0,435.5 88.6,434.2 93.2,432.9 97.8,431.6 102.4,429.4 107.0,428.5 111.6,428.0 116.2,429.1 120.8,430.4 125.4,430.7 130.0,430.1 134.6,429.1 139.1,427.5 143.7,425.5 148.3,425.3 152.9,425.9 157.5,427.5 162.1,429.6 166.7,431.9"/>
<polyline stroke="#12b0ea" points="61.1,455.8 65.7,459.3 70.3,462.3 74.9,464.0 79.5,463.7 84.0,459.1 88.6,453.6 93.2,448.2 97.8,443.8 102.4,440.5 107.0,438.9 111.6,437.9 116.2,438.9 120.8,440.5 125.4,441.8 130.0,443.1 134.6,444.9 139.1,445.9 143.7,445.5 148.3,445.2 152.9,445.4 157.5,444.1 162.1,442.8 166.7,442.3"/>
<polyline stroke="#c8102e" points="61.1,456.8 65.7,457.2 70.3,457.6 74.9,459.2 79.5,462.0 84.0,462.9 88.6,461.6 93.2,459.0 97.8,457.5 102.4,455.0 107.0,451.3 111.6,447.8 116.2,447.8 120.8,448.7 125.4,449.3 130.0,450.1 134.6,452.2 139.1,453.9 143.7,453.1 148.3,451.5 152.9,452.1 157.5,453.2 162.1,456.6 166.7,460.6"/>
<polyline stroke="#0a6ec4" points="61.1,445.0 65.7,442.1 70.3,440.2 74.9,439.4 79.5,438.8 84.0,438.7 88.6,439.5 93.2,440.6 97.8,441.6 102.4,441.6 107.0,440.6 111.6,438.4 116.2,437.4 120.8,436.4 125.4,434.9 130.0,434.1 134.6,434.5 139.1,435.5 143.7,436.3 148.3,438.0 152.9,440.4 157.5,442.3 162.1,443.9 166.7,444.4"/>
<polyline stroke="#ff4a00" points="61.1,462.5 65.7,465.0 70.3,465.2 74.9,463.3 79.5,460.2 84.0,455.2 88.6,451.5 93.2,449.3 97.8,448.2 102.4,447.2 107.0,445.7 111.6,443.4 116.2,443.0 120.8,442.5 125.4,441.6 130.0,441.1 134.6,441.7 139.1,441.7 143.7,440.5 148.3,440.4 152.9,442.4 157.5,445.2 162.1,449.2 166.7,452.8"/>
<polyline stroke="#ffaa00" points="61.1,440.0 65.7,440.8 70.3,440.7 74.9,439.4 79.5,436.8 84.0,434.7 88.6,434.1 93.2,434.1 97.8,433.9 102.4,432.1 107.0,430.4 111.6,428.6 116.2,428.3 120.8,428.7 125.4,429.1 130.0,429.3 134.6,429.8 139.1,430.0 143.7,428.8 148.3,427.6 152.9,426.7 157.5,427.3 162.1,429.6 166.7,432.6"/>
<polyline stroke="#8c1aa8" points="61.1,457.9 65.7,456.0 70.3,454.1 74.9,452.9 79.5,451.8 84.0,449.3 88.6,446.3 93.2,442.7 97.8,439.4 102.4,437.2 107.0,437.5 111.6,438.6 116.2,441.2 120.8,443.0 125.4,442.5 130.0,440.7 134.6,438.9 139.1,436.6 143.7,434.0 148.3,433.1 152.9,433.5 157.5,434.6 162.1,436.6 166.7,439.2"/>
<polyline stroke="#5db320" points="61.1,460.8 65.7,460.9 70.3,461.7 74.9,463.9 79.5,466.5 84.0,463.2 88.6,461.9 93.2,458.2 97.8,454.4 102.4,451.9 107.0,450.5 111.6,449.4 116.2,450.9 120.8,451.8 125.4,450.9 130.0,449.9 134.6,450.4 139.1,451.0 143.7,450.5 148.3,450.2 152.9,451.8 157.5,453.6 162.1,456.8 166.7,459.4"/>
<polyline stroke="#12b0ea" points="61.1,434.1 65.7,435.0 70.3,434.9 74.9,434.3 79.5,432.6 84.0,431.4 88.6,430.7 93.2,429.9 97.8,429.2 102.4,428.4 107.0,428.7 111.6,428.6 116.2,429.4 120.8,431.0 125.4,432.8 130.0,434.6 134.6,436.5 139.1,436.9 143.7,435.1 148.3,433.2 152.9,432.1 157.5,432.2 162.1,434.0 166.7,437.0"/>
<polyline stroke="#c8102e" points="61.1,454.6 65.7,454.3 70.3,453.1 74.9,452.3 79.5,451.9 84.0,450.3 88.6,447.9 93.2,444.6 97.8,441.5 102.4,439.8 107.0,440.9 111.6,442.8 116.2,446.6 120.8,449.3 125.4,449.0 130.0,447.0 134.6,445.5 139.1,443.9 143.7,442.6 148.3,442.9 152.9,444.7 157.5,446.0 162.1,448.2 166.7,450.7"/>
<polyline stroke="#0a6ec4" points="61.1,434.3 65.7,434.4 70.3,435.3 74.9,436.6 79.5,436.7 84.0,436.2 88.6,435.4 93.2,433.5 97.8,430.6 102.4,426.6 107.0,424.2 111.6,423.1 116.2,423.5 120.8,422.9 125.4,423.9 130.0,425.3 134.6,426.8 139.1,427.3 143.7,426.3 148.3,425.9 152.9,426.1 157.5,427.5 162.1,429.8 166.7,432.0"/>
<polyline stroke="#ff4a00" points="61.1,452.8 65.7,452.5 70.3,451.2 74.9,450.1 79.5,449.0 84.0,446.8 88.6,444.4 93.2,441.4 97.8,438.4 102.4,435.6 107.0,434.1 111.6,432.6 116.2,432.1 120.8,431.3 125.4,430.4 130.0,429.9 134.6,430.4 139.1,431.1 143.7,431.4 148.3,432.3 152.9,433.7 157.5,435.3 162.1,437.7 166.7,440.3"/>
<polyline stroke="#ffaa00" points="61.1,463.0 65.7,464.2 70.3,466.0 74.9,463.4 79.5,460.5 84.0,456.7 88.6,454.6 93.2,453.3 97.8,451.8 102.4,449.7 107.0,447.3 111.6,444.9 116.2,445.2 120.8,445.8 125.4,445.7 130.0,445.9 134.6,448.0 139.1,450.0 143.7,450.5 148.3,450.2 152.9,451.1 157.5,452.3 162.1,455.8 166.7,460.1"/>
<polyline stroke="#8c1aa8" points="61.1,436.2 65.7,436.3 70.3,437.5 74.9,438.6 79.5,438.3 84.0,437.5 88.6,437.2 93.2,436.6 97.8,435.6 102.4,433.9 107.0,432.9 111.6,431.7 116.2,431.4 120.8,430.7 125.4,429.0 130.0,427.4 134.6,426.6 139.1,426.8 143.7,427.6 148.3,429.6 152.9,431.5 157.5,433.3 162.1,435.2 166.7,436.8"/>
<polyline stroke="#5db320" points="61.1,461.3 65.7,462.9 70.3,462.9 74.9,462.0 79.5,460.1 84.0,455.3 88.6,450.4 93.2,445.9 97.8,442.5 102.4,440.0 107.0,438.8 111.6,438.0 116.2,439.5 120.8,441.5 125.4,442.9 130.0,443.3 134.6,443.2 139.1,440.8 143.7,436.4 148.3,433.1 152.9,431.8 157.5,431.6 162.1,432.0 166.7,431.8"/>
<polyline stroke="#12b0ea" points="61.1,464.0 65.7,464.4 70.3,464.4 74.9,464.6 79.5,463.9 84.0,459.7 88.6,455.4 93.2,452.7 97.8,451.9 102.4,451.9 107.0,451.5 111.6,450.3 116.2,452.1 120.8,451.4 125.4,449.4 130.0,448.7 134.6,451.2 139.1,453.7 143.7,450.2 148.3,448.2 152.9,450.1 157.5,453.9 162.1,457.3 166.7,457.6"/>
<polyline stroke="#c8102e" points="61.1,445.8 65.7,447.2 70.3,448.3 74.9,449.7 79.5,450.6 84.0,449.6 88.6,447.4 93.2,444.1 97.8,440.8 102.4,437.9 107.0,436.5 111.6,435.5 116.2,436.4 120.8,437.8 125.4,438.4 130.0,438.8 134.6,440.0 139.1,440.8 143.7,439.7 148.3,437.9 152.9,436.4 157.5,435.3 162.1,435.8 166.7,437.3"/>
<polyline stroke="#0a6ec4" points="61.1,459.2 65.7,456.0 70.3,452.8 74.9,451.1 79.5,451.0 84.0,451.0 88.6,451.3 93.2,451.0 97.8,449.5 102.4,446.9 107.0,444.3 111.6,442.2 116.2,442.9 120.8,443.6 125.4,443.1 130.0,442.5 134.6,443.4 139.1,445.1 143.7,446.4 148.3,447.4 152.9,448.3 157.5,447.1 162.1,445.6 166.7,444.0"/>
<polyline stroke="#ff4a00" points="61.1,440.9 65.7,441.0 70.3,440.6 74.9,440.0 79.5,438.2 84.0,435.6 88.6,432.6 93.2,428.9 97.8,426.0 102.4,424.2 107.0,425.4 111.6,426.8 116.2,428.6 120.8,430.1 125.4,430.4 130.0,429.7 134.6,428.7 139.1,427.5 143.7,426.9 148.3,428.7 152.9,432.0 157.5,435.7 162.1,438.9 166.7,440.3"/>
<polyline stroke="#ffaa00" points="61.1,447.2 65.7,447.5 70.3,446.4 74.9,444.5 79.5,441.9 84.0,439.4 88.6,438.0 93.2,436.8 97.8,436.0 102.4,434.9 107.0,434.3 111.6,433.0 116.2,432.4 120.8,432.1 125.4,432.0 130.0,432.5 134.6,433.8 139.1,434.9 143.7,435.4 148.3,436.6 152.9,438.4 157.5,439.6 162.1,440.8 166.7,441.9"/>
<polyline stroke="#8c1aa8" points="61.1,463.1 65.7,465.4 70.3,464.9 74.9,463.3 79.5,462.1 84.0,459.9 88.6,458.2 93.2,455.7 97.8,452.3 102.4,448.6 107.0,445.9 111.6,444.2 116.2,446.0 120.8,449.3 125.4,452.4 130.0,449.5 134.6,448.9 139.1,449.0 143.7,448.4 148.3,447.8 152.9,448.7 157.5,449.8 162.1,452.5 166.7,454.7"/>
<polyline stroke="#5db320" points="61.1,442.9 65.7,442.3 70.3,441.4 74.9,441.0 79.5,440.9 84.0,441.1 88.6,440.6 93.2,438.1 97.8,434.0 102.4,429.4 107.0,427.1 111.6,425.9 116.2,425.5 120.8,425.1 125.4,424.8 130.0,425.2 134.6,426.7 139.1,428.4 143.7,428.8 148.3,428.6 152.9,427.7 157.5,427.6 162.1,428.9 166.7,431.5"/>
<polyline stroke="#12b0ea" points="61.1,459.1 65.7,461.5 70.3,461.9 74.9,460.8 79.5,458.7 84.0,454.4 88.6,449.8 93.2,445.1 97.8,440.9 102.4,438.0 107.0,437.8 111.6,438.5 116.2,441.7 120.8,445.1 125.4,446.9 130.0,447.3 134.6,447.6 139.1,446.6 143.7,444.1 148.3,442.0 152.9,441.4 157.5,441.5 162.1,443.3 166.7,445.8"/>
<polyline stroke="#c8102e" points="61.1,436.1 65.7,434.8 70.3,433.7 74.9,433.9 79.5,432.5 84.0,430.8 88.6,429.5 93.2,427.9 97.8,426.6 102.4,425.2 107.0,425.0 111.6,423.6 116.2,424.7 120.8,427.4 125.4,428.8 130.0,429.0 134.6,429.2 139.1,429.5 143.7,429.5 148.3,430.2 152.9,430.7 157.5,431.1 162.1,431.6 166.7,432.1"/>
<polyline stroke="#0a6ec4" points="61.1,443.1 65.7,443.5 70.3,443.1 74.9,442.7 79.5,442.0 84.0,440.4 88.6,437.9 93.2,433.8 97.8,429.2 102.4,425.6 107.0,425.3 111.6,426.4 116.2,428.3 120.8,429.7 125.4,429.7 130.0,428.9 134.6,428.4 139.1,428.1 143.7,428.3 148.3,430.1 152.9,433.1 157.5,437.3 162.1,443.0 166.7,448.6"/>
<polyline stroke="#ff4a00" points="61.1,455.0 65.7,453.4 70.3,452.0 74.9,451.6 79.5,452.0 84.0,452.1 88.6,452.7 93.2,452.6 97.8,450.8 102.4,446.9 107.0,442.4 111.6,438.7 116.2,438.3 120.8,439.3 125.4,440.5 130.0,442.2 134.6,445.5 139.1,449.0 143.7,451.1 148.3,452.3 152.9,454.3 157.5,455.7 162.1,458.5 166.7,461.0"/>
<polyline stroke="#ffaa00" points="61.1,435.2 65.7,434.0 70.3,435.4 74.9,437.6 79.5,438.3 84.0,437.1 88.6,434.5 93.2,431.0 97.8,428.2 102.4,426.3 107.0,426.5 111.6,426.4 116.2,426.4 120.8,426.7 125.4,427.1 130.0,427.7 134.6,428.5 139.1,428.8 143.7,428.1 148.3,427.9 152.9,427.7 157.5,427.7 162.1,428.4 166.7,429.2"/>
<polyline stroke="#8c1aa8" points="61.1,453.0 65.7,451.9 70.3,450.0 74.9,448.7 79.5,447.6 84.0,445.6 88.6,443.0 93.2,439.7 97.8,437.0 102.4,435.3 107.0,435.8 111.6,436.4 116.2,438.5 120.8,440.4 125.4,441.6 130.0,442.8 134.6,444.7 139.1,445.1 143.7,443.1 148.3,441.1 152.9,440.9 157.5,441.7 162.1,443.8 166.7,445.6"/>
<polyline stroke="#5db320" points="61.1,459.0 65.7,458.7 70.3,458.4 74.9,459.4 79.5,461.3 84.0,461.2 88.6,459.9 93.2,457.6 97.8,455.2 102.4,453.9 107.0,453.4 111.6,448.7 116.2,447.5 120.8,448.0 125.4,449.9 130.0,450.9 134.6,447.4 139.1,444.7 143.7,443.1 148.3,443.7 152.9,446.1 157.5,448.4 162.1,451.3 166.7,454.3"/>
<polyline stroke="#12b0ea" points="61.1,453.2 65.7,456.7 70.3,459.0 74.9,459.9 79.5,459.1 84.0,455.1 88.6,450.2 93.2,444.7 97.8,439.1 102.4,433.8 107.0,430.6 111.6,428.5 116.2,428.1 120.8,428.7 125.4,430.4 130.0,432.7 134.6,435.1 139.1,435.9 143.7,434.2 148.3,432.3 152.9,430.6 157.5,429.5 162.1,429.5 166.7,430.9"/>
<polyline stroke="#c8102e" points="61.1,449.5 65.7,448.6 70.3,447.6 74.9,447.1 79.5,446.8 84.0,446.2 88.6,446.3 93.2,446.3 97.8,446.3 102.4,446.2 107.0,446.0 111.6,444.3 116.2,443.6 120.8,441.9 125.4,439.7 130.0,438.6 134.6,439.4 139.1,440.3 143.7,440.3 148.3,440.6 152.9,442.3 157.5,444.9 162.1,449.1 166.7,453.3"/>
<polyline stroke="#0a6ec4" points="61.1,435.3 65.7,434.4 70.3,435.3 74.9,437.3 79.5,438.4 84.0,438.2 88.6,436.8 93.2,433.7 97.8,430.1 102.4,426.4 107.0,424.8 111.6,423.6 116.2,423.3 120.8,424.3 125.4,425.2 130.0,426.0 134.6,426.6 139.1,426.1 143.7,424.4 148.3,423.5 152.9,423.0 157.5,424.9 162.1,426.4 166.7,427.6"/>
<polyline stroke="#ff4a00" points="61.1,444.0 65.7,445.5 70.3,446.0 74.9,445.7 79.5,444.9 84.0,443.9 88.6,443.4 93.2,442.4 97.8,440.8 102.4,438.1 107.0,435.4 111.6,432.5 116.2,431.0 120.8,430.7 125.4,431.2 130.0,432.7 134.6,435.3 139.1,437.9 143.7,439.8 148.3,441.9 152.9,444.5 157.5,446.5 162.1,449.0 166.7,450.8"/>
<polyline stroke="#ffaa00" points="61.1,461.9 65.7,461.0 70.3,459.0 74.9,457.0 79.5,455.7 84.0,454.1 88.6,453.6 93.2,453.7 97.8,453.9 102.4,453.7 107.0,452.8 111.6,451.0 116.2,450.9 120.8,451.4 125.4,452.5 130.0,448.9 134.6,445.3 139.1,441.7 143.7,439.0 148.3,439.3 152.9,442.5 157.5,446.9 162.1,452.4 166.7,457.2"/>
<polyline stroke="#8c1aa8" points="61.1,435.3 65.7,433.9 70.3,434.4 74.9,433.8 79.5,432.8 84.0,432.0 88.6,430.3 93.2,427.7 97.8,426.1 102.4,425.6 107.0,427.4 111.6,428.6 116.2,430.1 120.8,431.5 125.4,432.7 130.0,433.6 134.6,434.3 139.1,433.4 143.7,430.7 148.3,428.5 152.9,427.4 157.5,427.6 162.1,428.8 166.7,430.0"/>
<polyline stroke="#5db320" points="61.1,446.4 65.7,446.2 70.3,447.2 74.9,449.3 79.5,451.5 84.0,451.9 88.6,451.3 93.2,449.5 97.8,447.3 102.4,445.3 107.0,444.0 111.6,442.5 116.2,442.6 120.8,441.9 125.4,440.2 130.0,439.5 134.6,440.9 139.1,442.6 143.7,442.6 148.3,441.8 152.9,441.4 157.5,440.9 162.1,441.6 166.7,443.3"/>
<polyline stroke="#12b0ea" points="61.1,462.3 65.7,463.0 70.3,462.6 74.9,462.1 79.5,462.0 84.0,460.1 88.6,458.8 93.2,457.9 97.8,457.3 102.4,455.2 107.0,452.6 111.6,451.1 116.2,450.2 120.8,447.7 125.4,444.2 130.0,441.7 134.6,441.8 139.1,442.8 143.7,443.3 148.3,444.4 152.9,447.0 157.5,449.8 162.1,453.7 166.7,457.3"/>
<polyline stroke="#c8102e" points="61.1,445.2 65.7,445.7 70.3,446.1 74.9,446.8 79.5,446.7 84.0,444.8 88.6,441.3 93.2,436.1 97.8,430.5 102.4,426.1 107.0,425.3 111.6,425.6 116.2,426.1 120.8,426.0 125.4,424.9 130.0,423.7 134.6,423.2 139.1,424.2 143.7,426.8 148.3,431.5 152.9,436.7 157.5,441.4 162.1,445.8 166.7,448.9"/>
<polyline stroke="#0a6ec4" points="61.1,452.2 65.7,451.9 70.3,452.2 74.9,453.0 79.5,453.7 84.0,452.7 88.6,451.0 93.2,448.4 97.8,445.5 102.4,442.9 107.0,441.5 111.6,440.5 116.2,441.4 120.8,442.3 125.4,442.5 130.0,442.4 134.6,442.9 139.1,442.7 143.7,442.0 148.3,442.4 152.9,444.4 157.5,446.6 162.1,450.2 166.7,454.5"/>
<polyline stroke="#ff4a00" points="61.1,434.7 65.7,435.9 70.3,437.7 74.9,438.4 79.5,437.2 84.0,434.8 88.6,432.0 93.2,428.2 97.8,425.7 102.4,425.1 107.0,425.9 111.6,425.9 116.2,425.7 120.8,424.8 125.4,423.6 130.0,423.2 134.6,424.3 139.1,426.6 143.7,428.6 148.3,429.8 152.9,429.1 157.5,427.0 162.1,427.0 166.7,431.6"/>
</g>
<path d="M56.5 482.3v-1.1M56.5 377.5v1.1M102.4 482.3v-1.1M102.4 377.5v1.1M148.3 482.3v-1.1M148.3 377.5v1.1M56.5 482.3h1.1M166.7 482.3h-1.1M56.5 447.4h1.1M166.7 447.4h-1.1M56.5 412.4h1.1M166.7 412.4h-1.1M56.5 377.5h1.1M166.7 377.5h-1.1" stroke="#262626" stroke-width="1" fill="none"/>
<text class="k" x="56.5" y="498.3" font-size="12.3" text-anchor="middle" fill="#262626">0</text>
<text class="k" x="102.4" y="498.3" font-size="12.3" text-anchor="middle" fill="#262626">10</text>
<text class="k" x="148.3" y="498.3" font-size="12.3" text-anchor="middle" fill="#262626">20</text>
<text class="k" x="52.0" y="487.5" font-size="12.3" text-anchor="end" fill="#262626">1000</text>
<text class="k" x="52.0" y="452.6" font-size="12.3" text-anchor="end" fill="#262626">1500</text>
<text class="k" x="52.0" y="417.6" font-size="12.3" text-anchor="end" fill="#262626">2000</text>
<text class="k" x="52.0" y="382.7" font-size="12.3" text-anchor="end" fill="#262626">2500</text>
<text class="t" x="30.4" y="371.6" font-size="12.6" textLength="162.4" lengthAdjust="spacing" fill="#000">typical daily 1 frequency65</text>
<text x="81.5" y="519.5" font-size="16.5" textLength="60.2" lengthAdjust="spacingAndGlyphs" fill="#262626">time (h)</text>
<text transform="translate(11.5 429.9) rotate(-90)" x="0" y="6.3" font-size="17.4" text-anchor="middle" fill="#262626">power (kW)</text>
<rect x="232.9" y="377.5" width="110.2" height="104.8" fill="none" stroke="#262626" stroke-width="1"/>
<clipPath id="c7"><rect x="230.9" y="375.5" width="114.2" height="108.8"/></clipPath>
<g clip-path="url(#c7)" fill="none" stroke-width="2.6" stroke-linejoin="round" stroke-linecap="butt">
<polyline stroke="#0a6ec4" points="237.5,468.3 242.1,470.1 246.7,471.8 251.3,470.1 255.9,468.3 260.4,464.8 265.0,461.3 269.6,456.1 274.2,450.9 278.8,441.5 283.4,430.9 288.0,419.4 292.6,410.0 297.2,402.8 301.8,400.6 306.4,400.1 311.0,403.3 315.6,413.7 320.1,421.7 324.7,426.4 329.3,428.2 333.9,429.9 338.5,431.6 343.1,433.4"/>
<polyline stroke="#ff4a00" points="237.5,441.3 242.1,443.5 246.7,445.1 251.3,443.9 255.9,440.8 260.4,436.3 265.0,430.5 269.6,424.8 274.2,425.0 278.8,426.1 283.4,428.7 288.0,433.0 292.6,436.5 297.2,438.4 301.8,440.1 306.4,439.2 311.0,437.1 315.6,435.7 320.1,433.6 324.7,432.2 329.3,431.4 333.9,432.9 338.5,437.3 343.1,441.7"/>
<polyline stroke="#ffaa00" points="237.5,422.1 242.1,422.1 246.7,422.1 251.3,419.8 255.9,417.2 260.4,414.1 265.0,409.8 269.6,405.9 274.2,409.3 278.8,414.1 283.4,419.4 288.0,422.9 292.6,426.4 297.2,428.2 301.8,429.9 306.4,428.9 311.0,427.8 315.6,425.4 320.1,422.9 324.7,421.9 329.3,420.8 333.9,422.7 338.5,424.5 343.1,426.4"/>
<polyline stroke="#8c1aa8" points="237.5,428.5 242.1,427.4 246.7,426.6 251.3,424.6 255.9,422.6 260.4,419.9 265.0,415.7 269.6,411.2 274.2,414.0 278.8,417.4 283.4,421.5 288.0,425.2 292.6,427.9 297.2,429.2 301.8,429.6 306.4,429.8 311.0,431.5 315.6,432.4 320.1,430.7 324.7,428.0 329.3,424.5 333.9,422.1 338.5,422.0 343.1,422.1"/>
<polyline stroke="#5db320" points="237.5,441.7 242.1,444.1 246.7,447.6 251.3,449.7 255.9,449.5 260.4,446.3 265.0,440.2 269.6,432.9 274.2,430.0 278.8,428.7 283.4,430.0 288.0,433.9 292.6,437.6 297.2,440.6 301.8,444.3 306.4,447.1 311.0,447.9 315.6,448.8 320.1,448.1 324.7,446.6 329.3,444.2 333.9,443.5 338.5,445.5 343.1,447.5"/>
<polyline stroke="#12b0ea" points="237.5,462.9 242.1,461.8 246.7,461.8 251.3,462.5 255.9,462.1 260.4,460.1 265.0,456.3 269.6,450.9 274.2,446.6 278.8,443.2 283.4,443.4 288.0,450.5 292.6,458.0 297.2,463.5 301.8,468.9 306.4,473.2 311.0,470.3 315.6,466.7 320.1,462.4 324.7,458.7 329.3,456.4 333.9,458.9 338.5,468.0 343.1,476.2"/>
<polyline stroke="#c8102e" points="237.5,439.6 242.1,439.6 246.7,439.5 251.3,437.2 255.9,434.4 260.4,430.8 265.0,426.0 269.6,420.8 274.2,421.8 278.8,423.6 283.4,426.8 288.0,431.7 292.6,436.4 297.2,440.0 301.8,443.0 306.4,442.9 311.0,439.8 315.6,436.6 320.1,432.3 324.7,429.1 329.3,427.0 333.9,427.7 338.5,431.7 343.1,436.4"/>
<polyline stroke="#0a6ec4" points="237.5,454.4 242.1,456.1 246.7,457.8 251.3,457.8 255.9,457.8 260.4,454.4 265.0,450.9 269.6,447.4 274.2,443.9 278.8,442.1 283.4,440.4 288.0,438.6 292.6,436.9 297.2,437.2 301.8,437.6 306.4,433.6 311.0,419.4 315.6,404.8 320.1,393.0 324.7,392.7 329.3,392.5 333.9,393.0 338.5,400.5 343.1,408.2"/>
<polyline stroke="#ff4a00" points="237.5,428.9 242.1,428.3 246.7,427.3 251.3,423.8 255.9,422.0 260.4,419.2 265.0,414.2 269.6,408.4 274.2,410.4 278.8,413.7 283.4,418.1 288.0,421.6 292.6,425.2 297.2,428.5 301.8,431.6 306.4,431.5 311.0,430.5 315.6,429.1 320.1,425.8 324.7,422.4 329.3,419.3 333.9,418.3 338.5,420.1 343.1,422.6"/>
<polyline stroke="#ffaa00" points="237.5,442.0 242.1,441.9 246.7,442.9 251.3,443.0 255.9,442.3 260.4,439.9 265.0,435.2 269.6,429.2 274.2,427.4 278.8,426.7 283.4,428.1 288.0,431.6 292.6,435.0 297.2,437.5 301.8,440.0 306.4,440.0 311.0,438.3 315.6,437.1 320.1,435.1 324.7,433.8 329.3,432.8 333.9,433.8 338.5,438.0 343.1,442.9"/>
<polyline stroke="#8c1aa8" points="237.5,464.3 242.1,465.2 246.7,465.9 251.3,465.9 255.9,463.2 260.4,458.8 265.0,453.2 269.6,447.5 274.2,444.2 278.8,441.9 283.4,442.7 288.0,449.5 292.6,455.9 297.2,459.6 301.8,462.4 306.4,463.7 311.0,459.6 315.6,456.2 320.1,452.8 324.7,450.3 329.3,448.5 333.9,449.8 338.5,455.2 343.1,461.8"/>
<polyline stroke="#5db320" points="237.5,437.9 242.1,437.1 246.7,436.8 251.3,434.6 255.9,432.1 260.4,428.6 265.0,423.3 269.6,417.7 274.2,419.2 278.8,421.9 283.4,425.9 288.0,430.9 292.6,435.0 297.2,437.4 301.8,439.0 306.4,438.0 311.0,435.9 315.6,434.4 320.1,431.9 324.7,429.6 329.3,427.1 333.9,426.1 338.5,427.5 343.1,428.9"/>
<polyline stroke="#12b0ea" points="237.5,456.1 242.1,458.6 246.7,460.7 251.3,461.0 255.9,457.3 260.4,451.1 265.0,443.4 269.6,436.2 274.2,433.9 278.8,433.2 283.4,435.2 288.0,441.3 292.6,447.5 297.2,452.0 301.8,456.0 306.4,458.0 311.0,454.8 315.6,451.2 320.1,446.8 324.7,442.9 329.3,440.2 333.9,441.3 338.5,447.4 343.1,455.5"/>
<polyline stroke="#c8102e" points="237.5,443.9 242.1,445.0 246.7,446.2 251.3,447.4 255.9,443.9 260.4,440.4 265.0,436.9 269.6,435.1 274.2,433.4 278.8,435.1 283.4,436.9 288.0,440.4 292.6,443.9 297.2,445.6 301.8,447.4 306.4,442.1 311.0,436.9 315.6,431.6 320.1,426.4 324.7,422.8 329.3,419.1 333.9,417.6 338.5,419.4 343.1,422.9"/>
<polyline stroke="#0a6ec4" points="237.5,447.4 242.1,448.5 246.7,449.7 251.3,450.9 255.9,447.4 260.4,443.9 265.0,440.4 269.6,436.9 274.2,433.4 278.8,435.1 283.4,436.9 288.0,438.6 292.6,440.4 297.2,442.1 301.8,443.9 306.4,439.2 311.0,429.6 315.6,417.1 320.1,409.4 324.7,409.4 329.3,409.4 333.9,410.7 338.5,413.8 343.1,416.9"/>
<polyline stroke="#ff4a00" points="237.5,456.6 242.1,459.5 246.7,462.0 251.3,463.1 255.9,461.3 260.4,457.3 265.0,451.6 269.6,445.2 274.2,441.4 278.8,438.7 283.4,439.1 288.0,444.2 292.6,448.6 297.2,451.0 301.8,453.8 306.4,456.1 311.0,455.5 315.6,455.5 320.1,454.7 324.7,453.8 329.3,452.6 333.9,454.1 338.5,459.9 343.1,467.0"/>
<polyline stroke="#ffaa00" points="237.5,427.8 242.1,429.2 246.7,431.0 251.3,429.6 255.9,426.8 260.4,422.1 265.0,415.8 269.6,409.7 274.2,412.1 278.8,415.6 283.4,419.6 288.0,422.7 292.6,425.0 297.2,426.5 301.8,430.1 306.4,430.7 311.0,430.7 315.6,430.3 320.1,428.2 324.7,426.2 329.3,424.7 333.9,425.2 338.5,428.5 343.1,431.5"/>
<polyline stroke="#8c1aa8" points="237.5,448.2 242.1,449.1 246.7,450.5 251.3,450.6 255.9,448.8 260.4,444.9 265.0,438.7 269.6,431.9 274.2,430.0 278.8,429.6 283.4,431.8 288.0,437.1 292.6,442.5 297.2,446.7 301.8,451.2 306.4,454.4 311.0,453.5 315.6,451.5 320.1,447.4 324.7,442.5 329.3,437.5 333.9,435.5 338.5,438.1 343.1,443.0"/>
<polyline stroke="#5db320" points="237.5,472.2 242.1,475.5 246.7,478.2 251.3,477.2 255.9,470.8 260.4,461.1 265.0,450.0 269.6,439.7 274.2,434.9 278.8,433.2 283.4,435.0 288.0,441.5 292.6,448.8 297.2,455.3 301.8,462.2 306.4,468.2 311.0,467.7 315.6,465.8 320.1,462.6 324.7,459.2 329.3,455.9 333.9,455.8 338.5,460.1 343.1,465.5"/>
<polyline stroke="#12b0ea" points="237.5,437.1 242.1,436.4 246.7,435.3 251.3,431.3 255.9,426.3 260.4,420.4 265.0,413.5 269.6,407.8 274.2,411.6 278.8,416.8 283.4,422.4 288.0,428.1 292.6,433.2 297.2,437.1 301.8,440.7 306.4,441.9 311.0,441.1 315.6,440.0 320.1,437.0 324.7,433.2 329.3,429.3 333.9,427.6 338.5,429.4 343.1,432.2"/>
<polyline stroke="#c8102e" points="237.5,458.3 242.1,459.6 246.7,460.2 251.3,459.2 255.9,455.3 260.4,449.4 265.0,442.1 269.6,434.7 274.2,432.3 278.8,431.5 283.4,433.3 288.0,438.7 292.6,443.9 297.2,447.7 301.8,451.4 306.4,453.3 311.0,451.3 315.6,448.9 320.1,445.1 324.7,441.1 329.3,437.5 333.9,436.7 338.5,440.0 343.1,445.0"/>
<polyline stroke="#0a6ec4" points="237.5,466.8 242.1,468.6 246.7,471.5 251.3,475.3 255.9,476.2 260.4,474.3 265.0,467.0 269.6,458.5 274.2,452.2 278.8,447.7 283.4,447.3 288.0,454.3 292.6,461.1 297.2,465.6 301.8,470.4 306.4,474.7 311.0,471.4 315.6,467.9 320.1,463.8 324.7,459.8 329.3,456.3 333.9,456.4 338.5,461.9 343.1,469.9"/>
<polyline stroke="#ff4a00" points="237.5,434.6 242.1,436.3 246.7,438.2 251.3,437.7 255.9,435.8 260.4,431.9 265.0,425.7 269.6,418.8 274.2,418.6 278.8,420.1 283.4,423.4 288.0,427.8 292.6,432.5 297.2,436.8 301.8,441.3 306.4,443.7 311.0,443.8 315.6,443.5 320.1,441.5 324.7,439.1 329.3,436.4 333.9,436.0 338.5,438.9 343.1,442.3"/>
<polyline stroke="#ffaa00" points="237.5,465.6 242.1,470.1 246.7,474.5 251.3,477.5 255.9,474.8 260.4,467.7 265.0,458.0 269.6,447.4 274.2,440.3 278.8,435.9 283.4,435.7 288.0,440.2 292.6,445.0 297.2,449.0 301.8,453.8 306.4,458.0 311.0,457.9 315.6,457.1 320.1,454.8 324.7,452.1 329.3,449.6 333.9,450.3 338.5,455.5 343.1,461.8"/>
<polyline stroke="#8c1aa8" points="237.5,431.5 242.1,433.1 246.7,434.8 251.3,434.0 255.9,432.1 260.4,428.4 265.0,422.3 269.6,415.1 274.2,414.8 278.8,415.8 283.4,418.4 288.0,422.1 292.6,425.5 297.2,427.3 301.8,429.5 306.4,431.1 311.0,432.6 315.6,433.6 320.1,432.7 324.7,431.3 329.3,429.3 333.9,428.5 338.5,429.6 343.1,430.0"/>
<polyline stroke="#5db320" points="237.5,449.6 242.1,452.3 246.7,455.0 251.3,455.7 255.9,452.6 260.4,446.3 265.0,438.2 269.6,430.6 274.2,429.2 278.8,429.9 283.4,432.9 288.0,439.0 292.6,444.9 297.2,449.1 301.8,453.2 306.4,455.7 311.0,454.2 315.6,452.5 320.1,449.3 324.7,445.5 329.3,441.5 333.9,440.0 338.5,442.5 343.1,446.8"/>
<polyline stroke="#12b0ea" points="237.5,471.9 242.1,474.1 246.7,475.5 251.3,475.8 255.9,471.7 260.4,465.2 265.0,457.9 269.6,450.8 274.2,446.2 278.8,442.8 283.4,442.8 288.0,448.8 292.6,454.5 297.2,458.1 301.8,461.9 306.4,465.5 311.0,464.3 315.6,463.5 320.1,462.6 324.7,462.0 329.3,461.5 333.9,463.9 338.5,468.4 343.1,476.1"/>
<polyline stroke="#c8102e" points="237.5,446.2 242.1,449.0 246.7,451.1 251.3,450.4 255.9,446.7 260.4,440.9 265.0,433.7 269.6,426.7 274.2,425.5 278.8,425.8 283.4,427.9 288.0,431.6 292.6,434.8 297.2,436.7 301.8,438.7 306.4,438.5 311.0,437.3 315.6,436.6 320.1,434.8 324.7,433.0 329.3,431.1 333.9,431.0 338.5,433.6 343.1,436.4"/>
<polyline stroke="#0a6ec4" points="237.5,457.7 242.1,458.3 246.7,458.7 251.3,457.6 255.9,453.9 260.4,448.6 265.0,442.0 269.6,435.1 274.2,432.6 278.8,431.4 283.4,432.8 288.0,437.5 292.6,442.4 297.2,446.6 301.8,451.4 306.4,455.2 311.0,455.0 315.6,454.0 320.1,451.1 324.7,447.5 329.3,443.6 333.9,442.3 338.5,444.9 343.1,448.6"/>
<polyline stroke="#ff4a00" points="237.5,427.6 242.1,427.6 246.7,427.7 251.3,424.8 255.9,421.9 260.4,418.6 265.0,414.1 269.6,409.5 274.2,412.7 278.8,416.3 283.4,420.3 288.0,423.5 292.6,425.8 297.2,427.2 301.8,429.0 306.4,429.0 311.0,428.6 315.6,427.6 320.1,424.6 324.7,421.5 329.3,418.6 333.9,418.2 338.5,420.6 343.1,423.9"/>
<polyline stroke="#ffaa00" points="237.5,447.6 242.1,448.0 246.7,447.9 251.3,445.1 255.9,439.9 260.4,433.5 265.0,426.9 269.6,421.8 274.2,424.0 278.8,426.9 283.4,430.7 288.0,436.3 292.6,441.0 297.2,443.6 301.8,445.8 306.4,445.9 311.0,443.6 315.6,441.8 320.1,439.2 324.7,437.0 329.3,435.2 333.9,435.7 338.5,439.2 343.1,442.3"/>
<polyline stroke="#8c1aa8" points="237.5,466.2 242.1,468.7 246.7,469.7 251.3,468.2 255.9,462.2 260.4,454.1 265.0,446.0 269.6,439.3 274.2,437.6 278.8,437.2 283.4,439.4 288.0,446.4 292.6,452.9 297.2,456.9 301.8,460.5 306.4,463.0 311.0,460.9 315.6,459.3 320.1,457.6 324.7,456.3 329.3,455.3 333.9,457.3 338.5,463.6 343.1,471.0"/>
<polyline stroke="#5db320" points="237.5,434.9 242.1,436.9 246.7,438.7 251.3,437.6 255.9,435.0 260.4,431.0 265.0,425.4 269.6,419.3 274.2,419.1 278.8,419.8 283.4,421.9 288.0,424.0 292.6,426.1 297.2,428.3 301.8,431.1 306.4,431.2 311.0,430.9 315.6,430.3 320.1,428.0 324.7,425.5 329.3,423.0 333.9,422.1 338.5,423.6 343.1,425.2"/>
<polyline stroke="#12b0ea" points="237.5,452.6 242.1,453.6 246.7,454.3 251.3,453.3 255.9,450.1 260.4,445.6 265.0,440.0 269.6,434.5 274.2,433.1 278.8,432.5 283.4,433.9 288.0,439.0 292.6,443.9 297.2,447.8 301.8,452.1 306.4,455.4 311.0,454.8 315.6,453.7 320.1,451.1 324.7,448.0 329.3,444.6 333.9,443.6 338.5,446.0 343.1,449.1"/>
<polyline stroke="#c8102e" points="237.5,472.7 242.1,475.4 246.7,476.8 251.3,477.1 255.9,473.0 260.4,466.8 265.0,459.5 269.6,452.0 274.2,446.6 278.8,442.6 283.4,442.4 288.0,448.5 292.6,454.6 297.2,459.0 301.8,464.0 306.4,469.0 311.0,468.8 315.6,468.5 320.1,467.5 324.7,465.9 329.3,462.7 333.9,463.2 338.5,469.6 343.1,477.5"/>
<polyline stroke="#0a6ec4" points="237.5,442.2 242.1,444.2 246.7,445.7 251.3,444.4 255.9,440.6 260.4,434.9 265.0,428.3 269.6,422.4 274.2,423.7 278.8,426.0 283.4,429.6 288.0,434.8 292.6,439.0 297.2,441.2 301.8,443.1 306.4,442.9 311.0,441.4 315.6,440.7 320.1,439.1 324.7,437.9 329.3,436.8 333.9,437.9 338.5,442.3 343.1,447.0"/>
<polyline stroke="#ff4a00" points="237.5,464.0 242.1,468.2 246.7,472.4 251.3,475.6 255.9,474.0 260.4,468.7 265.0,461.1 269.6,453.0 274.2,447.2 278.8,443.3 283.4,443.2 288.0,449.4 292.6,454.9 297.2,457.8 301.8,460.1 306.4,461.2 311.0,457.4 315.6,453.8 320.1,449.4 324.7,445.2 329.3,441.5 333.9,440.9 338.5,444.5 343.1,449.4"/>
<polyline stroke="#ffaa00" points="237.5,426.5 242.1,427.4 246.7,427.7 251.3,423.7 255.9,421.5 260.4,419.0 265.0,413.8 269.6,407.0 274.2,410.8 278.8,416.7 283.4,422.2 288.0,427.2 292.6,431.2 297.2,433.8 301.8,436.0 306.4,435.9 311.0,435.1 315.6,434.7 320.1,432.7 324.7,430.2 329.3,427.4 333.9,426.2 338.5,427.4 343.1,428.8"/>
<polyline stroke="#8c1aa8" points="237.5,448.3 242.1,451.1 246.7,453.9 251.3,454.7 255.9,451.9 260.4,445.6 265.0,436.3 269.6,426.2 274.2,423.0 278.8,422.8 283.4,425.3 288.0,429.2 292.6,433.0 297.2,436.2 301.8,439.9 306.4,442.0 311.0,442.5 315.6,442.9 320.1,441.7 324.7,440.1 329.3,437.8 333.9,437.2 338.5,439.5 343.1,442.1"/>
<polyline stroke="#5db320" points="237.5,461.2 242.1,464.0 246.7,467.4 251.3,470.6 255.9,469.6 260.4,464.6 265.0,456.5 269.6,447.4 274.2,441.5 278.8,438.1 283.4,438.6 288.0,444.7 292.6,451.1 297.2,456.2 301.8,461.5 306.4,466.2 311.0,465.1 315.6,463.4 320.1,460.3 324.7,456.7 329.3,453.1 333.9,452.7 338.5,457.2 343.1,463.9"/>
<polyline stroke="#12b0ea" points="237.5,434.4 242.1,438.4 246.7,443.6 251.3,447.3 255.9,448.3 260.4,445.3 265.0,438.2 269.6,429.1 274.2,425.4 278.8,424.1 283.4,425.7 288.0,428.8 292.6,431.5 297.2,433.1 301.8,434.7 306.4,434.0 311.0,433.3 315.6,433.8 320.1,433.6 324.7,433.6 329.3,433.3 333.9,434.2 338.5,437.3 343.1,440.1"/>
<polyline stroke="#c8102e" points="237.5,459.3 242.1,461.2 246.7,463.0 251.3,463.8 255.9,461.5 260.4,456.8 265.0,450.3 269.6,443.2 274.2,439.3 278.8,436.9 283.4,437.8 288.0,443.9 292.6,450.5 297.2,456.1 301.8,462.2 306.4,467.9 311.0,467.4 315.6,465.7 320.1,461.9 324.7,457.1 329.3,452.1 333.9,450.4 338.5,453.2 343.1,457.2"/>
<polyline stroke="#0a6ec4" points="237.5,473.7 242.1,475.5 246.7,476.6 251.3,476.6 255.9,472.0 260.4,464.8 265.0,456.9 269.6,449.8 274.2,446.2 278.8,444.5 283.4,446.2 288.0,453.5 292.6,458.7 297.2,462.6 301.8,467.5 306.4,473.0 311.0,472.4 315.6,471.0 320.1,467.6 324.7,464.3 329.3,461.1 333.9,461.5 338.5,467.4 343.1,475.8"/>
<polyline stroke="#ff4a00" points="237.5,446.6 242.1,447.9 246.7,449.2 251.3,448.9 255.9,446.7 260.4,442.6 265.0,436.4 269.6,429.4 274.2,427.4 278.8,426.8 283.4,428.7 288.0,432.9 292.6,437.1 297.2,440.8 301.8,445.0 306.4,447.8 311.0,448.2 315.6,448.8 320.1,447.9 324.7,446.5 329.3,444.3 333.9,443.8 338.5,446.2 343.1,448.8"/>
<polyline stroke="#ffaa00" points="237.5,464.3 242.1,463.9 246.7,462.9 251.3,460.6 255.9,455.9 260.4,450.4 265.0,445.1 269.6,440.7 274.2,440.0 278.8,439.4 283.4,440.9 288.0,447.5 292.6,453.8 297.2,458.3 301.8,463.4 306.4,468.2 311.0,467.0 315.6,464.9 320.1,461.7 324.7,458.1 329.3,454.7 333.9,454.6 338.5,459.0 343.1,464.6"/>
<polyline stroke="#8c1aa8" points="237.5,431.9 242.1,432.0 246.7,431.8 251.3,428.3 255.9,424.4 260.4,420.0 265.0,414.5 269.6,409.4 274.2,412.6 278.8,416.8 283.4,421.6 288.0,426.3 292.6,430.7 297.2,434.0 301.8,437.1 306.4,437.8 311.0,437.5 315.6,437.6 320.1,436.2 324.7,434.4 329.3,432.0 333.9,430.9 338.5,432.1 343.1,433.2"/>
<polyline stroke="#5db320" points="237.5,454.9 242.1,456.5 246.7,457.7 251.3,457.0 255.9,453.3 260.4,447.5 265.0,440.6 269.6,433.7 274.2,431.5 278.8,430.7 283.4,432.0 288.0,436.3 292.6,440.2 297.2,442.9 301.8,445.7 306.4,446.6 311.0,444.8 315.6,443.4 320.1,441.2 324.7,439.7 329.3,438.8 333.9,440.3 338.5,445.0 343.1,449.7"/>
<polyline stroke="#12b0ea" points="237.5,467.4 242.1,470.5 246.7,473.0 251.3,475.0 255.9,473.2 260.4,468.7 265.0,462.0 269.6,453.9 274.2,447.0 278.8,442.1 283.4,441.5 288.0,447.6 292.6,454.5 297.2,460.3 301.8,466.7 306.4,473.2 311.0,473.1 315.6,470.2 320.1,467.0 324.7,464.1 329.3,461.6 333.9,463.1 338.5,469.9 343.1,476.0"/>
<polyline stroke="#c8102e" points="237.5,435.4 242.1,436.6 246.7,438.6 251.3,438.9 255.9,438.3 260.4,436.3 265.0,432.3 269.6,427.6 274.2,427.7 278.8,428.4 283.4,430.7 288.0,435.3 292.6,439.2 297.2,441.6 301.8,443.8 306.4,443.7 311.0,441.1 315.6,438.5 320.1,434.6 324.7,430.8 329.3,427.5 333.9,426.8 338.5,429.8 343.1,434.0"/>
<polyline stroke="#0a6ec4" points="237.5,455.4 242.1,455.7 246.7,456.2 251.3,455.7 255.9,453.6 260.4,450.3 265.0,446.3 269.6,442.1 274.2,440.8 278.8,439.6 283.4,440.8 288.0,447.2 292.6,453.2 297.2,457.3 301.8,461.6 306.4,465.1 311.0,462.9 315.6,459.8 320.1,455.1 324.7,449.9 329.3,445.1 333.9,443.9 338.5,448.0 343.1,454.6"/>
<polyline stroke="#ff4a00" points="237.5,434.5 242.1,434.9 246.7,434.4 251.3,430.1 255.9,424.2 260.4,417.1 265.0,413.7 269.6,410.7 274.2,414.1 278.8,417.3 283.4,420.7 288.0,423.4 292.6,425.2 297.2,426.5 301.8,429.7 306.4,430.0 311.0,429.8 315.6,429.4 320.1,426.8 324.7,423.7 329.3,419.8 333.9,417.8 338.5,421.2 343.1,424.5"/>
<polyline stroke="#ffaa00" points="237.5,443.8 242.1,444.2 246.7,445.2 251.3,445.3 255.9,444.9 260.4,443.4 265.0,439.8 269.6,434.6 274.2,432.5 278.8,431.2 283.4,432.5 288.0,437.2 292.6,441.8 297.2,445.2 301.8,448.6 306.4,450.4 311.0,448.8 315.6,447.1 320.1,444.1 324.7,441.0 329.3,438.1 333.9,437.8 338.5,441.2 343.1,445.9"/>
<polyline stroke="#8c1aa8" points="237.5,455.3 242.1,456.2 246.7,458.1 251.3,459.8 255.9,459.8 260.4,458.2 265.0,454.7 269.6,450.3 274.2,446.9 278.8,444.0 283.4,444.3 288.0,451.2 292.6,457.9 297.2,462.1 301.8,465.6 306.4,467.7 311.0,463.5 315.6,459.4 320.1,455.2 324.7,452.1 329.3,450.1 333.9,452.0 338.5,458.7 343.1,467.0"/>
<polyline stroke="#5db320" points="237.5,433.8 242.1,435.3 246.7,437.5 251.3,438.1 255.9,437.8 260.4,435.2 265.0,429.4 269.6,421.7 274.2,419.6 278.8,419.4 283.4,421.2 288.0,423.4 292.6,425.5 297.2,427.9 301.8,431.2 306.4,432.8 311.0,434.3 315.6,435.4 320.1,434.0 324.7,431.6 329.3,428.8 333.9,428.1 338.5,431.3 343.1,436.2"/>
<polyline stroke="#12b0ea" points="237.5,451.7 242.1,452.9 246.7,454.6 251.3,455.4 255.9,454.2 260.4,450.9 265.0,445.6 269.6,439.4 274.2,436.5 278.8,434.8 283.4,435.9 288.0,440.7 292.6,444.7 297.2,446.3 301.8,447.5 306.4,447.2 311.0,445.5 315.6,445.3 320.1,444.8 324.7,444.4 329.3,443.7 333.9,445.0 338.5,449.9 343.1,455.8"/>
<polyline stroke="#c8102e" points="237.5,471.6 242.1,474.6 246.7,477.3 251.3,479.7 255.9,477.8 260.4,472.9 265.0,466.2 269.6,458.9 274.2,452.8 278.8,448.0 283.4,446.5 288.0,452.8 292.6,459.4 297.2,464.2 301.8,469.4 306.4,474.6 311.0,473.2 315.6,470.6 320.1,466.8 324.7,462.3 329.3,457.6 333.9,456.4 338.5,460.6 343.1,467.5"/>
<polyline stroke="#0a6ec4" points="237.5,441.8 242.1,443.5 246.7,444.9 251.3,443.6 255.9,440.1 260.4,434.6 265.0,427.2 269.6,419.9 274.2,419.5 278.8,421.0 283.4,424.4 288.0,429.0 292.6,434.1 297.2,438.9 301.8,444.0 306.4,446.8 311.0,446.1 315.6,444.5 320.1,441.2 324.7,437.9 329.3,434.9 333.9,434.5 338.5,437.4 343.1,440.6"/>
<polyline stroke="#ff4a00" points="237.5,457.5 242.1,458.2 246.7,459.4 251.3,459.7 255.9,457.2 260.4,452.1 265.0,444.8 269.6,437.2 274.2,434.4 278.8,433.9 283.4,436.3 288.0,443.2 292.6,449.9 297.2,454.4 301.8,458.4 306.4,461.2 311.0,459.3 315.6,457.7 320.1,455.5 324.7,453.3 329.3,450.8 333.9,450.7 338.5,454.2 343.1,458.4"/>
<polyline stroke="#ffaa00" points="237.5,432.1 242.1,431.3 246.7,429.6 251.3,424.7 255.9,420.3 260.4,416.8 265.0,411.9 269.6,408.4 274.2,412.8 278.8,417.6 283.4,422.4 288.0,426.9 292.6,430.6 297.2,432.9 301.8,434.5 306.4,432.6 311.0,429.4 315.6,426.6 320.1,426.0 324.7,424.6 329.3,422.4 333.9,420.8 338.5,420.8 343.1,420.1"/>
<polyline stroke="#8c1aa8" points="237.5,448.1 242.1,445.9 246.7,443.4 251.3,439.4 255.9,435.5 260.4,432.0 265.0,428.1 269.6,424.7 274.2,426.8 278.8,429.1 283.4,432.6 288.0,438.9 292.6,444.7 297.2,448.8 301.8,452.9 306.4,456.0 311.0,455.5 315.6,454.8 320.1,452.9 324.7,450.3 329.3,447.5 333.9,447.1 338.5,450.7 343.1,455.3"/>
<polyline stroke="#5db320" points="237.5,469.3 242.1,472.0 246.7,475.3 251.3,479.1 255.9,478.8 260.4,474.3 265.0,466.4 269.6,456.4 274.2,447.9 278.8,442.3 283.4,441.8 288.0,448.3 292.6,455.5 297.2,461.0 301.8,466.4 306.4,470.8 311.0,468.4 315.6,465.7 320.1,462.3 324.7,459.1 329.3,456.2 333.9,456.7 338.5,462.2 343.1,469.6"/>
<polyline stroke="#12b0ea" points="237.5,434.3 242.1,436.3 246.7,437.4 251.3,435.0 255.9,431.2 260.4,426.5 265.0,421.0 269.6,416.0 274.2,418.0 278.8,420.7 283.4,424.3 288.0,428.2 292.6,431.7 297.2,434.6 301.8,438.1 306.4,440.1 311.0,441.1 315.6,441.7 320.1,440.1 324.7,437.4 329.3,434.2 333.9,432.9 338.5,434.8 343.1,437.1"/>
<polyline stroke="#c8102e" points="237.5,453.7 242.1,456.1 246.7,458.9 251.3,460.6 255.9,459.4 260.4,455.9 265.0,450.6 269.6,444.5 274.2,441.0 278.8,438.4 283.4,438.8 288.0,444.1 292.6,448.9 297.2,451.8 301.8,454.5 306.4,455.7 311.0,452.7 315.6,449.7 320.1,445.8 324.7,442.4 329.3,439.8 333.9,440.3 338.5,444.9 343.1,450.9"/>
<polyline stroke="#0a6ec4" points="237.5,428.0 242.1,426.8 246.7,427.3 251.3,425.8 255.9,424.1 260.4,421.2 265.0,416.4 269.6,411.2 274.2,413.4 278.8,416.5 283.4,420.3 288.0,423.2 292.6,425.3 297.2,426.4 301.8,430.5 306.4,432.1 311.0,433.1 315.6,433.1 320.1,430.0 324.7,425.3 329.3,419.6 333.9,419.5 338.5,423.6 343.1,426.8"/>
<polyline stroke="#ff4a00" points="237.5,445.9 242.1,447.4 246.7,448.6 251.3,447.8 255.9,444.7 260.4,439.8 265.0,433.4 269.6,426.8 274.2,425.8 278.8,426.3 283.4,428.7 288.0,433.2 292.6,437.6 297.2,441.0 301.8,444.4 306.4,445.7 311.0,444.2 315.6,442.5 320.1,439.4 324.7,436.6 329.3,434.4 333.9,434.9 338.5,439.2 343.1,444.2"/>
<polyline stroke="#ffaa00" points="237.5,457.8 242.1,459.0 246.7,460.2 251.3,461.3 255.9,457.8 260.4,454.4 265.0,450.9 269.6,443.9 274.2,436.9 278.8,435.1 283.4,433.4 288.0,438.6 292.6,443.9 297.2,447.4 301.8,450.9 306.4,450.9 311.0,450.9 315.6,447.4 320.1,443.9 324.7,442.1 329.3,440.4 333.9,449.1 338.5,457.8 343.1,479.5"/>
</g>
<path d="M232.9 482.3v-1.1M232.9 377.5v1.1M278.8 482.3v-1.1M278.8 377.5v1.1M324.7 482.3v-1.1M324.7 377.5v1.1M232.9 482.3h1.1M343.1 482.3h-1.1M232.9 447.4h1.1M343.1 447.4h-1.1M232.9 412.4h1.1M343.1 412.4h-1.1M232.9 377.5h1.1M343.1 377.5h-1.1" stroke="#262626" stroke-width="1" fill="none"/>
<text class="k" x="232.9" y="498.3" font-size="12.3" text-anchor="middle" fill="#262626">0</text>
<text class="k" x="278.8" y="498.3" font-size="12.3" text-anchor="middle" fill="#262626">10</text>
<text class="k" x="324.7" y="498.3" font-size="12.3" text-anchor="middle" fill="#262626">20</text>
<text class="k" x="228.4" y="487.5" font-size="12.3" text-anchor="end" fill="#262626">1500</text>
<text class="k" x="228.4" y="452.6" font-size="12.3" text-anchor="end" fill="#262626">2000</text>
<text class="k" x="228.4" y="417.6" font-size="12.3" text-anchor="end" fill="#262626">2500</text>
<text class="k" x="228.4" y="382.7" font-size="12.3" text-anchor="end" fill="#262626">3000</text>
<text class="t" x="206.8" y="371.6" font-size="12.6" textLength="162.4" lengthAdjust="spacing" fill="#000">typical daily 2 frequency66</text>
<text x="257.9" y="519.5" font-size="16.5" textLength="60.2" lengthAdjust="spacingAndGlyphs" fill="#262626">time (h)</text>
<text transform="translate(187.9 429.9) rotate(-90)" x="0" y="6.3" font-size="17.4" text-anchor="middle" fill="#262626">power (kW)</text>
<rect x="408.2" y="377.5" width="110.2" height="104.8" fill="none" stroke="#262626" stroke-width="1"/>
<clipPath id="c8"><rect x="406.2" y="375.5" width="114.2" height="108.8"/></clipPath>
<g clip-path="url(#c8)" fill="none" stroke-width="2.6" stroke-linejoin="round" stroke-linecap="butt">
<polyline stroke="#0a6ec4" points="412.8,423.2 417.4,419.7 422.0,416.8 426.6,414.3 431.2,410.8 435.8,407.2 440.3,404.4 444.9,401.8 449.5,404.7 454.1,404.7 458.7,401.8 463.3,399.5 467.9,395.7 472.5,393.0 477.1,393.6 481.7,395.3 486.3,401.0 490.8,406.9 495.4,410.9 500.0,413.1 504.6,415.6 509.2,418.0 513.8,421.0 518.4,424.5"/>
<polyline stroke="#ff4a00" points="412.8,447.0 417.4,448.7 422.0,449.8 426.6,450.7 431.2,449.2 435.8,448.0 440.3,445.7 444.9,443.0 449.5,440.5 454.1,437.0 458.7,432.7 463.3,428.0 467.9,424.9 472.5,423.2 477.1,422.4 481.7,420.4 486.3,420.4 490.8,421.0 495.4,420.4 500.0,420.1 504.6,422.1 509.2,424.4 513.8,427.0 518.4,429.3"/>
<polyline stroke="#ffaa00" points="412.8,415.4 417.4,414.1 422.0,412.7 426.6,410.8 431.2,407.3 435.8,403.6 440.3,401.2 444.9,399.8 449.5,404.2 454.1,405.6 458.7,404.1 463.3,403.1 467.9,400.7 472.5,398.7 477.1,398.1 481.7,396.4 486.3,397.7 490.8,399.7 495.4,402.2 500.0,403.7 504.6,404.8 509.2,405.6 513.8,406.4 518.4,407.4"/>
<polyline stroke="#8c1aa8" points="412.8,401.8 417.4,398.4 422.0,394.9 426.6,390.7 431.2,385.4 435.8,380.7 440.3,379.3 444.9,380.0 449.5,389.7 454.1,396.3 458.7,397.1 463.3,392.6 467.9,388.1 472.5,383.6 477.1,379.1 481.7,377.9 486.3,381.7 490.8,386.8 495.4,393.1 500.0,396.8 504.6,399.1 509.2,401.4 513.8,403.7 518.4,406.0"/>
<polyline stroke="#5db320" points="412.8,419.5 417.4,418.0 422.0,416.5 426.6,415.0 431.2,412.0 435.8,409.0 440.3,406.0 444.9,405.4 449.5,404.8 454.1,404.2 458.7,401.8 463.3,399.5 467.9,397.1 472.5,394.1 477.1,391.1 481.7,388.1 486.3,391.1 490.8,394.1 495.4,397.1 500.0,410.5 504.6,428.7 509.2,445.8 513.8,459.4 518.4,463.2"/>
<polyline stroke="#12b0ea" points="412.8,461.7 417.4,460.8 422.0,466.1 426.6,472.2 431.2,470.6 435.8,466.9 440.3,461.4 444.9,455.4 449.5,452.7 454.1,450.5 458.7,448.0 463.3,445.5 467.9,444.0 472.5,443.1 477.1,442.3 481.7,441.4 486.3,440.4 490.8,439.5 495.4,436.1 500.0,432.6 504.6,430.3 509.2,429.7 513.8,429.1 518.4,428.5"/>
<polyline stroke="#c8102e" points="412.8,432.4 417.4,432.3 422.0,431.9 426.6,431.3 431.2,429.3 435.8,428.2 440.3,427.7 444.9,427.6 449.5,429.5 454.1,429.1 458.7,426.5 463.3,422.9 467.9,419.6 472.5,417.2 477.1,416.4 481.7,415.7 486.3,418.3 490.8,421.7 495.4,422.9 500.0,423.3 504.6,425.6 509.2,427.5 513.8,429.4 518.4,431.3"/>
<polyline stroke="#0a6ec4" points="412.8,409.6 417.4,404.3 422.0,399.2 426.6,396.0 431.2,390.9 435.8,387.3 440.3,388.4 444.9,390.8 449.5,398.8 454.1,401.8 458.7,400.5 463.3,399.0 467.9,395.2 472.5,391.5 477.1,389.7 481.7,387.5 486.3,389.3 490.8,392.3 495.4,396.5 500.0,399.8 504.6,402.1 509.2,404.5 513.8,407.0 518.4,409.7"/>
<polyline stroke="#ff4a00" points="412.8,434.8 417.4,435.6 422.0,436.6 426.6,437.1 431.2,434.9 435.8,431.6 440.3,427.1 444.9,422.7 449.5,421.8 454.1,420.0 458.7,416.7 463.3,413.8 467.9,411.2 472.5,409.8 477.1,410.1 481.7,409.8 486.3,411.8 490.8,414.1 495.4,415.1 500.0,415.4 504.6,416.9 509.2,418.2 513.8,419.6 518.4,421.5"/>
<polyline stroke="#ffaa00" points="412.8,447.8 417.4,450.9 422.0,453.3 426.6,454.3 431.2,451.9 435.8,449.2 440.3,445.5 444.9,441.9 449.5,439.3 454.1,436.3 458.7,432.9 463.3,429.4 467.9,428.2 472.5,428.8 477.1,430.1 481.7,429.5 486.3,429.8 490.8,430.1 495.4,428.2 500.0,427.1 504.6,429.5 509.2,432.5 513.8,435.9 518.4,439.3"/>
<polyline stroke="#8c1aa8" points="412.8,412.0 417.4,408.6 422.0,406.6 426.6,405.4 431.2,403.3 435.8,400.9 440.3,399.9 444.9,399.8 449.5,405.3 454.1,407.7 458.7,406.9 463.3,405.9 467.9,403.4 472.5,401.1 477.1,399.8 481.7,397.7 486.3,398.9 490.8,401.1 495.4,403.8 500.0,405.8 504.6,407.6 509.2,409.3 513.8,411.0 518.4,412.8"/>
<polyline stroke="#5db320" points="412.8,442.0 417.4,440.7 422.0,439.3 426.6,438.5 431.2,436.8 435.8,436.1 440.3,434.9 444.9,433.3 449.5,433.0 454.1,431.5 458.7,429.2 463.3,426.8 467.9,425.9 472.5,426.1 477.1,426.1 481.7,423.7 486.3,422.3 490.8,421.5 495.4,420.0 500.0,419.3 504.6,421.2 509.2,423.5 513.8,426.2 518.4,428.8"/>
<polyline stroke="#12b0ea" points="412.8,453.5 417.4,453.1 422.0,453.1 426.6,453.9 431.2,453.4 435.8,453.5 440.3,451.8 444.9,448.9 449.5,445.3 454.1,441.4 458.7,437.4 463.3,433.7 467.9,433.4 472.5,436.3 477.1,439.8 481.7,437.1 486.3,435.4 490.8,435.0 495.4,432.9 500.0,431.9 504.6,435.1 509.2,438.8 513.8,443.1 518.4,446.3"/>
<polyline stroke="#c8102e" points="412.8,420.2 417.4,418.4 422.0,416.2 426.6,413.4 431.2,409.4 435.8,405.9 440.3,404.3 444.9,403.5 449.5,407.0 454.1,406.5 458.7,402.4 463.3,398.3 467.9,392.7 472.5,388.4 477.1,388.1 481.7,389.3 486.3,394.9 490.8,400.8 495.4,405.7 500.0,408.9 504.6,412.0 509.2,414.7 513.8,416.9 518.4,418.0"/>
<polyline stroke="#0a6ec4" points="412.8,443.3 417.4,443.0 422.0,443.6 426.6,444.2 431.2,441.9 435.8,438.4 440.3,433.1 444.9,427.8 449.5,425.9 454.1,423.7 458.7,421.0 463.3,419.3 467.9,419.2 472.5,421.3 477.1,424.5 481.7,426.0 486.3,428.2 490.8,430.4 495.4,430.1 500.0,430.0 504.6,433.1 509.2,436.0 513.8,438.7 518.4,440.7"/>
<polyline stroke="#ff4a00" points="412.8,418.8 417.4,416.7 422.0,414.6 426.6,412.0 431.2,407.5 435.8,402.5 440.3,398.9 444.9,396.6 449.5,400.8 454.1,401.9 458.7,399.9 463.3,398.6 467.9,395.7 472.5,393.5 477.1,393.2 481.7,392.2 486.3,394.5 490.8,397.3 495.4,400.6 500.0,402.8 504.6,404.6 509.2,406.7 513.8,409.0 518.4,411.2"/>
<polyline stroke="#ffaa00" points="412.8,420.6 417.4,420.0 422.0,419.9 426.6,419.3 431.2,416.4 435.8,413.0 440.3,411.1 444.9,411.5 449.5,417.3 454.1,420.6 458.7,421.4 463.3,421.3 467.9,421.3 472.5,421.8 477.1,422.2 481.7,420.3 486.3,419.8 490.8,419.8 495.4,419.1 500.0,419.2 504.6,421.7 509.2,424.6 513.8,427.7 518.4,430.0"/>
<polyline stroke="#8c1aa8" points="412.8,448.0 417.4,448.2 422.0,448.8 426.6,450.1 431.2,449.8 435.8,449.5 440.3,447.1 444.9,443.7 449.5,440.5 454.1,437.2 458.7,433.9 463.3,430.9 467.9,431.1 472.5,434.3 477.1,438.5 481.7,439.8 486.3,439.4 490.8,437.2 495.4,431.8 500.0,428.0 504.6,428.9 509.2,431.3 513.8,435.5 518.4,440.8"/>
<polyline stroke="#5db320" points="412.8,418.4 417.4,415.3 422.0,411.7 426.6,408.1 431.2,404.6 435.8,402.3 440.3,402.2 444.9,402.4 449.5,407.0 454.1,408.2 458.7,406.3 463.3,404.6 467.9,401.7 472.5,399.4 477.1,398.6 481.7,396.9 486.3,397.9 490.8,399.4 495.4,401.5 500.0,403.0 504.6,404.6 509.2,406.3 513.8,408.0 518.4,409.1"/>
<polyline stroke="#12b0ea" points="412.8,435.4 417.4,437.9 422.0,439.4 426.6,439.0 431.2,435.2 435.8,431.1 440.3,427.7 444.9,425.7 449.5,426.8 454.1,426.3 458.7,424.1 463.3,421.6 467.9,419.9 472.5,419.3 477.1,419.2 481.7,417.3 486.3,417.1 490.8,417.4 495.4,417.1 500.0,417.3 504.6,419.9 509.2,423.3 513.8,427.6 518.4,431.9"/>
<polyline stroke="#c8102e" points="412.8,405.4 417.4,403.6 422.0,403.2 426.6,402.3 431.2,399.5 435.8,394.9 440.3,390.9 444.9,387.5 449.5,392.5 454.1,397.5 458.7,397.0 463.3,395.7 467.9,391.5 472.5,387.8 477.1,386.7 481.7,385.9 486.3,389.0 490.8,392.3 495.4,395.8 500.0,397.9 504.6,398.7 509.2,400.4 513.8,401.9 518.4,403.7"/>
<polyline stroke="#0a6ec4" points="412.8,419.5 417.4,418.1 422.0,417.1 426.6,416.7 431.2,415.8 435.8,415.7 440.3,416.3 444.9,416.7 449.5,419.7 454.1,420.0 458.7,418.1 463.3,416.1 467.9,413.9 472.5,412.1 477.1,410.8 481.7,408.4 486.3,409.0 490.8,411.1 495.4,413.0 500.0,414.6 504.6,417.0 509.2,419.2 513.8,421.1 518.4,423.0"/>
<polyline stroke="#ff4a00" points="412.8,451.1 417.4,454.0 422.0,455.8 426.6,456.1 431.2,452.7 435.8,448.7 440.3,443.1 444.9,438.1 449.5,435.3 454.1,432.9 458.7,430.4 463.3,428.3 467.9,428.5 472.5,430.7 477.1,433.1 481.7,432.9 486.3,432.7 490.8,432.6 495.4,430.4 500.0,429.4 504.6,432.2 509.2,435.4 513.8,438.7 518.4,441.9"/>
<polyline stroke="#ffaa00" points="412.8,416.6 417.4,414.3 422.0,411.4 426.6,407.3 431.2,400.8 435.8,393.9 440.3,389.8 444.9,388.7 449.5,396.2 454.1,400.4 458.7,401.2 463.3,402.0 467.9,400.7 472.5,399.3 477.1,398.7 481.7,397.0 486.3,398.5 490.8,401.2 495.4,404.3 500.0,406.8 504.6,409.5 509.2,412.5 513.8,415.9 518.4,419.0"/>
<polyline stroke="#8c1aa8" points="412.8,431.6 417.4,429.5 422.0,427.3 426.6,425.2 431.2,422.4 435.8,421.1 440.3,421.5 444.9,422.4 449.5,425.1 454.1,424.7 458.7,421.6 463.3,417.9 467.9,414.5 472.5,412.2 477.1,411.4 481.7,410.4 486.3,412.3 490.8,414.8 495.4,416.0 500.0,416.7 504.6,419.1 509.2,421.9 513.8,425.3 518.4,428.7"/>
<polyline stroke="#5db320" points="412.8,450.2 417.4,455.0 422.0,455.0 426.6,454.9 431.2,454.2 435.8,455.1 440.3,452.4 444.9,447.5 449.5,444.0 454.1,441.4 458.7,438.9 463.3,435.8 467.9,434.9 472.5,434.6 477.1,433.6 481.7,430.9 486.3,430.4 490.8,431.7 495.4,431.4 500.0,431.7 504.6,435.9 509.2,438.7 513.8,441.2 518.4,444.3"/>
<polyline stroke="#12b0ea" points="412.8,421.9 417.4,420.4 422.0,419.4 426.6,418.3 431.2,415.7 435.8,412.8 440.3,410.8 444.9,409.7 449.5,413.4 454.1,414.6 458.7,413.2 463.3,411.6 467.9,409.3 472.5,407.5 477.1,406.8 481.7,404.9 486.3,405.2 490.8,405.6 495.4,406.0 500.0,406.5 504.6,407.7 509.2,409.7 513.8,412.4 518.4,415.1"/>
<polyline stroke="#c8102e" points="412.8,447.1 417.4,446.2 422.0,445.1 426.6,443.9 431.2,440.9 435.8,438.5 440.3,435.6 444.9,432.5 449.5,430.8 454.1,428.0 458.7,424.1 463.3,420.7 467.9,418.5 472.5,417.6 477.1,417.2 481.7,415.0 486.3,414.8 490.8,415.9 495.4,416.9 500.0,418.5 504.6,422.3 509.2,426.5 513.8,431.0 518.4,435.3"/>
<polyline stroke="#0a6ec4" points="412.8,406.9 417.4,402.9 422.0,399.2 426.6,395.5 431.2,391.6 435.8,387.4 440.3,385.3 444.9,384.4 449.5,393.3 454.1,397.2 458.7,396.2 463.3,395.1 467.9,391.5 472.5,388.6 477.1,388.1 481.7,387.3 486.3,390.2 490.8,393.9 495.4,398.4 500.0,401.8 504.6,404.3 509.2,406.4 513.8,407.8 518.4,408.7"/>
<polyline stroke="#ff4a00" points="412.8,428.7 417.4,427.8 422.0,426.9 426.6,425.6 431.2,422.5 435.8,419.0 440.3,415.9 444.9,413.1 449.5,414.6 454.1,414.2 458.7,412.1 463.3,411.0 467.9,410.3 472.5,411.0 477.1,412.4 481.7,411.0 486.3,410.3 490.8,409.6 495.4,409.1 500.0,409.3 504.6,411.0 509.2,413.5 513.8,416.7 518.4,420.2"/>
<polyline stroke="#ffaa00" points="412.8,434.4 417.4,433.6 422.0,433.8 426.6,434.9 431.2,435.1 435.8,436.1 440.3,436.4 444.9,436.3 449.5,436.7 454.1,435.8 458.7,434.1 463.3,432.3 467.9,432.8 472.5,435.1 477.1,437.1 481.7,436.3 486.3,434.9 490.8,433.0 495.4,428.7 500.0,425.6 504.6,426.1 509.2,427.4 513.8,429.5 518.4,432.3"/>
<polyline stroke="#8c1aa8" points="412.8,413.5 417.4,412.2 422.0,410.4 426.6,407.3 431.2,402.4 435.8,397.4 440.3,395.3 444.9,395.7 449.5,402.8 454.1,406.1 458.7,405.7 463.3,404.6 467.9,401.6 472.5,398.7 477.1,397.5 481.7,396.0 486.3,397.5 490.8,399.2 495.4,400.9 500.0,401.7 504.6,402.3 509.2,403.6 513.8,405.9 518.4,409.1"/>
<polyline stroke="#5db320" points="412.8,429.6 417.4,427.9 422.0,427.4 426.6,427.9 431.2,427.7 435.8,427.9 440.3,428.3 444.9,428.6 449.5,430.2 454.1,429.4 458.7,426.3 463.3,422.2 467.9,418.6 472.5,416.2 477.1,415.5 481.7,414.8 486.3,416.9 490.8,419.3 495.4,420.1 500.0,420.6 504.6,423.4 509.2,426.6 513.8,430.1 518.4,433.6"/>
<polyline stroke="#12b0ea" points="412.8,406.2 417.4,406.3 422.0,405.7 426.6,402.8 431.2,396.7 435.8,388.9 440.3,384.2 444.9,386.1 449.5,392.9 454.1,396.7 458.7,398.2 463.3,399.3 467.9,397.4 472.5,394.7 477.1,392.2 481.7,388.2 486.3,387.7 490.8,388.4 495.4,395.6 500.0,400.9 504.6,405.0 509.2,408.9 513.8,412.4 518.4,414.8"/>
<polyline stroke="#c8102e" points="412.8,423.3 417.4,420.7 422.0,418.6 426.6,417.7 431.2,417.5 435.8,419.0 440.3,421.2 444.9,422.4 449.5,424.4 454.1,423.3 458.7,419.9 463.3,416.4 467.9,413.3 472.5,411.4 477.1,411.2 481.7,410.6 486.3,412.6 490.8,415.3 495.4,416.8 500.0,418.1 504.6,420.9 509.2,423.6 513.8,425.9 518.4,427.5"/>
<polyline stroke="#0a6ec4" points="412.8,443.3 417.4,444.4 422.0,444.8 426.6,443.8 431.2,439.6 435.8,435.2 440.3,431.3 444.9,429.0 449.5,429.7 454.1,429.1 458.7,426.9 463.3,424.1 467.9,422.5 472.5,422.2 477.1,422.8 481.7,422.1 486.3,423.2 490.8,425.0 495.4,425.1 500.0,425.3 504.6,428.3 509.2,431.3 513.8,434.6 518.4,438.0"/>
<polyline stroke="#ff4a00" points="412.8,411.3 417.4,410.4 422.0,409.9 426.6,408.7 431.2,404.9 435.8,399.7 440.3,395.8 444.9,393.5 449.5,398.6 454.1,400.6 458.7,399.1 463.3,397.5 467.9,393.2 472.5,388.3 477.1,385.0 481.7,381.7 486.3,383.8 490.8,388.4 495.4,394.1 500.0,399.4 504.6,403.9 509.2,408.7 513.8,413.6 518.4,417.9"/>
<polyline stroke="#ffaa00" points="412.8,434.1 417.4,432.4 422.0,430.3 426.6,428.1 431.2,425.3 435.8,423.9 440.3,423.4 444.9,422.8 449.5,424.0 454.1,422.7 458.7,419.5 463.3,416.3 467.9,413.6 472.5,412.4 477.1,412.8 481.7,412.8 486.3,415.0 490.8,417.5 495.4,418.6 500.0,419.4 504.6,422.4 509.2,425.7 513.8,429.3 518.4,432.8"/>
<polyline stroke="#8c1aa8" points="412.8,445.4 417.4,445.5 422.0,446.7 426.6,448.9 431.2,449.1 435.8,448.5 440.3,445.0 444.9,440.5 449.5,437.5 454.1,435.2 458.7,433.3 463.3,431.6 467.9,432.0 472.5,433.3 477.1,433.4 481.7,431.1 486.3,430.5 490.8,431.7 495.4,431.4 500.0,431.5 504.6,435.0 509.2,438.1 513.8,441.0 518.4,443.9"/>
<polyline stroke="#5db320" points="412.8,427.9 417.4,427.2 422.0,426.4 426.6,425.8 431.2,423.9 435.8,421.8 440.3,419.2 444.9,416.0 449.5,415.8 454.1,413.4 458.7,408.6 463.3,404.3 467.9,399.5 472.5,396.0 477.1,395.6 481.7,395.5 486.3,398.5 490.8,401.4 495.4,403.8 500.0,405.4 504.6,407.4 509.2,410.0 513.8,413.0 518.4,415.6"/>
<polyline stroke="#12b0ea" points="412.8,446.0 417.4,445.0 422.0,443.3 426.6,441.3 431.2,437.3 435.8,433.6 440.3,430.0 444.9,427.2 449.5,427.5 454.1,426.8 458.7,425.1 463.3,423.4 467.9,423.0 472.5,423.9 477.1,424.9 481.7,423.4 486.3,422.3 490.8,421.2 495.4,418.9 500.0,417.5 504.6,418.6 509.2,420.5 513.8,423.1 518.4,425.9"/>
<polyline stroke="#c8102e" points="412.8,406.8 417.4,403.9 422.0,399.8 426.6,396.7 431.2,395.5 435.8,394.8 440.3,396.0 444.9,397.3 449.5,403.2 454.1,404.8 458.7,402.5 463.3,400.2 467.9,396.0 472.5,391.9 477.1,390.1 481.7,388.7 486.3,391.9 490.8,396.2 495.4,400.5 500.0,402.6 504.6,403.2 509.2,403.3 513.8,403.5 518.4,404.0"/>
<polyline stroke="#0a6ec4" points="412.8,429.0 417.4,428.5 422.0,428.3 426.6,428.3 431.2,426.7 435.8,424.9 440.3,422.4 444.9,419.3 449.5,419.1 454.1,417.2 458.7,413.8 463.3,411.4 467.9,409.7 472.5,409.9 477.1,411.7 481.7,412.2 486.3,413.9 490.8,415.5 495.4,415.8 500.0,415.9 504.6,417.5 509.2,419.5 513.8,421.9 518.4,424.6"/>
<polyline stroke="#ff4a00" points="412.8,449.1 417.4,447.5 422.0,445.7 426.6,444.1 431.2,441.0 435.8,438.7 440.3,436.4 444.9,434.9 449.5,435.4 454.1,435.3 458.7,434.9 463.3,434.3 467.9,435.7 472.5,436.3 477.1,438.1 481.7,439.0 486.3,438.2 490.8,435.7 495.4,431.3 500.0,428.7 504.6,430.4 509.2,432.7 513.8,435.4 518.4,438.0"/>
<polyline stroke="#ffaa00" points="412.8,411.9 417.4,407.4 422.0,403.7 426.6,401.0 431.2,399.4 435.8,399.5 440.3,402.0 444.9,404.5 449.5,410.1 454.1,411.1 458.7,408.0 463.3,404.3 467.9,399.0 472.5,394.3 477.1,392.2 481.7,390.6 486.3,392.9 490.8,395.9 495.4,399.4 500.0,401.7 504.6,403.4 509.2,405.3 513.8,407.6 518.4,410.3"/>
<polyline stroke="#8c1aa8" points="412.8,440.5 417.4,439.7 422.0,438.2 426.6,436.3 431.2,432.7 435.8,430.0 440.3,427.5 444.9,425.0 449.5,424.9 454.1,423.1 458.7,420.0 463.3,417.5 467.9,415.9 472.5,415.9 477.1,416.9 481.7,415.8 486.3,415.7 490.8,415.7 495.4,415.0 500.0,414.9 504.6,416.7 509.2,419.0 513.8,421.7 518.4,424.4"/>
<polyline stroke="#5db320" points="412.8,449.7 417.4,451.1 422.0,453.1 426.6,455.9 431.2,457.0 435.8,454.2 440.3,448.5 444.9,443.8 449.5,441.4 454.1,440.0 458.7,439.0 463.3,434.3 467.9,433.1 472.5,435.0 477.1,438.4 481.7,439.2 486.3,436.8 490.8,435.1 495.4,432.0 500.0,430.7 504.6,434.2 509.2,438.7 513.8,442.3 518.4,444.2"/>
<polyline stroke="#12b0ea" points="412.8,427.1 417.4,426.2 422.0,424.7 426.6,422.1 431.2,417.4 435.8,412.6 440.3,409.3 444.9,407.4 449.5,410.7 454.1,411.1 458.7,408.5 463.3,405.6 467.9,401.3 472.5,397.6 477.1,396.3 481.7,396.0 486.3,399.9 490.8,404.6 495.4,408.2 500.0,410.2 504.6,412.1 509.2,413.7 513.8,415.5 518.4,417.5"/>
<polyline stroke="#c8102e" points="412.8,445.4 417.4,445.1 422.0,444.2 426.6,442.7 431.2,438.9 435.8,435.7 440.3,432.9 444.9,431.3 449.5,432.1 454.1,431.6 458.7,429.9 463.3,428.1 467.9,428.4 472.5,430.3 477.1,431.7 481.7,429.7 486.3,427.2 490.8,424.9 495.4,421.9 500.0,420.7 504.6,422.9 509.2,426.0 513.8,429.6 518.4,433.0"/>
<polyline stroke="#0a6ec4" points="412.8,409.6 417.4,407.4 422.0,405.6 426.6,403.2 431.2,399.5 435.8,395.3 440.3,393.0 444.9,391.4 449.5,395.8 454.1,395.9 458.7,396.3 463.3,397.4 467.9,395.4 472.5,392.9 477.1,391.3 481.7,388.6 486.3,389.1 490.8,390.4 495.4,393.5 500.0,398.5 504.6,401.3 509.2,403.5 513.8,405.7 518.4,407.9"/>
<polyline stroke="#ff4a00" points="412.8,423.2 417.4,422.2 422.0,422.0 426.6,422.2 431.2,421.2 435.8,420.4 440.3,420.5 444.9,421.3 449.5,424.7 454.1,425.6 458.7,424.4 463.3,422.5 467.9,421.0 472.5,419.8 477.1,418.4 481.7,415.2 486.3,414.3 490.8,415.0 495.4,415.7 500.0,416.8 504.6,419.7 509.2,422.9 513.8,426.4 518.4,429.6"/>
<polyline stroke="#ffaa00" points="412.8,450.9 417.4,450.6 422.0,450.9 426.6,452.0 431.2,451.1 435.8,450.1 440.3,447.2 444.9,443.5 449.5,440.3 454.1,436.7 458.7,432.7 463.3,428.5 467.9,426.3 472.5,425.6 477.1,425.8 481.7,425.1 486.3,426.4 490.8,428.3 495.4,427.9 500.0,427.6 504.6,430.3 509.2,433.1 513.8,436.0 518.4,438.7"/>
<polyline stroke="#8c1aa8" points="412.8,414.1 417.4,410.8 422.0,407.0 426.6,402.1 431.2,395.9 435.8,390.4 440.3,389.5 444.9,392.0 449.5,401.5 454.1,406.5 458.7,407.0 463.3,406.6 467.9,404.3 472.5,402.0 477.1,400.7 481.7,398.5 486.3,399.8 490.8,402.6 495.4,406.3 500.0,409.6 504.6,413.6 509.2,417.8 513.8,422.1 518.4,426.0"/>
<polyline stroke="#5db320" points="412.8,446.0 417.4,444.6 422.0,442.2 426.6,439.2 431.2,433.7 435.8,428.3 440.3,423.1 444.9,419.5 449.5,420.6 454.1,420.8 458.7,419.4 463.3,418.0 467.9,416.9 472.5,416.8 477.1,417.4 481.7,416.7 486.3,417.8 490.8,419.2 495.4,419.1 500.0,418.9 504.6,420.5 509.2,422.2 513.8,424.2 518.4,426.4"/>
<polyline stroke="#12b0ea" points="412.8,412.2 417.4,411.1 422.0,410.1 426.6,408.2 431.2,404.1 435.8,398.9 440.3,394.7 444.9,391.2 449.5,394.7 454.1,395.6 458.7,396.1 463.3,395.4 467.9,390.7 472.5,384.7 477.1,383.3 481.7,385.0 486.3,390.5 490.8,395.5 495.4,399.7 500.0,401.8 504.6,402.8 509.2,404.0 513.8,405.8 518.4,408.2"/>
<polyline stroke="#c8102e" points="412.8,423.9 417.4,422.4 422.0,421.4 426.6,420.5 431.2,418.2 435.8,415.8 440.3,414.1 444.9,412.9 449.5,415.3 454.1,415.1 458.7,412.4 463.3,409.9 467.9,407.2 472.5,406.1 477.1,407.5 481.7,409.0 486.3,413.3 490.8,417.8 495.4,420.1 500.0,421.4 504.6,424.3 509.2,426.8 513.8,428.8 518.4,430.0"/>
<polyline stroke="#0a6ec4" points="412.8,443.4 417.4,442.1 422.0,441.7 426.6,442.4 431.2,441.8 435.8,441.3 440.3,438.7 444.9,434.4 449.5,430.7 454.1,426.1 458.7,421.0 463.3,417.1 467.9,415.1 472.5,416.1 477.1,419.3 481.7,421.1 486.3,423.5 490.8,424.9 495.4,423.9 500.0,423.3 504.6,425.5 509.2,428.4 513.8,431.8 518.4,435.2"/>
<polyline stroke="#ff4a00" points="412.8,412.9 417.4,409.5 422.0,405.8 426.6,401.7 431.2,397.7 435.8,395.5 440.3,397.3 444.9,400.9 449.5,408.4 454.1,410.6 458.7,407.6 463.3,402.8 467.9,394.8 472.5,386.3 477.1,382.6 481.7,382.7 486.3,385.1 490.8,388.9 495.4,396.5 500.0,401.8 504.6,405.7 509.2,409.4 513.8,412.8 518.4,415.6"/>
<polyline stroke="#ffaa00" points="412.8,433.9 417.4,434.6 422.0,434.7 426.6,433.5 431.2,429.4 435.8,424.9 440.3,420.9 444.9,418.0 449.5,419.1 454.1,418.4 458.7,415.9 463.3,414.0 467.9,413.0 472.5,414.4 477.1,417.7 481.7,419.5 486.3,421.9 490.8,423.3 495.4,422.5 500.0,421.8 504.6,423.8 509.2,426.0 513.8,428.5 518.4,430.6"/>
<polyline stroke="#8c1aa8" points="412.8,451.9 417.4,454.1 422.0,456.4 426.6,458.5 431.2,457.5 435.8,455.8 440.3,451.2 444.9,445.5 449.5,440.3 454.1,435.7 458.7,431.7 463.3,428.9 467.9,429.5 472.5,433.2 477.1,438.0 481.7,439.4 486.3,437.6 490.8,436.7 495.4,433.8 500.0,432.2 504.6,435.0 509.2,438.7 513.8,442.8 518.4,444.5"/>
<polyline stroke="#5db320" points="412.8,423.8 417.4,426.2 422.0,429.4 426.6,432.1 431.2,431.6 435.8,428.7 440.3,423.4 444.9,417.6 449.5,416.3 454.1,414.6 458.7,411.7 463.3,409.4 467.9,406.6 472.5,404.1 477.1,403.0 481.7,401.6 486.3,403.8 490.8,406.9 495.4,409.2 500.0,410.4 504.6,412.1 509.2,414.3 513.8,417.3 518.4,420.9"/>
<polyline stroke="#12b0ea" points="412.8,436.5 417.4,435.0 422.0,432.8 426.6,430.1 431.2,425.7 435.8,421.7 440.3,418.9 444.9,417.5 449.5,420.5 454.1,421.9 458.7,421.7 463.3,421.6 467.9,422.4 472.5,423.7 477.1,424.1 481.7,421.0 486.3,419.1 490.8,418.8 495.4,419.2 500.0,420.8 504.6,425.3 509.2,430.1 513.8,434.5 518.4,437.8"/>
<polyline stroke="#c8102e" points="412.8,410.2 417.4,406.6 422.0,403.7 426.6,401.3 431.2,398.7 435.8,396.6 440.3,396.7 444.9,398.0 449.5,404.7 454.1,407.2 458.7,405.6 463.3,403.3 467.9,398.5 472.5,393.3 477.1,389.8 481.7,386.5 486.3,388.0 490.8,391.2 495.4,396.0 500.0,400.0 504.6,403.2 509.2,406.7 513.8,410.1 518.4,413.1"/>
<polyline stroke="#0a6ec4" points="412.8,421.7 417.4,421.4 422.0,422.2 426.6,423.0 431.2,421.7 435.8,419.7 440.3,417.5 444.9,415.3 449.5,416.7 454.1,415.8 458.7,412.8 463.3,410.4 467.9,408.1 472.5,407.6 477.1,409.1 481.7,409.5 486.3,411.5 490.8,413.0 495.4,412.9 500.0,412.4 504.6,413.0 509.2,414.0 513.8,415.9 518.4,418.5"/>
<polyline stroke="#ff4a00" points="412.8,451.9 417.4,453.0 422.0,453.2 426.6,452.8 431.2,449.7 435.8,446.9 440.3,443.2 444.9,439.8 449.5,437.8 454.1,435.6 458.7,433.0 463.3,430.3 467.9,429.6 472.5,430.3 477.1,431.3 481.7,430.6 486.3,431.0 490.8,431.9 495.4,430.3 500.0,429.0 504.6,430.7 509.2,432.3 513.8,434.2 518.4,436.6"/>
<polyline stroke="#ffaa00" points="412.8,416.5 417.4,412.8 422.0,409.3 426.6,406.2 431.2,403.0 435.8,400.4 440.3,399.6 444.9,399.1 449.5,403.5 454.1,404.3 458.7,401.9 463.3,400.1 467.9,397.2 472.5,396.1 477.1,398.4 481.7,400.9 486.3,405.5 490.8,408.6 495.4,409.7 500.0,409.6 504.6,409.9 509.2,410.5 513.8,411.5 518.4,412.7"/>
<polyline stroke="#8c1aa8" points="412.8,434.7 417.4,435.0 422.0,434.0 426.6,431.6 431.2,426.8 435.8,422.5 440.3,419.6 444.9,418.3 449.5,420.6 454.1,420.6 458.7,418.1 463.3,415.2 467.9,412.3 472.5,410.4 477.1,410.4 481.7,410.5 486.3,414.1 490.8,418.5 495.4,421.0 500.0,422.4 504.6,425.3 509.2,427.7 513.8,430.0 518.4,432.1"/>
<polyline stroke="#5db320" points="412.8,450.8 417.4,453.0 422.0,454.4 426.6,455.3 431.2,453.7 435.8,452.7 440.3,450.4 444.9,447.9 449.5,445.0 454.1,441.9 458.7,438.9 463.3,435.9 467.9,436.0 472.5,438.0 477.1,440.0 481.7,439.3 486.3,438.7 490.8,438.2 495.4,435.2 500.0,433.6 504.6,436.4 509.2,439.3 513.8,442.4 518.4,445.7"/>
<polyline stroke="#12b0ea" points="412.8,420.9 417.4,417.8 422.0,415.2 426.6,413.0 431.2,410.2 435.8,408.2 440.3,408.1 444.9,409.4 449.5,415.0 454.1,417.2 458.7,416.1 463.3,413.8 467.9,410.2 472.5,406.4 477.1,403.5 481.7,400.5 486.3,401.6 490.8,404.0 495.4,406.4 500.0,407.8 504.6,409.0 509.2,410.2 513.8,411.7 518.4,413.7"/>
<polyline stroke="#c8102e" points="412.8,439.1 417.4,439.8 422.0,440.1 426.6,440.0 431.2,437.4 435.8,434.6 440.3,430.9 444.9,427.2 449.5,426.3 454.1,424.8 458.7,422.6 463.3,421.0 467.9,420.6 472.5,421.6 477.1,422.9 481.7,422.4 486.3,423.3 490.8,425.1 495.4,425.4 500.0,426.1 504.6,429.8 509.2,433.7 513.8,438.0 518.4,442.3"/>
<polyline stroke="#0a6ec4" points="412.8,415.0 417.4,413.7 422.0,412.6 426.6,410.8 431.2,406.8 435.8,401.5 440.3,396.9 444.9,393.6 449.5,397.9 454.1,399.8 458.7,399.0 463.3,399.1 467.9,397.7 472.5,397.0 477.1,397.6 481.7,396.2 486.3,396.5 490.8,396.7 495.4,397.6 500.0,398.1 504.6,399.0 509.2,401.9 513.8,404.4 518.4,406.6"/>
<polyline stroke="#ff4a00" points="412.8,426.0 417.4,424.6 422.0,423.6 426.6,423.0 431.2,421.2 435.8,418.9 440.3,416.1 444.9,413.0 449.5,414.3 454.1,414.1 458.7,412.3 463.3,411.2 467.9,409.9 472.5,409.2 477.1,409.0 481.7,407.0 486.3,407.5 490.8,409.4 495.4,411.5 500.0,413.7 504.6,417.3 509.2,421.2 513.8,424.9 518.4,427.4"/>
<polyline stroke="#ffaa00" points="412.8,449.3 417.4,451.1 422.0,452.7 426.6,454.1 431.2,452.8 435.8,451.6 440.3,449.2 444.9,447.0 449.5,445.0 454.1,442.0 458.7,438.7 463.3,435.7 467.9,434.3 472.5,434.4 477.1,434.7 481.7,433.8 486.3,434.2 490.8,435.1 495.4,433.2 500.0,431.8 504.6,434.1 509.2,436.8 513.8,440.2 518.4,443.8"/>
<polyline stroke="#8c1aa8" points="412.8,417.9 417.4,416.9 422.0,416.6 426.6,416.7 431.2,415.8 435.8,415.0 440.3,414.2 444.9,412.8 449.5,414.3 454.1,412.9 458.7,409.0 463.3,405.7 467.9,402.1 472.5,400.1 477.1,400.9 481.7,402.0 486.3,406.2 490.8,410.5 495.4,413.2 500.0,414.4 504.6,415.9 509.2,416.8 513.8,417.1 518.4,417.1"/>
<polyline stroke="#5db320" points="412.8,446.2 417.4,449.3 422.0,451.3 426.6,451.6 431.2,448.2 435.8,443.9 440.3,438.3 444.9,433.2 449.5,430.5 454.1,427.2 458.7,422.9 463.3,418.7 467.9,415.6 472.5,414.5 477.1,415.5 481.7,415.9 486.3,418.1 490.8,419.9 495.4,419.8 500.0,419.5 504.6,421.5 509.2,424.1 513.8,427.3 518.4,430.7"/>
<polyline stroke="#12b0ea" points="412.8,407.8 417.4,405.2 422.0,402.3 426.6,398.0 431.2,391.4 435.8,387.5 440.3,388.6 444.9,389.9 449.5,396.3 454.1,397.4 458.7,393.9 463.3,394.1 467.9,390.3 472.5,385.4 477.1,381.9 481.7,382.2 486.3,386.9 490.8,391.7 495.4,396.6 500.0,399.6 504.6,401.4 509.2,403.3 513.8,405.4 518.4,407.6"/>
<polyline stroke="#c8102e" points="412.8,427.7 417.4,424.3 422.0,420.2 426.6,415.3 431.2,409.3 435.8,404.9 440.3,404.1 444.9,406.0 449.5,412.8 454.1,415.9 458.7,415.6 463.3,414.2 467.9,412.2 472.5,410.8 477.1,410.5 481.7,409.8 486.3,412.1 490.8,415.3 495.4,417.3 500.0,418.7 504.6,421.7 509.2,424.9 513.8,428.4 518.4,432.0"/>
<polyline stroke="#0a6ec4" points="412.8,445.1 417.4,445.7 422.0,445.4 426.6,444.7 431.2,442.4 435.8,441.6 440.3,441.1 444.9,440.5 449.5,439.6 454.1,436.9 458.7,433.2 463.3,429.3 467.9,427.8 472.5,428.1 477.1,428.9 481.7,427.9 486.3,427.8 490.8,428.2 495.4,427.0 500.0,426.5 504.6,429.2 509.2,432.2 513.8,435.8 518.4,439.8"/>
<polyline stroke="#ff4a00" points="412.8,416.0 417.4,415.4 422.0,414.9 426.6,414.1 431.2,411.8 435.8,409.5 440.3,408.9 444.9,409.7 449.5,414.9 454.1,416.6 458.7,415.0 463.3,412.2 467.9,408.1 472.5,404.1 477.1,401.5 481.7,398.8 486.3,399.8 490.8,402.1 495.4,404.7 500.0,406.4 504.6,408.1 509.2,409.6 513.8,411.3 518.4,413.2"/>
<polyline stroke="#ffaa00" points="412.8,436.8 417.4,434.9 422.0,433.1 426.6,430.9 431.2,426.6 435.8,422.1 440.3,418.0 444.9,414.8 449.5,416.3 454.1,416.4 458.7,415.0 463.3,414.5 467.9,414.9 472.5,416.9 477.1,419.1 481.7,418.0 486.3,416.9 490.8,416.0 495.4,414.9 500.0,414.7 504.6,416.7 509.2,419.5 513.8,422.9 518.4,426.6"/>
<polyline stroke="#8c1aa8" points="412.8,453.5 417.4,453.7 422.0,454.7 426.6,455.9 431.2,454.2 435.8,452.0 440.3,448.0 444.9,444.2 449.5,441.5 454.1,438.9 458.7,436.3 463.3,433.5 467.9,433.2 472.5,434.7 477.1,436.2 481.7,435.7 486.3,436.0 490.8,437.0 495.4,435.5 500.0,433.3 504.6,434.8 509.2,437.5 513.8,441.4 518.4,445.9"/>
<polyline stroke="#5db320" points="412.8,415.0 417.4,413.5 422.0,412.0 426.6,410.5 431.2,407.5 435.8,404.5 440.3,401.5 444.9,403.0 449.5,404.5 454.1,406.0 458.7,403.0 463.3,400.1 467.9,397.1 472.5,391.7 477.1,386.3 481.7,385.1 486.3,388.1 490.8,390.8 495.4,393.5 500.0,397.5 504.6,401.5 509.2,403.0 513.8,404.5 518.4,406.0"/>
</g>
<path d="M408.2 482.3v-1.1M408.2 377.5v1.1M454.1 482.3v-1.1M454.1 377.5v1.1M500.0 482.3v-1.1M500.0 377.5v1.1M408.2 482.3h1.1M518.4 482.3h-1.1M408.2 437.4h1.1M518.4 437.4h-1.1M408.2 392.6h1.1M518.4 392.6h-1.1" stroke="#262626" stroke-width="1" fill="none"/>
<text class="k" x="408.2" y="498.3" font-size="12.3" text-anchor="middle" fill="#262626">0</text>
<text class="k" x="454.1" y="498.3" font-size="12.3" text-anchor="middle" fill="#262626">10</text>
<text class="k" x="500.0" y="498.3" font-size="12.3" text-anchor="middle" fill="#262626">20</text>
<text class="k" x="403.7" y="487.5" font-size="12.3" text-anchor="end" fill="#262626">1000</text>
<text class="k" x="403.7" y="442.6" font-size="12.3" text-anchor="end" fill="#262626">1500</text>
<text class="k" x="403.7" y="397.8" font-size="12.3" text-anchor="end" fill="#262626">2000</text>
<text class="t" x="382.1" y="371.6" font-size="12.6" textLength="162.4" lengthAdjust="spacing" fill="#000">typical daily 3 frequency82</text>
<text x="433.2" y="519.5" font-size="16.5" textLength="60.2" lengthAdjust="spacingAndGlyphs" fill="#262626">time (h)</text>
<text transform="translate(363.2 429.9) rotate(-90)" x="0" y="6.3" font-size="17.4" text-anchor="middle" fill="#262626">power (kW)</text>
<rect x="56.5" y="544.8" width="110.2" height="103.7" fill="none" stroke="#262626" stroke-width="1"/>
<clipPath id="c9"><rect x="54.5" y="542.8" width="114.2" height="107.7"/></clipPath>
<g clip-path="url(#c9)" fill="none" stroke-width="2.6" stroke-linejoin="round" stroke-linecap="butt">
<polyline stroke="#0a6ec4" points="61.1,596.5 65.7,600.3 70.3,599.7 74.9,599.0 79.5,598.3 84.0,597.6 88.6,595.9 93.2,593.5 97.8,585.8 102.4,575.4 107.0,564.4 111.6,555.0 116.2,548.6 120.8,545.0 125.4,545.2 130.0,546.3 134.6,547.8 139.1,553.1 143.7,558.5 148.3,563.9 152.9,567.1 157.5,569.0 162.1,570.8 166.7,572.7"/>
<polyline stroke="#ff4a00" points="61.1,617.2 65.7,618.2 70.3,619.3 74.9,620.3 79.5,619.3 84.0,618.2 88.6,617.2 93.2,615.6 97.8,614.1 102.4,604.7 107.0,589.0 111.6,579.6 116.2,570.2 120.8,566.7 125.4,563.2 130.0,560.4 134.6,563.8 139.1,568.9 143.7,575.0 148.3,581.1 152.9,584.8 157.5,587.9 162.1,591.0 166.7,594.0"/>
<polyline stroke="#ffaa00" points="61.1,601.0 65.7,599.7 70.3,598.4 74.9,596.3 79.5,594.2 84.0,592.1 88.6,590.1 93.2,588.2 97.8,589.7 102.4,592.8 107.0,579.6 111.6,564.0 116.2,558.3 120.8,552.7 125.4,551.0 130.0,551.6 134.6,554.8 139.1,558.3 143.7,562.1 148.3,568.9 152.9,576.4 157.5,583.2 162.1,589.5 166.7,595.8"/>
<polyline stroke="#8c1aa8" points="61.1,610.9 65.7,609.9 70.3,608.8 74.9,607.8 79.5,606.8 84.0,605.7 88.6,604.7 93.2,603.1 97.8,601.5 102.4,596.8 107.0,592.1 111.6,585.9 116.2,579.6 120.8,576.1 125.4,572.6 130.0,575.5 134.6,579.9 139.1,584.2 143.7,587.9 148.3,592.8 152.9,598.1 157.5,601.0 162.1,602.2 166.7,603.4"/>
<polyline stroke="#5db320" points="61.1,614.1 65.7,614.8 70.3,615.6 74.9,616.4 79.5,617.2 84.0,616.1 88.6,615.1 93.2,614.1 97.8,610.9 102.4,607.8 107.0,602.8 111.6,597.8 116.2,593.0 120.8,588.2 125.4,584.7 130.0,582.5 134.6,581.1 139.1,581.8 143.7,582.5 148.3,583.2 152.9,584.6 157.5,592.1 162.1,597.7 166.7,603.3"/>
<polyline stroke="#12b0ea" points="61.1,583.1 65.7,583.6 70.3,584.1 74.9,584.6 79.5,583.9 84.0,583.1 88.6,581.2 93.2,578.7 97.8,578.5 102.4,579.4 107.0,580.4 111.6,581.4 116.2,583.7 120.8,586.1 125.4,588.2 130.0,586.6 134.6,584.4 139.1,581.5 143.7,581.2 148.3,581.7 152.9,582.1 157.5,583.8 162.1,585.5 166.7,587.1"/>
<polyline stroke="#c8102e" points="61.1,628.5 65.7,629.1 70.3,629.7 74.9,628.1 79.5,626.6 84.0,620.3 88.6,614.1 93.2,607.8 97.8,605.9 102.4,610.9 107.0,612.5 111.6,614.1 116.2,615.0 120.8,615.9 125.4,613.4 130.0,610.9 134.6,609.4 139.1,607.8 143.7,610.9 148.3,614.1 152.9,615.6 157.5,617.2 162.1,618.8 166.7,620.3"/>
<polyline stroke="#0a6ec4" points="61.1,607.8 65.7,608.8 70.3,609.9 74.9,610.9 79.5,609.9 84.0,608.8 88.6,607.8 93.2,606.8 97.8,605.7 102.4,604.7 107.0,603.1 111.6,601.5 116.2,596.8 120.8,592.1 125.4,585.9 130.0,579.6 134.6,572.8 139.1,567.9 143.7,570.2 148.3,574.9 152.9,579.6 157.5,582.7 162.1,585.9 166.7,589.0"/>
<polyline stroke="#ff4a00" points="61.1,629.4 65.7,630.6 70.3,631.5 74.9,630.9 79.5,630.3 84.0,629.6 88.6,628.2 93.2,626.1 97.8,624.0 102.4,621.7 107.0,619.0 111.6,617.9 116.2,618.1 120.8,618.4 125.4,617.8 130.0,617.2 134.6,615.7 139.1,614.2 143.7,614.7 148.3,617.2 152.9,619.7 157.5,622.2 162.1,624.7 166.7,627.2"/>
<polyline stroke="#ffaa00" points="61.1,620.3 65.7,619.7 70.3,619.1 74.9,618.4 79.5,618.0 84.0,617.6 88.6,617.2 93.2,615.6 97.8,614.1 102.4,612.5 107.0,610.9 111.6,609.4 116.2,607.8 120.8,607.8 125.4,607.8 130.0,609.4 134.6,610.9 139.1,609.4 143.7,607.8 148.3,610.9 152.9,614.1 157.5,615.1 162.1,616.1 166.7,617.2"/>
<polyline stroke="#8c1aa8" points="61.1,604.7 65.7,604.7 70.3,604.7 74.9,606.2 79.5,607.8 84.0,606.2 88.6,604.7 93.2,603.1 97.8,601.5 102.4,603.1 107.0,604.7 111.6,604.7 116.2,604.7 120.8,604.7 125.4,604.7 130.0,603.1 134.6,601.5 139.1,603.1 143.7,604.7 148.3,607.8 152.9,610.9 157.5,612.0 162.1,613.0 166.7,614.1"/>
<polyline stroke="#5db320" points="61.1,626.6 65.7,628.0 70.3,629.5 74.9,631.0 79.5,631.0 84.0,631.0 88.6,628.8 93.2,625.3 97.8,622.6 102.4,620.3 107.0,620.8 111.6,621.2 116.2,620.9 120.8,620.6 125.4,620.3 130.0,618.8 134.6,617.2 139.1,615.3 143.7,614.4 148.3,617.4 152.9,620.3 157.5,623.6 162.1,626.9 166.7,630.2"/>
<polyline stroke="#12b0ea" points="61.1,614.1 65.7,615.1 70.3,616.1 74.9,617.2 79.5,616.6 84.0,615.9 88.6,613.4 93.2,610.9 97.8,614.1 102.4,617.2 107.0,615.6 111.6,614.1 116.2,612.5 120.8,610.9 125.4,611.6 130.0,612.2 134.6,611.6 139.1,610.9 143.7,612.5 148.3,614.1 152.9,615.2 157.5,616.3 162.1,617.3 166.7,618.4"/>
<polyline stroke="#c8102e" points="61.1,623.5 65.7,623.9 70.3,624.3 74.9,624.7 79.5,624.1 84.0,623.5 88.6,621.9 93.2,620.3 97.8,615.6 102.4,610.9 107.0,609.4 111.6,607.8 116.2,606.2 120.8,604.7 125.4,603.1 130.0,601.5 134.6,600.0 139.1,598.4 143.7,601.5 148.3,604.7 152.9,607.0 157.5,609.4 162.1,611.7 166.7,614.1"/>
<polyline stroke="#0a6ec4" points="61.1,610.9 65.7,612.0 70.3,613.0 74.9,614.1 79.5,613.0 84.0,612.0 88.6,610.9 93.2,609.4 97.8,607.8 102.4,604.7 107.0,601.5 111.6,603.1 116.2,604.7 120.8,607.2 125.4,609.7 130.0,608.7 134.6,607.8 139.1,606.2 143.7,604.7 148.3,606.2 152.9,607.8 157.5,608.8 162.1,609.9 166.7,610.9"/>
<polyline stroke="#ff4a00" points="61.1,624.7 65.7,625.3 70.3,626.0 74.9,626.6 79.5,624.5 84.0,622.4 88.6,620.3 93.2,615.6 97.8,610.9 102.4,609.4 107.0,607.8 111.6,608.7 116.2,609.7 120.8,610.3 125.4,610.9 130.0,607.8 134.6,604.7 139.1,603.1 143.7,601.5 148.3,604.7 152.9,607.8 157.5,610.9 162.1,614.1 166.7,617.2"/>
<polyline stroke="#ffaa00" points="61.1,617.2 65.7,616.1 70.3,615.1 74.9,614.1 79.5,613.0 84.0,612.0 88.6,610.9 93.2,607.8 97.8,604.7 102.4,606.2 107.0,607.8 111.6,612.5 116.2,617.2 120.8,618.8 125.4,620.3 130.0,618.8 134.6,617.2 139.1,614.1 143.7,610.9 148.3,612.5 152.9,614.1 157.5,616.1 162.1,618.2 166.7,620.3"/>
<polyline stroke="#8c1aa8" points="61.1,607.8 65.7,608.4 70.3,609.0 74.9,609.7 79.5,609.0 84.0,608.4 88.6,607.8 93.2,609.4 97.8,610.9 102.4,609.4 107.0,607.8 111.6,604.7 116.2,601.5 120.8,600.0 125.4,598.4 130.0,600.0 134.6,601.5 139.1,603.1 143.7,604.7 148.3,606.2 152.9,607.8 157.5,608.8 162.1,609.9 166.7,610.9"/>
<polyline stroke="#5db320" points="61.1,620.3 65.7,620.9 70.3,621.6 74.9,622.2 79.5,619.5 84.0,616.8 88.6,614.1 93.2,609.4 97.8,604.7 102.4,601.5 107.0,598.4 111.6,596.8 116.2,595.3 120.8,593.7 125.4,592.1 130.0,593.7 134.6,595.3 139.1,596.8 143.7,598.4 148.3,600.0 152.9,601.5 157.5,603.6 162.1,605.7 166.7,607.8"/>
<polyline stroke="#12b0ea" points="61.1,631.0 65.7,630.5 70.3,630.1 74.9,629.7 79.5,628.7 84.0,627.6 88.6,626.6 93.2,623.5 97.8,620.3 102.4,619.4 107.0,618.4 111.6,620.9 116.2,623.5 120.8,622.8 125.4,622.2 130.0,620.3 134.6,618.4 139.1,617.8 143.7,617.2 148.3,618.8 152.9,620.3 157.5,622.4 162.1,624.5 166.7,626.6"/>
</g>
<path d="M56.5 648.5v-1.1M56.5 544.8v1.1M102.4 648.5v-1.1M102.4 544.8v1.1M148.3 648.5v-1.1M148.3 544.8v1.1M56.5 648.5h1.1M166.7 648.5h-1.1M56.5 617.2h1.1M166.7 617.2h-1.1M56.5 585.9h1.1M166.7 585.9h-1.1M56.5 554.6h1.1M166.7 554.6h-1.1" stroke="#262626" stroke-width="1" fill="none"/>
<text class="k" x="56.5" y="664.5" font-size="12.3" text-anchor="middle" fill="#262626">0</text>
<text class="k" x="102.4" y="664.5" font-size="12.3" text-anchor="middle" fill="#262626">10</text>
<text class="k" x="148.3" y="664.5" font-size="12.3" text-anchor="middle" fill="#262626">20</text>
<text class="k" x="52.0" y="653.7" font-size="12.3" text-anchor="end" fill="#262626">1000</text>
<text class="k" x="52.0" y="622.4" font-size="12.3" text-anchor="end" fill="#262626">1500</text>
<text class="k" x="52.0" y="591.1" font-size="12.3" text-anchor="end" fill="#262626">2000</text>
<text class="k" x="52.0" y="559.8" font-size="12.3" text-anchor="end" fill="#262626">2500</text>
<text class="t" x="30.4" y="538.9" font-size="12.6" textLength="162.4" lengthAdjust="spacing" fill="#000">typical daily 4 frequency20</text>
<text x="81.5" y="685.7" font-size="16.5" textLength="60.2" lengthAdjust="spacingAndGlyphs" fill="#262626">time (h)</text>
<text transform="translate(11.5 596.6) rotate(-90)" x="0" y="6.3" font-size="17.4" text-anchor="middle" fill="#262626">power (kW)</text>
<rect x="232.9" y="544.8" width="110.2" height="103.7" fill="none" stroke="#262626" stroke-width="1"/>
<clipPath id="c10"><rect x="230.9" y="542.8" width="114.2" height="107.7"/></clipPath>
<g clip-path="url(#c10)" fill="none" stroke-width="2.6" stroke-linejoin="round" stroke-linecap="butt">
<polyline stroke="#0a6ec4" points="237.5,611.9 242.1,615.1 246.7,617.9 251.3,620.4 255.9,622.9 260.4,623.6 265.0,622.5 269.6,620.0 274.2,615.5 278.8,609.6 283.4,601.9 288.0,593.7 292.6,586.1 297.2,580.3 301.8,576.8 306.4,575.5 311.0,578.2 315.6,582.3 320.1,587.5 324.7,592.9 329.3,598.3 333.9,603.8 338.5,609.5 343.1,615.1"/>
<polyline stroke="#ff4a00" points="237.5,612.0 242.1,614.6 246.7,616.2 251.3,616.8 255.9,617.5 260.4,615.4 265.0,612.6 269.6,609.5 274.2,604.6 278.8,598.0 283.4,588.8 288.0,579.5 292.6,572.1 297.2,567.0 301.8,564.4 306.4,562.7 311.0,564.1 315.6,566.6 320.1,570.2 324.7,574.2 329.3,579.1 333.9,584.6 338.5,590.1 343.1,595.7"/>
<polyline stroke="#ffaa00" points="237.5,614.3 242.1,615.8 246.7,616.6 251.3,616.8 255.9,617.1 260.4,614.3 265.0,610.9 269.6,607.3 274.2,602.1 278.8,595.6 283.4,587.3 288.0,580.1 292.6,575.8 297.2,573.8 301.8,573.4 306.4,573.6 311.0,576.5 315.6,580.0 320.1,584.3 324.7,589.1 329.3,594.6 333.9,600.8 338.5,607.2 343.1,613.4"/>
<polyline stroke="#8c1aa8" points="237.5,627.9 242.1,629.4 246.7,630.4 251.3,630.3 255.9,630.2 260.4,629.7 265.0,627.0 269.6,623.5 274.2,619.1 278.8,614.5 283.4,608.8 288.0,600.2 292.6,592.1 297.2,585.6 301.8,581.6 306.4,580.3 311.0,583.4 315.6,588.2 320.1,594.4 324.7,601.3 329.3,606.1 333.9,610.1 338.5,615.4 343.1,621.4"/>
<polyline stroke="#5db320" points="237.5,615.6 242.1,616.0 246.7,615.7 251.3,615.1 255.9,614.9 260.4,611.6 265.0,608.3 269.6,604.9 274.2,599.5 278.8,592.2 283.4,581.6 288.0,571.0 292.6,563.3 297.2,558.8 301.8,557.6 306.4,557.1 311.0,559.8 315.6,563.7 320.1,568.9 324.7,574.4 329.3,580.9 333.9,587.8 338.5,594.7 343.1,601.9"/>
<polyline stroke="#12b0ea" points="237.5,616.6 242.1,617.8 246.7,618.4 251.3,618.3 255.9,618.4 260.4,616.1 265.0,613.1 269.6,610.2 274.2,605.8 278.8,600.2 283.4,593.0 288.0,586.2 292.6,580.7 297.2,576.5 301.8,573.6 306.4,571.3 311.0,571.8 315.6,573.3 320.1,576.1 324.7,580.0 329.3,585.6 333.9,592.4 338.5,599.8 343.1,607.4"/>
<polyline stroke="#c8102e" points="237.5,606.9 242.1,609.4 246.7,611.0 251.3,611.8 255.9,612.7 260.4,609.9 265.0,606.7 269.6,603.2 274.2,597.3 278.8,588.9 283.4,577.4 288.0,567.8 292.6,561.8 297.2,559.3 301.8,559.7 306.4,560.4 311.0,563.9 315.6,568.0 320.1,572.5 324.7,577.0 329.3,581.9 333.9,587.2 338.5,592.6 343.1,598.2"/>
<polyline stroke="#0a6ec4" points="237.5,607.4 242.1,610.3 246.7,612.3 251.3,613.7 255.9,615.0 260.4,613.0 265.0,610.4 269.6,607.5 274.2,602.4 278.8,595.6 283.4,586.1 288.0,576.5 292.6,569.1 297.2,564.1 301.8,561.5 306.4,559.3 311.0,559.9 315.6,561.5 320.1,564.6 324.7,568.6 329.3,574.4 333.9,581.0 338.5,587.8 343.1,594.9"/>
<polyline stroke="#ff4a00" points="237.5,626.2 242.1,628.1 246.7,629.6 251.3,630.1 255.9,630.3 260.4,629.6 265.0,626.2 269.6,621.5 274.2,615.1 278.8,607.7 283.4,598.8 288.0,589.7 292.6,582.4 297.2,577.5 301.8,575.1 306.4,574.5 311.0,577.5 315.6,581.6 320.1,586.5 324.7,591.6 329.3,597.0 333.9,602.9 338.5,609.2 343.1,615.7"/>
<polyline stroke="#ffaa00" points="237.5,612.5 242.1,614.3 246.7,615.6 251.3,616.1 255.9,616.7 260.4,614.1 265.0,610.5 269.6,606.4 274.2,600.1 278.8,591.8 283.4,580.5 288.0,569.2 292.6,561.0 297.2,556.2 301.8,554.5 306.4,552.9 311.0,554.1 315.6,556.4 320.1,561.0 324.7,567.1 329.3,574.9 333.9,583.2 338.5,591.5 343.1,599.6"/>
<polyline stroke="#8c1aa8" points="237.5,615.9 242.1,617.3 246.7,617.9 251.3,617.9 255.9,618.2 260.4,616.2 265.0,613.8 269.6,611.6 274.2,608.1 278.8,603.9 283.4,598.8 288.0,594.4 292.6,590.9 297.2,587.6 301.8,584.3 306.4,581.5 311.0,580.8 315.6,579.9 320.1,579.7 324.7,580.5 329.3,583.3 333.9,588.1 338.5,594.2 343.1,601.2"/>
<polyline stroke="#5db320" points="237.5,627.6 242.1,629.1 246.7,630.3 251.3,630.6 255.9,630.9 260.4,630.6 265.0,628.0 269.6,624.2 274.2,619.1 278.8,613.6 283.4,607.3 288.0,601.1 292.6,595.5 297.2,590.7 301.8,587.5 306.4,586.6 311.0,589.3 315.6,592.8 320.1,597.1 324.7,601.6 329.3,606.0 333.9,610.9 338.5,616.4 343.1,621.7"/>
<polyline stroke="#12b0ea" points="237.5,616.6 242.1,618.2 246.7,619.3 251.3,619.8 255.9,620.7 260.4,619.6 265.0,617.5 269.6,614.7 274.2,610.0 278.8,603.8 283.4,595.3 288.0,586.0 292.6,577.4 297.2,570.3 301.8,565.5 306.4,561.5 311.0,560.8 315.6,561.5 320.1,564.4 324.7,568.8 329.3,575.3 333.9,582.8 338.5,590.3 343.1,597.8"/>
<polyline stroke="#c8102e" points="237.5,623.3 242.1,626.1 246.7,628.3 251.3,629.5 255.9,630.4 260.4,630.4 265.0,627.7 269.6,623.5 274.2,617.8 278.8,611.2 283.4,603.6 288.0,596.2 292.6,589.9 297.2,585.3 301.8,582.5 306.4,581.6 311.0,584.2 315.6,587.5 320.1,591.6 324.7,596.0 329.3,600.5 333.9,605.5 338.5,610.7 343.1,615.8"/>
<polyline stroke="#0a6ec4" points="237.5,603.8 242.1,608.0 246.7,611.1 251.3,613.4 255.9,615.3 260.4,613.7 265.0,611.1 269.6,607.7 274.2,602.2 278.8,594.5 283.4,583.8 288.0,572.6 292.6,563.7 297.2,557.7 301.8,554.7 306.4,551.7 311.0,554.6 315.6,559.1 320.1,564.6 324.7,569.9 329.3,575.9 333.9,581.9 338.5,587.5 343.1,595.3"/>
<polyline stroke="#ff4a00" points="237.5,627.5 242.1,628.2 246.7,628.6 251.3,628.1 255.9,627.5 260.4,625.5 265.0,621.4 269.6,616.6 274.2,610.5 278.8,603.4 283.4,594.8 288.0,586.7 292.6,580.6 297.2,576.9 301.8,575.4 306.4,575.5 311.0,578.9 315.6,583.2 320.1,588.0 324.7,592.5 329.3,596.5 333.9,600.4 338.5,604.0 343.1,607.5"/>
<polyline stroke="#ffaa00" points="237.5,629.4 242.1,631.5 246.7,632.6 251.3,632.2 255.9,632.0 260.4,631.8 265.0,629.1 269.6,625.6 274.2,620.8 278.8,615.5 283.4,608.5 288.0,601.2 292.6,594.3 297.2,588.3 301.8,584.0 306.4,581.6 311.0,582.5 315.6,584.4 320.1,587.6 324.7,591.6 329.3,596.5 333.9,602.6 338.5,609.4 343.1,616.2"/>
<polyline stroke="#8c1aa8" points="237.5,612.8 242.1,614.7 246.7,615.7 251.3,615.9 255.9,615.8 260.4,612.3 265.0,608.2 269.6,603.9 274.2,597.8 278.8,589.7 283.4,578.4 288.0,567.3 292.6,559.6 297.2,555.4 301.8,554.5 306.4,553.9 311.0,556.5 315.6,560.5 320.1,566.0 324.7,572.0 329.3,579.0 333.9,586.2 338.5,592.8 343.1,599.1"/>
<polyline stroke="#5db320" points="237.5,625.0 242.1,625.9 246.7,626.2 251.3,625.8 255.9,625.4 260.4,623.2 265.0,619.1 269.6,614.3 274.2,607.6 278.8,599.6 283.4,589.3 288.0,579.1 292.6,571.4 297.2,566.6 301.8,564.7 306.4,563.8 311.0,566.4 315.6,570.6 320.1,576.3 324.7,582.8 329.3,590.1 333.9,597.7 338.5,605.3 343.1,612.5"/>
<polyline stroke="#12b0ea" points="237.5,628.4 242.1,629.6 246.7,631.0 251.3,631.9 255.9,633.0 260.4,633.3 265.0,629.1 269.6,623.8 274.2,617.4 278.8,610.8 283.4,603.7 288.0,597.1 292.6,591.7 297.2,587.6 301.8,585.1 306.4,584.6 311.0,587.7 315.6,592.0 320.1,597.4 324.7,601.3 329.3,604.9 333.9,609.6 338.5,615.2 343.1,621.3"/>
<polyline stroke="#c8102e" points="237.5,605.0 242.1,608.2 246.7,610.7 251.3,612.4 255.9,614.1 260.4,612.2 265.0,609.9 269.6,607.1 274.2,602.1 278.8,595.3 283.4,585.8 288.0,576.4 292.6,569.5 297.2,565.7 301.8,564.6 306.4,564.6 311.0,568.1 315.6,573.0 320.1,579.3 324.7,586.1 329.3,593.4 333.9,601.0 338.5,608.5 343.1,615.4"/>
<polyline stroke="#0a6ec4" points="237.5,627.1 242.1,629.6 246.7,631.8 251.3,633.1 255.9,633.3 260.4,633.2 265.0,630.6 269.6,626.6 274.2,620.1 278.8,613.0 283.4,604.8 288.0,596.5 292.6,589.3 297.2,583.8 301.8,580.6 306.4,579.5 311.0,582.1 315.6,586.0 320.1,590.9 324.7,596.3 329.3,601.6 333.9,607.2 338.5,612.8 343.1,618.1"/>
<polyline stroke="#ff4a00" points="237.5,605.7 242.1,609.2 246.7,611.4 251.3,612.7 255.9,613.8 260.4,610.9 265.0,607.3 269.6,603.3 274.2,597.0 278.8,588.5 283.4,577.7 288.0,567.1 292.6,559.4 297.2,555.1 301.8,554.1 306.4,553.5 311.0,556.1 315.6,560.3 320.1,565.9 324.7,571.7 329.3,578.3 333.9,585.0 338.5,591.3 343.1,597.5"/>
<polyline stroke="#ffaa00" points="237.5,613.3 242.1,616.5 246.7,619.0 251.3,621.0 255.9,623.1 260.4,623.6 265.0,622.5 269.6,620.1 274.2,615.7 278.8,609.9 283.4,602.3 288.0,594.1 292.6,586.6 297.2,580.8 301.8,577.4 306.4,576.2 311.0,578.9 315.6,582.9 320.1,587.9 324.7,593.3 329.3,598.9 333.9,604.6 338.5,610.3 343.1,615.7"/>
<polyline stroke="#8c1aa8" points="237.5,626.9 242.1,628.2 246.7,629.7 251.3,630.7 255.9,632.0 260.4,633.5 265.0,629.7 269.6,624.1 274.2,617.5 278.8,610.8 283.4,603.6 288.0,597.3 292.6,592.6 297.2,589.3 301.8,587.5 306.4,586.8 311.0,588.9 315.6,592.9 320.1,596.6 324.7,599.1 329.3,601.3 333.9,604.2 338.5,607.9 343.1,612.2"/>
<polyline stroke="#5db320" points="237.5,611.0 242.1,613.3 246.7,614.6 251.3,615.3 255.9,616.1 260.4,613.8 265.0,610.9 269.6,607.5 274.2,601.8 278.8,593.9 283.4,582.6 288.0,570.8 292.6,561.7 297.2,555.9 301.8,553.7 306.4,551.9 311.0,553.5 315.6,556.6 320.1,561.7 324.7,567.8 329.3,575.7 333.9,584.2 338.5,592.5 343.1,600.9"/>
<polyline stroke="#12b0ea" points="237.5,622.1 242.1,623.6 246.7,624.8 251.3,625.1 255.9,625.4 260.4,624.1 265.0,621.0 269.6,617.0 274.2,611.6 278.8,605.4 283.4,598.0 288.0,591.1 292.6,586.0 297.2,582.4 301.8,580.3 306.4,579.5 311.0,581.7 315.6,584.3 320.1,587.7 324.7,591.2 329.3,595.5 333.9,600.5 338.5,606.4 343.1,612.7"/>
<polyline stroke="#c8102e" points="237.5,608.2 242.1,611.3 246.7,613.5 251.3,614.7 255.9,615.7 260.4,613.3 265.0,609.9 269.6,605.8 274.2,599.5 278.8,590.9 283.4,578.7 288.0,566.3 292.6,559.0 297.2,556.0 301.8,555.9 306.4,555.9 311.0,558.9 315.6,562.9 320.1,567.9 324.7,573.1 329.3,579.1 333.9,585.2 338.5,591.1 343.1,597.0"/>
<polyline stroke="#0a6ec4" points="237.5,624.7 242.1,625.9 246.7,626.9 251.3,627.0 255.9,627.0 260.4,625.3 265.0,621.2 269.6,616.1 274.2,609.3 278.8,601.2 283.4,591.1 288.0,581.3 292.6,574.2 297.2,570.2 301.8,569.1 306.4,569.5 311.0,573.4 315.6,578.5 320.1,584.7 324.7,591.3 329.3,597.8 333.9,604.5 338.5,610.9 343.1,616.6"/>
<polyline stroke="#ff4a00" points="237.5,626.4 242.1,627.0 246.7,627.8 251.3,628.0 255.9,628.2 260.4,627.2 265.0,623.5 269.6,618.4 274.2,611.4 278.8,602.8 283.4,591.7 288.0,580.3 292.6,571.4 297.2,566.1 301.8,564.5 306.4,564.5 311.0,568.2 315.6,573.4 320.1,579.9 324.7,586.8 329.3,594.3 333.9,602.2 338.5,610.3 343.1,618.2"/>
<polyline stroke="#ffaa00" points="237.5,605.1 242.1,608.4 246.7,610.7 251.3,612.5 255.9,614.5 260.4,613.3 265.0,611.5 269.6,609.0 274.2,604.0 278.8,596.6 283.4,585.9 288.0,574.3 292.6,564.6 297.2,557.9 301.8,554.6 306.4,551.9 311.0,553.8 315.6,557.7 320.1,562.9 324.7,568.6 329.3,575.5 333.9,582.7 338.5,589.3 343.1,595.5"/>
<polyline stroke="#8c1aa8" points="237.5,615.7 242.1,617.5 246.7,618.9 251.3,619.7 255.9,620.8 260.4,619.9 265.0,618.0 269.6,615.6 274.2,611.4 278.8,606.2 283.4,599.5 288.0,593.1 292.6,587.9 297.2,584.2 301.8,582.3 306.4,582.2 311.0,585.7 315.6,589.7 320.1,594.1 324.7,598.2 329.3,601.8 333.9,605.5 338.5,609.4 343.1,613.4"/>
<polyline stroke="#5db320" points="237.5,630.7 242.1,630.6 246.7,630.0 251.3,628.9 255.9,628.1 260.4,626.5 265.0,623.0 269.6,619.2 274.2,614.2 278.8,608.8 283.4,602.7 288.0,597.3 292.6,593.1 297.2,590.0 301.8,588.2 306.4,585.9 311.0,587.3 315.6,589.6 320.1,593.0 324.7,597.0 329.3,601.5 333.9,607.1 338.5,613.5 343.1,620.2"/>
<polyline stroke="#12b0ea" points="237.5,608.6 242.1,609.1 246.7,609.5 251.3,609.9 255.9,611.1 260.4,608.9 265.0,607.1 269.6,605.2 274.2,601.0 278.8,594.7 283.4,585.4 288.0,575.5 292.6,567.4 297.2,561.4 301.8,557.7 306.4,554.1 311.0,553.3 315.6,558.2 320.1,564.4 324.7,570.4 329.3,577.2 333.9,583.9 338.5,590.3 343.1,596.4"/>
<polyline stroke="#c8102e" points="237.5,623.0 242.1,624.1 246.7,624.6 251.3,624.2 255.9,624.0 260.4,621.9 265.0,618.3 269.6,614.2 274.2,608.4 278.8,601.3 283.4,592.2 288.0,583.5 292.6,577.2 297.2,573.7 301.8,572.6 306.4,573.0 311.0,576.7 315.6,581.2 320.1,586.3 324.7,591.3 329.3,596.2 333.9,601.4 338.5,606.7 343.1,612.0"/>
<polyline stroke="#0a6ec4" points="237.5,611.3 242.1,614.3 246.7,616.2 251.3,616.8 255.9,616.9 260.4,613.4 265.0,608.8 269.6,604.0 274.2,597.5 278.8,588.9 283.4,577.2 288.0,566.6 292.6,559.4 297.2,556.0 301.8,555.7 306.4,555.3 311.0,557.5 315.6,560.3 320.1,563.8 324.7,567.4 329.3,572.7 333.9,581.3 338.5,588.9 343.1,595.9"/>
<polyline stroke="#ff4a00" points="237.5,619.0 242.1,620.8 246.7,622.0 251.3,622.2 255.9,622.4 260.4,620.4 265.0,616.7 269.6,612.4 274.2,606.2 278.8,598.6 283.4,588.5 288.0,578.8 292.6,572.0 297.2,568.3 301.8,567.4 306.4,567.6 311.0,570.8 315.6,574.8 320.1,579.2 324.7,583.6 329.3,588.5 333.9,594.0 338.5,600.0 343.1,606.5"/>
<polyline stroke="#ffaa00" points="237.5,627.5 242.1,629.0 246.7,630.2 251.3,630.6 255.9,631.1 260.4,631.5 265.0,629.4 269.6,626.2 274.2,621.3 278.8,614.7 283.4,607.5 288.0,600.5 292.6,594.4 297.2,589.6 301.8,586.7 306.4,585.9 311.0,588.6 315.6,592.1 320.1,596.0 324.7,600.1 329.3,604.2 333.9,609.1 338.5,614.8 343.1,621.1"/>
<polyline stroke="#8c1aa8" points="237.5,603.7 242.1,607.4 246.7,609.9 251.3,611.7 255.9,613.4 260.4,611.4 265.0,609.1 269.6,606.4 274.2,601.5 278.8,594.6 283.4,584.9 288.0,575.3 292.6,568.3 297.2,564.1 301.8,562.7 306.4,561.8 311.0,564.0 315.6,567.1 320.1,571.3 324.7,575.7 329.3,581.3 333.9,587.3 338.5,593.4 343.1,599.9"/>
<polyline stroke="#5db320" points="237.5,618.3 242.1,621.0 246.7,623.1 251.3,624.3 255.9,625.3 260.4,624.6 265.0,622.0 269.6,618.3 274.2,612.7 278.8,606.0 283.4,597.5 288.0,588.6 292.6,581.2 297.2,575.6 301.8,572.4 306.4,570.6 311.0,572.1 315.6,574.5 320.1,578.2 324.7,582.6 329.3,588.0 333.9,594.4 338.5,601.1 343.1,608.0"/>
<polyline stroke="#12b0ea" points="237.5,627.8 242.1,630.2 246.7,632.4 251.3,633.3 255.9,633.1 260.4,633.2 265.0,630.9 269.6,626.3 274.2,619.9 278.8,613.0 283.4,605.4 288.0,598.1 292.6,592.5 297.2,588.9 301.8,587.5 306.4,585.9 311.0,586.4 315.6,588.3 320.1,591.6 324.7,596.1 329.3,601.6 333.9,608.2 338.5,615.8 343.1,623.7"/>
<polyline stroke="#c8102e" points="237.5,613.7 242.1,616.0 246.7,617.4 251.3,617.9 255.9,618.3 260.4,615.6 265.0,612.0 269.6,608.3 274.2,602.8 278.8,596.2 283.4,587.8 288.0,580.4 292.6,576.0 297.2,574.0 301.8,573.8 306.4,574.3 311.0,577.5 315.6,581.0 320.1,584.9 324.7,588.6 329.3,592.6 333.9,597.2 338.5,602.2 343.1,607.3"/>
<polyline stroke="#0a6ec4" points="237.5,630.2 242.1,629.6 246.7,629.8 251.3,629.9 255.9,630.8 260.4,632.0 265.0,630.7 269.6,624.1 274.2,615.9 278.8,606.8 283.4,595.9 288.0,584.7 292.6,575.8 297.2,570.0 301.8,567.8 306.4,567.5 311.0,571.5 315.6,577.3 320.1,584.5 324.7,592.3 329.3,599.8 333.9,607.2 338.5,614.1 343.1,620.3"/>
<polyline stroke="#ff4a00" points="237.5,608.8 242.1,611.9 246.7,613.5 251.3,613.9 255.9,614.1 260.4,610.4 265.0,606.2 269.6,601.9 274.2,596.6 278.8,589.7 283.4,579.3 288.0,568.7 292.6,560.9 297.2,556.1 301.8,554.2 306.4,552.3 311.0,553.2 315.6,557.4 320.1,562.8 324.7,568.7 329.3,575.7 333.9,583.0 338.5,590.0 343.1,597.0"/>
<polyline stroke="#ffaa00" points="237.5,607.7 242.1,611.1 246.7,613.8 251.3,615.9 255.9,618.1 260.4,617.9 265.0,616.9 269.6,615.1 274.2,611.3 278.8,605.8 283.4,598.3 288.0,590.1 292.6,582.7 297.2,576.9 301.8,573.4 306.4,571.5 311.0,573.1 315.6,575.9 320.1,580.0 324.7,584.8 329.3,590.5 333.9,596.8 338.5,603.3 343.1,609.7"/>
<polyline stroke="#8c1aa8" points="237.5,630.6 242.1,631.3 246.7,631.4 251.3,630.7 255.9,630.0 260.4,628.5 265.0,624.5 269.6,619.7 274.2,613.5 278.8,606.8 283.4,598.8 288.0,591.1 292.6,585.3 297.2,581.6 301.8,579.9 306.4,579.9 311.0,583.2 315.6,587.0 320.1,591.4 324.7,596.1 329.3,601.0 333.9,606.8 338.5,613.4 343.1,620.2"/>
<polyline stroke="#5db320" points="237.5,604.9 242.1,608.4 246.7,611.1 251.3,613.2 255.9,615.4 260.4,614.3 265.0,612.3 269.6,609.4 274.2,604.0 278.8,596.3 283.4,585.5 288.0,574.0 292.6,564.9 297.2,559.2 301.8,556.9 306.4,555.4 311.0,557.3 315.6,560.7 320.1,565.6 324.7,571.2 329.3,578.1 333.9,585.4 338.5,592.5 343.1,599.7"/>
<polyline stroke="#12b0ea" points="237.5,616.1 242.1,618.7 246.7,620.7 251.3,622.0 255.9,623.4 260.4,623.3 265.0,621.7 269.6,619.3 274.2,615.2 278.8,610.2 283.4,604.1 288.0,597.8 292.6,591.5 297.2,585.9 301.8,581.8 306.4,579.5 311.0,580.8 315.6,583.1 320.1,586.6 324.7,590.6 329.3,595.1 333.9,600.2 338.5,605.8 343.1,611.6"/>
<polyline stroke="#c8102e" points="237.5,607.3 242.1,610.1 246.7,611.7 251.3,612.3 255.9,612.9 260.4,609.4 265.0,605.4 269.6,601.8 274.2,597.1 278.8,590.1 283.4,579.3 288.0,568.0 292.6,559.1 297.2,554.1 301.8,554.7 306.4,555.1 311.0,558.2 315.6,562.0 320.1,566.5 324.7,570.9 329.3,576.1 333.9,581.7 338.5,587.1 343.1,595.8"/>
<polyline stroke="#0a6ec4" points="237.5,613.2 242.1,615.8 246.7,617.5 251.3,618.4 255.9,619.1 260.4,617.1 265.0,614.0 269.6,610.4 274.2,605.1 278.8,598.6 283.4,590.0 288.0,581.7 292.6,575.5 297.2,571.3 301.8,569.1 306.4,567.6 311.0,569.2 315.6,571.9 320.1,576.3 324.7,582.1 329.3,589.3 333.9,597.4 338.5,605.8 343.1,613.7"/>
<polyline stroke="#ff4a00" points="237.5,621.1 242.1,624.0 246.7,626.4 251.3,628.1 255.9,629.5 260.4,630.2 265.0,628.1 269.6,624.4 274.2,619.0 278.8,612.8 283.4,605.5 288.0,598.2 292.6,592.0 297.2,587.4 301.8,585.0 306.4,584.9 311.0,588.6 315.6,593.0 320.1,597.3 324.7,601.6 329.3,606.4 333.9,611.8 338.5,617.8 343.1,623.7"/>
<polyline stroke="#ffaa00" points="237.5,622.4 242.1,624.4 246.7,625.6 251.3,625.7 255.9,625.2 260.4,622.6 265.0,617.8 269.6,612.1 274.2,604.5 278.8,595.1 283.4,582.8 288.0,570.3 292.6,560.9 297.2,555.3 301.8,553.5 306.4,552.1 311.0,553.7 315.6,556.5 320.1,560.9 324.7,565.8 329.3,573.0 333.9,580.4 338.5,587.4 343.1,594.7"/>
<polyline stroke="#8c1aa8" points="237.5,617.8 242.1,620.4 246.7,622.8 251.3,624.6 255.9,626.3 260.4,626.9 265.0,625.3 269.6,622.5 274.2,617.9 278.8,612.3 283.4,605.7 288.0,598.6 292.6,591.9 297.2,586.1 301.8,582.3 306.4,580.5 311.0,582.5 315.6,585.5 320.1,589.4 324.7,593.6 329.3,597.9 333.9,602.7 338.5,607.9 343.1,613.2"/>
<polyline stroke="#5db320" points="237.5,625.3 242.1,627.7 246.7,630.0 251.3,631.5 255.9,632.7 260.4,633.6 265.0,630.6 269.6,626.0 274.2,620.0 278.8,613.7 283.4,606.8 288.0,600.0 292.6,594.3 297.2,590.0 301.8,587.2 306.4,586.6 311.0,589.1 315.6,592.2 320.1,595.9 324.7,600.2 329.3,604.8 333.9,610.4 338.5,616.8 343.1,623.2"/>
<polyline stroke="#12b0ea" points="237.5,610.7 242.1,613.4 246.7,615.5 251.3,617.1 255.9,618.8 260.4,618.0 265.0,616.2 269.6,613.7 274.2,609.0 278.8,602.8 283.4,594.3 288.0,585.2 292.6,577.4 297.2,571.4 301.8,567.8 306.4,565.4 311.0,566.4 315.6,569.0 320.1,573.4 324.7,578.9 329.3,585.8 333.9,593.1 338.5,600.3 343.1,606.9"/>
<polyline stroke="#c8102e" points="237.5,622.4 242.1,623.5 246.7,624.2 251.3,624.0 255.9,623.7 260.4,621.5 265.0,617.8 269.6,613.6 274.2,608.2 278.8,601.8 283.4,594.0 288.0,586.7 292.6,581.4 297.2,577.9 301.8,576.3 306.4,576.3 311.0,579.8 315.6,584.7 320.1,590.7 324.7,597.3 329.3,603.9 333.9,610.7 338.5,617.4 343.1,623.4"/>
<polyline stroke="#0a6ec4" points="237.5,613.8 242.1,616.4 246.7,617.8 251.3,618.1 255.9,618.1 260.4,615.0 265.0,610.7 269.6,605.9 274.2,598.9 278.8,589.7 283.4,577.2 288.0,567.4 292.6,560.4 297.2,556.1 301.8,554.2 306.4,552.0 311.0,553.9 315.6,558.6 320.1,564.6 324.7,571.0 329.3,578.4 333.9,585.9 338.5,592.8 343.1,599.6"/>
<polyline stroke="#ff4a00" points="237.5,614.8 242.1,617.9 246.7,620.2 251.3,621.6 255.9,622.8 260.4,621.9 265.0,619.3 269.6,615.8 274.2,610.5 278.8,603.8 283.4,595.2 288.0,586.3 292.6,578.9 297.2,573.5 301.8,570.4 306.4,568.4 311.0,569.5 315.6,571.4 320.1,574.3 324.7,577.5 329.3,581.8 333.9,587.2 338.5,593.3 343.1,600.0"/>
<polyline stroke="#ffaa00" points="237.5,623.9 242.1,625.1 246.7,625.9 251.3,626.1 255.9,626.5 260.4,625.9 265.0,623.8 269.6,621.2 274.2,617.5 278.8,613.7 283.4,608.5 288.0,598.9 292.6,590.2 297.2,583.9 301.8,580.9 306.4,580.8 311.0,585.1 315.6,590.7 320.1,597.0 324.7,601.6 329.3,605.8 333.9,611.3 338.5,617.8 343.1,624.0"/>
<polyline stroke="#8c1aa8" points="237.5,612.9 242.1,615.9 246.7,617.9 251.3,618.6 255.9,618.9 260.4,616.4 265.0,612.7 269.6,608.6 274.2,602.8 278.8,595.4 283.4,585.5 288.0,576.1 292.6,569.5 297.2,565.7 301.8,564.4 306.4,563.5 311.0,565.3 315.6,567.8 320.1,571.3 324.7,575.1 329.3,580.2 333.9,586.1 338.5,592.5 343.1,599.3"/>
<polyline stroke="#5db320" points="237.5,624.3 242.1,624.0 246.7,623.4 251.3,622.2 255.9,621.4 260.4,618.7 265.0,615.4 269.6,612.1 274.2,607.4 278.8,601.8 283.4,594.5 288.0,587.6 292.6,582.2 297.2,578.3 301.8,575.9 306.4,574.5 311.0,576.3 315.6,578.9 320.1,582.6 324.7,586.9 329.3,592.1 333.9,598.1 338.5,604.6 343.1,611.4"/>
<polyline stroke="#12b0ea" points="237.5,603.8 242.1,607.8 246.7,610.7 251.3,612.9 255.9,615.0 260.4,613.8 265.0,611.7 269.6,608.7 274.2,602.9 278.8,594.6 283.4,582.6 288.0,569.4 292.6,558.8 297.2,555.1 301.8,555.1 306.4,554.2 311.0,555.4 315.6,556.9 320.1,561.6 324.7,568.6 329.3,576.8 333.9,585.0 338.5,592.4 343.1,599.0"/>
<polyline stroke="#c8102e" points="237.5,610.4 242.1,614.0 246.7,616.5 251.3,617.9 255.9,619.2 260.4,617.7 265.0,615.3 269.6,612.3 274.2,607.5 278.8,601.3 283.4,593.4 288.0,585.5 292.6,579.3 297.2,574.8 301.8,572.2 306.4,570.5 311.0,571.8 315.6,573.9 320.1,577.1 324.7,581.0 329.3,586.0 333.9,591.7 338.5,597.6 343.1,603.5"/>
<polyline stroke="#0a6ec4" points="237.5,629.8 242.1,631.1 246.7,632.2 251.3,632.2 255.9,631.9 260.4,630.9 265.0,626.7 269.6,621.5 274.2,615.0 278.8,607.9 283.4,599.9 288.0,592.4 292.6,586.5 297.2,582.4 301.8,580.1 306.4,579.7 311.0,582.9 315.6,587.3 320.1,592.8 324.7,598.8 329.3,604.9 333.9,611.1 338.5,617.6 343.1,623.7"/>
<polyline stroke="#ff4a00" points="237.5,610.2 242.1,612.5 246.7,614.1 251.3,615.2 255.9,616.5 260.4,614.8 265.0,612.3 269.6,609.4 274.2,604.3 278.8,597.6 283.4,588.4 288.0,579.3 292.6,572.3 297.2,568.0 301.8,566.4 306.4,565.7 311.0,568.1 315.6,571.5 320.1,575.8 324.7,580.3 329.3,585.3 333.9,590.8 338.5,596.3 343.1,602.1"/>
<polyline stroke="#ffaa00" points="237.5,618.1 242.1,618.7 246.7,618.8 251.3,618.4 255.9,618.5 260.4,616.2 265.0,613.6 269.6,610.9 274.2,606.8 278.8,601.6 283.4,594.9 288.0,588.6 292.6,583.9 297.2,580.6 301.8,578.8 306.4,578.1 311.0,580.7 315.6,583.9 320.1,587.9 324.7,592.0 329.3,596.6 333.9,601.6 338.5,607.1 343.1,612.6"/>
<polyline stroke="#8c1aa8" points="237.5,622.8 242.1,623.4 246.7,624.2 251.3,625.0 255.9,626.0 260.4,625.9 265.0,623.9 269.6,620.6 274.2,615.3 278.8,608.8 283.4,600.7 288.0,592.5 292.6,586.0 297.2,581.6 301.8,579.6 306.4,579.3 311.0,582.3 315.6,585.6 320.1,589.1 324.7,592.4 329.3,595.9 333.9,600.2 338.5,605.4 343.1,611.2"/>
<polyline stroke="#5db320" points="237.5,614.8 242.1,617.0 246.7,618.3 251.3,618.9 255.9,619.5 260.4,617.7 265.0,614.8 269.6,611.4 274.2,606.3 278.8,599.7 283.4,590.9 288.0,582.2 292.6,575.4 297.2,570.8 301.8,568.3 306.4,566.4 311.0,567.1 315.6,568.2 320.1,570.2 324.7,572.8 329.3,577.2 333.9,582.8 338.5,589.4 343.1,596.9"/>
<polyline stroke="#12b0ea" points="237.5,618.8 242.1,621.0 246.7,622.9 251.3,624.1 255.9,625.2 260.4,624.6 265.0,621.9 269.6,617.9 274.2,612.1 278.8,605.2 283.4,596.8 288.0,588.8 292.6,583.0 297.2,579.3 301.8,577.7 306.4,577.2 311.0,579.7 315.6,582.6 320.1,586.4 324.7,590.6 329.3,595.5 333.9,601.5 338.5,608.1 343.1,614.8"/>
<polyline stroke="#c8102e" points="237.5,604.0 242.1,606.8 246.7,609.5 251.3,611.2 255.9,612.7 260.4,610.1 265.0,607.0 269.6,603.5 274.2,597.7 278.8,589.8 283.4,578.8 288.0,567.7 292.6,559.9 297.2,555.2 301.8,553.2 306.4,551.7 311.0,555.0 315.6,559.4 320.1,565.2 324.7,570.9 329.3,577.5 333.9,584.1 338.5,590.4 343.1,596.5"/>
<polyline stroke="#0a6ec4" points="237.5,610.2 242.1,612.6 246.7,614.5 251.3,616.0 255.9,617.7 260.4,616.8 265.0,615.3 269.6,613.4 274.2,609.7 278.8,604.8 283.4,598.6 288.0,592.7 292.6,587.9 297.2,584.1 301.8,581.5 306.4,580.3 311.0,582.1 315.6,584.2 320.1,587.1 324.7,589.9 329.3,593.4 333.9,597.6 338.5,602.2 343.1,607.1"/>
<polyline stroke="#ff4a00" points="237.5,624.5 242.1,624.7 246.7,624.7 251.3,624.2 255.9,624.1 260.4,622.8 265.0,620.0 269.6,616.6 274.2,611.4 278.8,605.0 283.4,596.6 288.0,588.1 292.6,581.2 297.2,576.5 301.8,574.5 306.4,574.2 311.0,577.9 315.6,583.2 320.1,589.8 324.7,596.8 329.3,603.7 333.9,610.6 338.5,617.5 343.1,623.6"/>
<polyline stroke="#ffaa00" points="237.5,620.0 242.1,622.8 246.7,624.7 251.3,625.2 255.9,625.0 260.4,622.7 265.0,618.1 269.6,613.0 274.2,606.4 278.8,598.7 283.4,589.0 288.0,580.0 292.6,573.5 297.2,569.8 301.8,568.6 306.4,568.6 311.0,571.9 315.6,576.4 320.1,582.1 324.7,588.2 329.3,594.6 333.9,601.1 338.5,607.3 343.1,612.8"/>
<polyline stroke="#8c1aa8" points="237.5,620.0 242.1,622.0 246.7,623.3 251.3,623.7 255.9,624.0 260.4,622.6 265.0,619.4 269.6,615.4 274.2,609.7 278.8,602.8 283.4,594.1 288.0,585.6 292.6,579.1 297.2,574.9 301.8,573.0 306.4,572.1 311.0,574.3 315.6,577.2 320.1,581.1 324.7,585.5 329.3,591.1 333.9,597.7 338.5,605.1 343.1,613.0"/>
<polyline stroke="#5db320" points="237.5,622.6 242.1,624.8 246.7,626.6 251.3,627.7 255.9,628.8 260.4,629.1 265.0,627.0 269.6,623.8 274.2,619.2 278.8,614.4 283.4,609.2 288.0,601.2 292.6,593.5 297.2,587.6 301.8,584.1 306.4,583.6 311.0,587.5 315.6,593.2 320.1,595.0 324.7,596.8 329.3,599.2 333.9,603.0 338.5,607.9 343.1,613.6"/>
<polyline stroke="#12b0ea" points="237.5,615.3 242.1,617.5 246.7,619.1 251.3,619.9 255.9,620.7 260.4,618.9 265.0,615.7 269.6,611.6 274.2,605.4 278.8,597.4 283.4,586.6 288.0,575.6 292.6,567.3 297.2,562.3 301.8,560.5 306.4,559.5 311.0,561.6 315.6,564.7 320.1,569.0 324.7,573.6 329.3,579.2 333.9,585.2 338.5,591.1 343.1,597.0"/>
<polyline stroke="#c8102e" points="237.5,624.1 242.1,627.4 246.7,630.0 251.3,631.4 255.9,632.0 260.4,631.9 265.0,628.7 269.6,623.9 274.2,617.6 278.8,610.6 283.4,602.5 288.0,594.2 292.6,587.2 297.2,582.2 301.8,579.6 306.4,579.2 311.0,582.6 315.6,587.0 320.1,592.4 324.7,597.8 329.3,602.9 333.9,608.1 338.5,613.3 343.1,618.3"/>
<polyline stroke="#0a6ec4" points="237.5,616.0 242.1,617.8 246.7,618.6 251.3,618.5 255.9,618.2 260.4,614.8 265.0,610.2 269.6,605.3 274.2,598.4 278.8,589.2 283.4,577.6 288.0,567.9 292.6,561.2 297.2,557.2 301.8,555.6 306.4,553.7 311.0,554.2 315.6,556.6 320.1,562.7 324.7,569.5 329.3,577.3 333.9,585.3 338.5,592.9 343.1,600.4"/>
<polyline stroke="#ff4a00" points="237.5,615.9 242.1,618.4 246.7,620.3 251.3,621.4 255.9,622.6 260.4,621.7 265.0,619.2 269.6,615.8 274.2,610.3 278.8,603.4 283.4,594.1 288.0,584.1 292.6,575.5 297.2,569.4 301.8,566.2 306.4,564.6 311.0,567.0 315.6,571.4 320.1,577.6 324.7,584.4 329.3,591.9 333.9,599.5 338.5,606.6 343.1,613.2"/>
<polyline stroke="#ffaa00" points="237.5,629.5 242.1,631.0 246.7,632.0 251.3,632.1 255.9,632.1 260.4,632.1 265.0,629.7 269.6,626.3 274.2,621.4 278.8,615.0 283.4,608.4 288.0,602.6 292.6,595.8 297.2,589.0 301.8,583.9 306.4,581.2 311.0,582.6 315.6,585.5 320.1,590.1 324.7,595.5 329.3,601.4 333.9,607.8 338.5,614.5 343.1,620.7"/>
<polyline stroke="#8c1aa8" points="237.5,611.8 242.1,614.0 246.7,615.3 251.3,615.8 255.9,616.2 260.4,613.1 265.0,609.3 269.6,605.2 274.2,599.2 278.8,591.3 283.4,580.6 288.0,570.3 292.6,563.5 297.2,560.1 301.8,559.3 306.4,558.7 311.0,560.7 315.6,563.5 320.1,567.5 324.7,572.2 329.3,578.7 333.9,586.2 338.5,594.1 343.1,602.0"/>
<polyline stroke="#5db320" points="237.5,622.8 242.1,624.8 246.7,626.3 251.3,627.0 255.9,627.6 260.4,627.0 265.0,624.2 269.6,620.3 274.2,614.8 278.8,608.7 283.4,601.7 288.0,595.3 292.6,590.7 297.2,587.7 301.8,586.2 306.4,585.9 311.0,588.2 315.6,590.1 320.1,591.6 324.7,593.0 329.3,595.1 333.9,598.6 338.5,603.4 343.1,609.1"/>
<polyline stroke="#12b0ea" points="237.5,605.9 242.1,609.1 246.7,611.1 251.3,612.2 255.9,613.4 260.4,611.1 265.0,608.6 269.6,605.8 274.2,600.7 278.8,593.6 283.4,583.6 288.0,573.2 292.6,565.1 297.2,559.9 301.8,557.3 306.4,554.9 311.0,555.3 315.6,557.2 320.1,561.1 324.7,566.0 329.3,573.2 333.9,581.3 338.5,589.4 343.1,597.4"/>
<polyline stroke="#c8102e" points="237.5,616.4 242.1,618.2 246.7,619.1 251.3,619.2 255.9,619.2 260.4,616.5 265.0,612.7 269.6,608.5 274.2,602.4 278.8,594.5 283.4,583.7 288.0,573.0 292.6,565.2 297.2,561.1 301.8,560.4 306.4,560.9 311.0,565.2 315.6,571.1 320.1,578.3 324.7,585.8 329.3,593.3 333.9,600.7 338.5,607.7 343.1,614.3"/>
<polyline stroke="#0a6ec4" points="237.5,603.3 242.1,606.5 246.7,608.5 251.3,609.6 255.9,610.8 260.4,607.7 265.0,604.7 269.6,601.5 274.2,596.1 278.8,588.3 283.4,577.1 288.0,565.9 292.6,558.0 297.2,553.6 301.8,552.5 306.4,551.4 311.0,553.1 315.6,556.1 320.1,560.6 324.7,565.8 329.3,572.6 333.9,580.0 338.5,587.1 343.1,594.3"/>
<polyline stroke="#ff4a00" points="237.5,608.7 242.1,610.6 246.7,611.3 251.3,611.1 255.9,611.0 260.4,608.9 265.0,607.0 269.6,604.3 274.2,599.0 278.8,591.0 283.4,579.1 288.0,566.2 292.6,560.2 297.2,558.6 301.8,559.9 306.4,561.4 311.0,566.1 315.6,571.5 320.1,577.7 324.7,583.8 329.3,590.0 333.9,596.0 338.5,601.8 343.1,607.2"/>
<polyline stroke="#ffaa00" points="237.5,630.5 242.1,631.5 246.7,632.6 251.3,632.9 255.9,633.1 260.4,633.3 265.0,630.5 269.6,626.4 274.2,620.9 278.8,615.1 283.4,608.7 288.0,602.3 292.6,596.3 297.2,591.3 301.8,587.8 306.4,586.7 311.0,589.2 315.6,592.7 320.1,597.1 324.7,601.8 329.3,606.4 333.9,611.8 338.5,617.7 343.1,623.7"/>
</g>
<path d="M232.9 648.5v-1.1M232.9 544.8v1.1M278.8 648.5v-1.1M278.8 544.8v1.1M324.7 648.5v-1.1M324.7 544.8v1.1M232.9 648.5h1.1M343.1 648.5h-1.1M232.9 596.6h1.1M343.1 596.6h-1.1M232.9 544.8h1.1M343.1 544.8h-1.1" stroke="#262626" stroke-width="1" fill="none"/>
<text class="k" x="232.9" y="664.5" font-size="12.3" text-anchor="middle" fill="#262626">0</text>
<text class="k" x="278.8" y="664.5" font-size="12.3" text-anchor="middle" fill="#262626">10</text>
<text class="k" x="324.7" y="664.5" font-size="12.3" text-anchor="middle" fill="#262626">20</text>
<text class="k" x="228.4" y="653.7" font-size="12.3" text-anchor="end" fill="#262626">1000</text>
<text class="k" x="228.4" y="601.9" font-size="12.3" text-anchor="end" fill="#262626">2000</text>
<text class="k" x="228.4" y="550.0" font-size="12.3" text-anchor="end" fill="#262626">3000</text>
<text class="t" x="206.8" y="538.9" font-size="12.6" textLength="162.4" lengthAdjust="spacing" fill="#000">typical daily 5 frequency87</text>
<text x="257.9" y="685.7" font-size="16.5" textLength="60.2" lengthAdjust="spacingAndGlyphs" fill="#262626">time (h)</text>
<text transform="translate(187.9 596.6) rotate(-90)" x="0" y="6.3" font-size="17.4" text-anchor="middle" fill="#262626">power (kW)</text>
<rect x="408.2" y="544.8" width="110.2" height="103.7" fill="none" stroke="#262626" stroke-width="1"/>
<clipPath id="c11"><rect x="406.2" y="542.8" width="114.2" height="107.7"/></clipPath>
<g clip-path="url(#c11)" fill="none" stroke-width="2.6" stroke-linejoin="round" stroke-linecap="butt">
<polyline stroke="#0a6ec4" points="412.8,579.4 417.4,578.3 422.0,577.2 426.6,576.1 431.2,573.3 435.8,570.4 440.3,569.4 444.9,568.9 449.5,567.8 454.1,566.2 458.7,568.3 463.3,571.9 467.9,576.7 472.5,578.8 477.1,580.9 481.7,581.2 486.3,582.6 490.8,585.4 495.4,586.8 500.0,588.3 504.6,589.7 509.2,591.2 513.8,592.6 518.4,594.1"/>
<polyline stroke="#ff4a00" points="412.8,637.3 417.4,635.3 422.0,633.5 426.6,631.0 431.2,628.5 435.8,626.0 440.3,623.1 444.9,620.0 449.5,619.1 454.1,617.7 458.7,621.0 463.3,624.5 467.9,629.9 472.5,635.7 477.1,640.1 481.7,644.0 486.3,644.8 490.8,641.7 495.4,635.9 500.0,630.1 504.6,630.5 509.2,631.7 513.8,635.4 518.4,639.2"/>
<polyline stroke="#ffaa00" points="412.8,576.4 417.4,574.7 422.0,573.0 426.6,570.1 431.2,565.6 435.8,561.1 440.3,554.2 444.9,546.5 449.5,551.5 454.1,560.9 458.7,573.2 463.3,583.1 467.9,591.2 472.5,597.0 477.1,602.8 481.7,604.2 486.3,605.7 490.8,602.8 495.4,599.9 500.0,598.4 504.6,597.0 509.2,598.9 513.8,600.8 518.4,602.8"/>
<polyline stroke="#8c1aa8" points="412.8,632.4 417.4,631.2 422.0,630.0 426.6,628.8 431.2,626.0 435.8,623.1 440.3,620.2 444.9,617.3 449.5,614.4 454.1,615.8 458.7,617.3 463.3,620.2 467.9,623.1 472.5,620.2 477.1,617.3 481.7,612.4 486.3,607.6 490.8,602.8 495.4,597.8 500.0,592.8 504.6,587.9 509.2,585.1 513.8,584.5 518.4,583.9"/>
<polyline stroke="#5db320" points="412.8,585.4 417.4,583.9 422.0,582.5 426.6,579.6 431.2,576.7 435.8,570.9 440.3,565.9 444.9,562.5 449.5,565.1 454.1,573.8 458.7,582.5 463.3,589.7 467.9,597.0 472.5,601.3 477.1,605.7 481.7,607.1 486.3,608.6 490.8,606.6 495.4,604.7 500.0,602.8 504.6,604.2 509.2,605.7 513.8,607.1 518.4,608.6"/>
<polyline stroke="#12b0ea" points="412.8,604.2 417.4,602.9 422.0,601.6 426.6,599.4 431.2,596.1 435.8,592.4 440.3,589.3 444.9,586.5 449.5,584.3 454.1,582.2 458.7,585.3 463.3,589.7 467.9,596.4 472.5,604.4 477.1,611.6 481.7,616.6 486.3,617.6 490.8,613.2 495.4,608.4 500.0,604.5 504.6,603.7 509.2,604.6 513.8,606.9 518.4,608.8"/>
<polyline stroke="#c8102e" points="412.8,608.6 417.4,606.6 422.0,604.7 426.6,602.8 431.2,598.9 435.8,595.0 440.3,591.2 444.9,588.3 449.5,585.4 454.1,586.8 458.7,588.3 463.3,589.7 467.9,591.2 472.5,588.3 477.1,585.4 481.7,583.0 486.3,580.4 490.8,575.2 495.4,573.8 500.0,573.4 504.6,573.0 509.2,573.6 513.8,575.3 518.4,577.1"/>
<polyline stroke="#0a6ec4" points="412.8,593.3 417.4,592.1 422.0,590.9 426.6,588.9 431.2,586.0 435.8,582.8 440.3,580.5 444.9,578.7 449.5,577.0 454.1,575.1 458.7,577.3 463.3,580.1 467.9,584.5 472.5,589.5 477.1,594.0 481.7,595.3 486.3,594.1 490.8,589.4 495.4,587.3 500.0,586.6 504.6,587.1 509.2,589.1 513.8,592.0 518.4,594.3"/>
<polyline stroke="#ff4a00" points="412.8,617.1 417.4,615.1 422.0,613.1 426.6,610.5 431.2,607.7 435.8,605.2 440.3,603.5 444.9,602.3 449.5,602.5 454.1,602.6 458.7,608.2 463.3,613.4 467.9,619.5 472.5,625.1 477.1,628.7 481.7,630.5 486.3,627.7 490.8,619.2 495.4,610.4 500.0,604.0 504.6,601.9 509.2,602.6 513.8,605.4 518.4,608.3"/>
<polyline stroke="#ffaa00" points="412.8,641.0 417.4,640.8 422.0,636.8 426.6,632.6 431.2,628.9 435.8,626.0 440.3,623.6 444.9,621.6 449.5,622.4 454.1,623.3 458.7,627.7 463.3,631.4 467.9,636.1 472.5,640.4 477.1,643.1 481.7,645.7 486.3,646.2 490.8,643.2 495.4,637.7 500.0,632.3 504.6,633.5 509.2,634.5 513.8,638.0 518.4,641.7"/>
<polyline stroke="#8c1aa8" points="412.8,601.8 417.4,602.1 422.0,602.6 426.6,602.3 431.2,600.9 435.8,598.8 440.3,596.5 444.9,594.0 449.5,592.1 454.1,590.1 458.7,593.5 463.3,597.5 467.9,602.9 472.5,608.6 477.1,612.8 481.7,614.7 486.3,612.5 490.8,605.7 495.4,599.8 500.0,595.5 504.6,593.3 509.2,592.3 513.8,592.4 518.4,592.9"/>
<polyline stroke="#5db320" points="412.8,631.5 417.4,628.5 422.0,625.7 426.6,622.1 431.2,618.5 435.8,615.1 440.3,612.3 444.9,610.3 449.5,610.7 454.1,611.1 458.7,616.9 463.3,621.9 467.9,627.6 472.5,632.9 477.1,636.2 481.7,638.8 486.3,637.8 490.8,631.7 495.4,623.6 500.0,616.7 504.6,614.5 509.2,614.1 513.8,615.8 518.4,617.6"/>
<polyline stroke="#12b0ea" points="412.8,620.2 417.4,619.2 422.0,618.2 426.6,617.3 431.2,614.4 435.8,611.5 440.3,608.6 444.9,607.1 449.5,605.7 454.1,610.0 458.7,614.4 463.3,621.6 467.9,628.8 472.5,634.6 477.1,640.4 481.7,645.2 486.3,645.9 490.8,640.4 495.4,635.8 500.0,631.8 504.6,632.5 509.2,634.8 513.8,638.5 518.4,642.2"/>
<polyline stroke="#c8102e" points="412.8,642.9 417.4,640.8 422.0,638.7 426.6,636.6 431.2,634.4 435.8,632.2 440.3,629.4 444.9,626.3 449.5,624.5 454.1,623.1 458.7,622.8 463.3,624.8 467.9,631.7 472.5,637.0 477.1,642.2 481.7,644.7 486.3,644.6 490.8,640.4 495.4,637.5 500.0,634.6 504.6,636.1 509.2,637.5 513.8,639.0 518.4,640.4"/>
<polyline stroke="#0a6ec4" points="412.8,629.0 417.4,627.9 422.0,627.5 426.6,626.9 431.2,626.4 435.8,625.6 440.3,624.4 444.9,622.6 449.5,623.2 454.1,623.5 458.7,627.3 463.3,630.7 467.9,635.3 472.5,639.8 477.1,642.6 481.7,645.2 486.3,645.3 490.8,641.4 495.4,634.4 500.0,627.6 504.6,627.0 509.2,627.5 513.8,630.5 518.4,633.6"/>
<polyline stroke="#ff4a00" points="412.8,592.8 417.4,590.6 422.0,588.5 426.6,585.9 431.2,582.8 435.8,580.1 440.3,579.0 444.9,578.7 449.5,578.5 454.1,577.9 458.7,581.4 463.3,585.2 467.9,590.1 472.5,595.4 477.1,599.8 481.7,601.6 486.3,600.3 490.8,595.3 495.4,592.3 500.0,590.8 504.6,591.1 509.2,592.9 513.8,595.7 518.4,597.8"/>
<polyline stroke="#ffaa00" points="412.8,615.2 417.4,614.8 422.0,614.0 426.6,612.1 431.2,609.7 435.8,607.5 440.3,606.1 444.9,605.3 449.5,606.5 454.1,607.7 458.7,614.0 463.3,619.6 467.9,625.4 472.5,630.4 477.1,633.3 481.7,634.9 486.3,632.4 490.8,624.4 495.4,615.8 500.0,609.7 504.6,608.8 509.2,611.0 513.8,615.9 518.4,621.3"/>
<polyline stroke="#8c1aa8" points="412.8,589.2 417.4,587.1 422.0,584.0 426.6,580.0 431.2,575.2 435.8,570.7 440.3,570.6 444.9,571.3 449.5,571.4 454.1,571.2 458.7,574.5 463.3,578.6 467.9,583.9 472.5,589.2 477.1,593.1 481.7,592.7 486.3,588.4 490.8,580.2 495.4,575.8 500.0,573.5 504.6,573.6 509.2,574.4 513.8,575.4 518.4,578.6"/>
<polyline stroke="#5db320" points="412.8,602.8 417.4,602.2 422.0,601.6 426.6,600.3 431.2,598.1 435.8,595.3 440.3,592.6 444.9,589.7 449.5,586.9 454.1,583.7 458.7,585.1 463.3,586.9 467.9,590.5 472.5,595.5 477.1,601.0 481.7,605.3 486.3,607.7 490.8,606.3 495.4,605.3 500.0,604.6 504.6,606.2 509.2,608.9 513.8,612.5 518.4,615.1"/>
<polyline stroke="#12b0ea" points="412.8,642.0 417.4,638.8 422.0,634.6 426.6,629.2 431.2,623.5 435.8,617.9 440.3,612.8 444.9,608.8 449.5,607.2 454.1,606.3 458.7,611.7 463.3,617.5 467.9,624.6 472.5,631.7 477.1,636.7 481.7,640.6 486.3,640.8 490.8,635.9 495.4,628.4 500.0,621.5 504.6,620.2 509.2,620.9 513.8,624.5 518.4,628.6"/>
<polyline stroke="#c8102e" points="412.8,585.0 417.4,582.8 422.0,581.2 426.6,579.2 431.2,576.6 435.8,574.2 440.3,573.5 444.9,573.8 449.5,574.0 454.1,574.1 458.7,578.2 463.3,582.9 467.9,588.9 472.5,595.3 477.1,600.7 481.7,603.2 486.3,602.0 490.8,595.8 495.4,590.9 500.0,587.2 504.6,584.9 509.2,583.8 513.8,583.7 518.4,583.1"/>
<polyline stroke="#0a6ec4" points="412.8,615.2 417.4,614.8 422.0,613.8 426.6,611.6 431.2,608.7 435.8,605.6 440.3,603.0 444.9,600.9 449.5,600.3 454.1,599.7 458.7,604.8 463.3,609.8 467.9,615.8 472.5,621.7 477.1,625.9 481.7,628.8 486.3,628.0 490.8,622.3 495.4,616.2 500.0,611.6 504.6,611.2 509.2,612.6 513.8,615.6 518.4,618.0"/>
<polyline stroke="#ff4a00" points="412.8,639.2 417.4,638.4 422.0,637.8 426.6,636.3 431.2,634.0 435.8,631.4 440.3,628.8 444.9,625.0 449.5,623.6 454.1,622.0 458.7,624.8 463.3,627.8 467.9,632.6 472.5,637.7 477.1,641.1 481.7,644.2 486.3,644.3 490.8,640.1 495.4,632.7 500.0,625.4 504.6,623.8 509.2,624.1 513.8,627.4 518.4,631.5"/>
<polyline stroke="#ffaa00" points="412.8,603.9 417.4,602.8 422.0,601.5 426.6,599.2 431.2,596.1 435.8,592.7 440.3,590.0 444.9,587.6 449.5,585.7 454.1,583.6 458.7,586.4 463.3,590.2 467.9,595.8 472.5,602.4 477.1,608.0 481.7,611.2 486.3,610.6 490.8,605.3 495.4,600.8 500.0,597.7 504.6,597.0 509.2,597.7 513.8,599.6 518.4,601.0"/>
<polyline stroke="#8c1aa8" points="412.8,628.1 417.4,625.7 422.0,623.5 426.6,620.6 431.2,617.4 435.8,614.3 440.3,611.4 444.9,608.9 449.5,608.4 454.1,608.1 458.7,613.5 463.3,618.7 467.9,624.8 472.5,630.7 477.1,634.5 481.7,637.5 486.3,636.7 490.8,630.8 495.4,623.4 500.0,617.5 504.6,617.0 509.2,618.6 513.8,623.0 518.4,627.8"/>
<polyline stroke="#5db320" points="412.8,579.9 417.4,580.4 422.0,581.0 426.6,580.0 431.2,577.4 435.8,574.3 440.3,572.4 444.9,571.0 449.5,568.9 454.1,566.5 458.7,567.8 463.3,570.5 467.9,574.9 472.5,580.6 477.1,586.7 481.7,589.6 486.3,590.0 490.8,586.0 495.4,583.6 500.0,581.4 504.6,579.5 509.2,578.4 513.8,578.1 518.4,577.7"/>
<polyline stroke="#12b0ea" points="412.8,605.0 417.4,604.1 422.0,603.6 426.6,602.6 431.2,600.9 435.8,598.7 440.3,596.6 444.9,594.5 449.5,593.1 454.1,591.5 458.7,595.4 463.3,599.7 467.9,605.4 472.5,611.8 477.1,617.0 481.7,620.4 486.3,619.9 490.8,614.1 495.4,608.1 500.0,603.2 504.6,601.4 509.2,601.4 513.8,603.0 518.4,605.0"/>
<polyline stroke="#c8102e" points="412.8,638.6 417.4,636.9 422.0,634.7 426.6,631.7 431.2,628.4 435.8,625.0 440.3,621.1 444.9,617.0 449.5,615.1 454.1,613.2 458.7,617.2 463.3,621.9 467.9,628.6 472.5,635.6 477.1,640.4 481.7,644.3 486.3,645.0 490.8,641.6 495.4,635.0 500.0,628.0 504.6,626.5 509.2,626.0 513.8,628.1 518.4,630.7"/>
<polyline stroke="#0a6ec4" points="412.8,595.3 417.4,591.3 422.0,587.8 426.6,584.7 431.2,581.8 435.8,579.8 440.3,579.8 444.9,580.5 449.5,581.1 454.1,581.1 458.7,585.4 463.3,589.8 467.9,595.2 472.5,600.5 477.1,604.0 481.7,603.3 486.3,597.6 490.8,587.3 495.4,580.7 500.0,577.7 504.6,577.1 509.2,579.2 513.8,583.6 518.4,588.3"/>
<polyline stroke="#ff4a00" points="412.8,617.1 417.4,616.8 422.0,616.6 426.6,615.6 431.2,614.1 435.8,612.1 440.3,610.0 444.9,607.6 449.5,606.7 454.1,605.6 458.7,610.1 463.3,615.0 467.9,621.5 472.5,628.3 477.1,633.2 481.7,637.1 486.3,636.8 490.8,631.1 495.4,623.3 500.0,616.6 504.6,614.9 509.2,615.3 513.8,618.2 518.4,621.3"/>
<polyline stroke="#ffaa00" points="412.8,642.5 417.4,640.2 422.0,638.1 426.6,635.5 431.2,633.2 435.8,631.2 440.3,628.7 444.9,624.9 449.5,624.0 454.1,623.0 458.7,626.2 463.3,629.4 467.9,634.1 472.5,638.8 477.1,641.8 481.7,644.5 486.3,644.7 490.8,641.0 495.4,634.8 500.0,629.3 504.6,630.3 509.2,632.2 513.8,636.7 518.4,641.0"/>
<polyline stroke="#8c1aa8" points="412.8,594.9 417.4,592.2 422.0,590.3 426.6,588.6 431.2,586.9 435.8,585.8 440.3,586.1 444.9,586.7 449.5,587.7 454.1,588.2 458.7,593.4 463.3,598.5 467.9,604.2 472.5,609.8 477.1,614.0 481.7,616.3 486.3,615.1 490.8,609.4 495.4,604.7 500.0,601.7 504.6,601.8 509.2,603.9 513.8,607.7 518.4,611.3"/>
<polyline stroke="#5db320" points="412.8,618.6 417.4,618.6 422.0,619.0 426.6,619.1 431.2,618.9 435.8,618.4 440.3,617.5 444.9,616.1 449.5,616.5 454.1,616.6 458.7,621.4 463.3,625.7 467.9,630.8 472.5,635.5 477.1,638.2 481.7,640.4 486.3,639.0 490.8,632.7 495.4,625.1 500.0,619.4 504.6,620.0 509.2,623.0 513.8,628.6 518.4,634.0"/>
<polyline stroke="#12b0ea" points="412.8,585.1 417.4,583.4 422.0,582.1 426.6,580.8 431.2,579.0 435.8,577.4 440.3,576.8 444.9,576.0 449.5,574.5 454.1,572.4 458.7,573.6 463.3,575.7 467.9,580.0 472.5,586.3 477.1,593.5 481.7,598.6 486.3,601.1 490.8,598.7 495.4,596.5 500.0,594.3 504.6,593.7 509.2,594.4 513.8,596.3 518.4,598.0"/>
<polyline stroke="#c8102e" points="412.8,607.4 417.4,604.7 422.0,602.8 426.6,600.9 431.2,598.8 435.8,596.8 440.3,595.4 444.9,594.0 449.5,593.2 454.1,591.8 458.7,595.4 463.3,599.1 467.9,604.3 472.5,610.2 477.1,615.2 481.7,618.1 486.3,616.8 490.8,610.0 495.4,603.6 500.0,599.3 504.6,598.7 509.2,600.8 513.8,605.2 518.4,610.0"/>
<polyline stroke="#0a6ec4" points="412.8,635.1 417.4,634.3 422.0,633.0 426.6,630.5 431.2,627.9 435.8,625.3 440.3,622.5 444.9,619.8 449.5,619.3 454.1,618.4 458.7,622.1 463.3,625.7 467.9,630.9 472.5,636.3 477.1,640.0 481.7,643.4 486.3,643.7 490.8,639.7 495.4,632.8 500.0,626.2 504.6,625.4 509.2,626.1 513.8,629.6 518.4,633.3"/>
<polyline stroke="#ff4a00" points="412.8,596.0 417.4,592.9 422.0,590.1 426.6,587.1 431.2,584.1 435.8,581.9 440.3,581.5 444.9,581.8 449.5,582.3 454.1,582.2 458.7,586.2 463.3,590.3 467.9,595.4 472.5,601.2 477.1,606.2 481.7,609.1 486.3,608.5 490.8,603.2 495.4,598.8 500.0,595.8 504.6,595.3 509.2,596.7 513.8,599.5 518.4,602.3"/>
<polyline stroke="#ffaa00" points="412.8,616.6 417.4,614.0 422.0,611.6 426.6,608.7 431.2,606.0 435.8,603.7 440.3,602.5 444.9,601.6 449.5,602.0 454.1,602.1 458.7,607.5 463.3,612.7 467.9,619.2 472.5,625.8 477.1,630.9 481.7,635.2 486.3,635.6 490.8,631.1 495.4,624.7 500.0,619.1 504.6,618.4 509.2,619.3 513.8,622.2 518.4,625.1"/>
<polyline stroke="#8c1aa8" points="412.8,582.4 417.4,580.8 422.0,579.4 426.6,577.5 431.2,575.0 435.8,572.8 440.3,572.3 444.9,572.6 449.5,572.4 454.1,572.1 458.7,575.2 463.3,578.7 467.9,583.0 472.5,587.1 477.1,589.7 481.7,587.7 486.3,583.0 490.8,575.7 495.4,574.5 500.0,574.5 504.6,574.2 509.2,575.2 513.8,577.4 518.4,579.7"/>
<polyline stroke="#5db320" points="412.8,607.4 417.4,606.0 422.0,604.7 426.6,602.9 431.2,600.8 435.8,599.0 440.3,598.1 444.9,597.4 449.5,597.7 454.1,597.7 458.7,602.9 463.3,607.6 467.9,612.9 472.5,617.9 477.1,621.1 481.7,622.5 486.3,619.5 490.8,611.2 495.4,603.3 500.0,597.5 504.6,595.3 509.2,595.7 513.8,598.7 518.4,602.6"/>
<polyline stroke="#12b0ea" points="412.8,632.0 417.4,630.2 422.0,628.4 426.6,626.1 431.2,623.8 435.8,621.4 440.3,618.9 444.9,616.4 449.5,616.2 454.1,616.0 458.7,620.9 463.3,625.6 467.9,631.3 472.5,637.0 477.1,640.7 481.7,644.0 486.3,644.4 490.8,640.6 495.4,634.1 500.0,627.5 504.6,626.6 509.2,626.5 513.8,628.8 518.4,631.2"/>
<polyline stroke="#c8102e" points="412.8,590.3 417.4,590.3 422.0,590.2 426.6,589.2 431.2,587.4 435.8,585.4 440.3,584.3 444.9,583.2 449.5,581.9 454.1,579.7 458.7,581.0 463.3,582.2 467.9,584.9 472.5,588.9 477.1,593.6 481.7,596.1 486.3,596.3 490.8,592.1 495.4,589.1 500.0,586.8 504.6,585.7 509.2,586.3 513.8,588.2 518.4,590.4"/>
<polyline stroke="#0a6ec4" points="412.8,621.7 417.4,619.5 422.0,617.0 426.6,613.8 431.2,610.5 435.8,607.8 440.3,606.0 444.9,604.8 449.5,605.2 454.1,605.3 458.7,610.6 463.3,615.6 467.9,621.6 472.5,627.7 477.1,632.1 481.7,635.7 486.3,635.6 490.8,630.5 495.4,623.7 500.0,617.9 504.6,616.9 509.2,617.4 513.8,619.6 518.4,621.3"/>
<polyline stroke="#ff4a00" points="412.8,641.8 417.4,640.5 422.0,638.9 426.6,636.2 431.2,633.1 435.8,630.0 440.3,626.5 444.9,623.2 449.5,622.9 454.1,622.7 458.7,626.7 463.3,630.5 467.9,635.4 472.5,640.1 477.1,642.9 481.7,645.6 486.3,645.9 490.8,642.5 495.4,636.5 500.0,630.8 504.6,631.7 509.2,633.3 513.8,637.4 518.4,641.2"/>
<polyline stroke="#ffaa00" points="412.8,604.3 417.4,603.5 422.0,602.5 426.6,600.8 431.2,598.4 435.8,595.9 440.3,593.9 444.9,591.9 449.5,590.4 454.1,588.2 458.7,590.7 463.3,593.6 467.9,598.2 472.5,604.3 477.1,610.2 481.7,614.7 486.3,615.5 490.8,611.3 495.4,607.0 500.0,604.1 504.6,604.4 509.2,606.6 513.8,610.3 518.4,613.2"/>
</g>
<path d="M408.2 648.5v-1.1M408.2 544.8v1.1M454.1 648.5v-1.1M454.1 544.8v1.1M500.0 648.5v-1.1M500.0 544.8v1.1M408.2 631.7h1.1M518.4 631.7h-1.1M408.2 602.8h1.1M518.4 602.8h-1.1M408.2 573.8h1.1M518.4 573.8h-1.1M408.2 544.8h1.1M518.4 544.8h-1.1" stroke="#262626" stroke-width="1" fill="none"/>
<text class="k" x="408.2" y="664.5" font-size="12.3" text-anchor="middle" fill="#262626">0</text>
<text class="k" x="454.1" y="664.5" font-size="12.3" text-anchor="middle" fill="#262626">10</text>
<text class="k" x="500.0" y="664.5" font-size="12.3" text-anchor="middle" fill="#262626">20</text>
<text class="k" x="403.7" y="637.0" font-size="12.3" text-anchor="end" fill="#262626">2000</text>
<text class="k" x="403.7" y="608.0" font-size="12.3" text-anchor="end" fill="#262626">2500</text>
<text class="k" x="403.7" y="579.0" font-size="12.3" text-anchor="end" fill="#262626">3000</text>
<text class="k" x="403.7" y="550.0" font-size="12.3" text-anchor="end" fill="#262626">3500</text>
<text class="t" x="382.1" y="538.9" font-size="12.6" textLength="162.4" lengthAdjust="spacing" fill="#000">typical daily 6 frequency45</text>
<text x="433.2" y="685.7" font-size="16.5" textLength="60.2" lengthAdjust="spacingAndGlyphs" fill="#262626">time (h)</text>
<text transform="translate(363.2 596.6) rotate(-90)" x="0" y="6.3" font-size="17.4" text-anchor="middle" fill="#262626">power (kW)</text>
</svg></body></html>
